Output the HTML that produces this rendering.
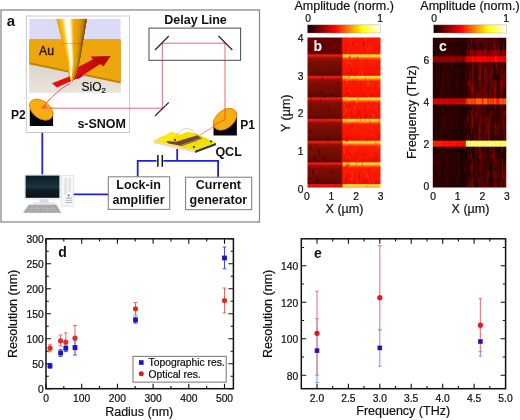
<!DOCTYPE html>
<html lang="en"><head><meta charset="utf-8"><title>Figure</title>
<style>html,body{margin:0;padding:0;background:#fff;}body{width:520px;height:420px;overflow:hidden;}svg{display:block;}text{font-family:"Liberation Sans", Arial, sans-serif;fill:#111;}.b{font-weight:bold;stroke:none !important;}.t10{font-size:10.3px;stroke:#111;stroke-width:0.22px;}.t12{font-size:12.5px;stroke:#111;stroke-width:0.2px;}.pl{font-size:14px;font-weight:bold;}</style></head><body>
<svg width="520" height="420" viewBox="0 0 520 420">
<defs>
<linearGradient id="hot" x1="0" x2="1" y1="0" y2="0"><stop offset="0" stop-color="#0c0000"/><stop offset="0.375" stop-color="#ff0000"/><stop offset="0.75" stop-color="#ffff00"/><stop offset="1" stop-color="#ffffff"/></linearGradient>
<linearGradient id="bl" x1="0" x2="0" y1="0" y2="1"><stop offset="0" stop-color="#c41408"/><stop offset="0.04" stop-color="#e41e0c"/><stop offset="0.10" stop-color="#d81a0a"/><stop offset="0.17" stop-color="#9a0e08"/><stop offset="0.32" stop-color="#800a06"/><stop offset="1" stop-color="#5c0604"/></linearGradient>
<linearGradient id="br" x1="0" x2="0" y1="0" y2="1"><stop offset="0" stop-color="#ffa820"/><stop offset="0.04" stop-color="#ffe040"/><stop offset="0.10" stop-color="#ffd42c"/><stop offset="0.16" stop-color="#ff7810"/><stop offset="0.25" stop-color="#ff2006"/><stop offset="1" stop-color="#f80e02"/></linearGradient>
<linearGradient id="tip" x1="0" x2="1" y1="0" y2="0"><stop offset="0" stop-color="#e09800"/><stop offset="0.12" stop-color="#f0b418"/><stop offset="0.22" stop-color="#fff2b8"/><stop offset="0.30" stop-color="#ffffff"/><stop offset="0.38" stop-color="#ffffff"/><stop offset="0.46" stop-color="#ffd458"/><stop offset="0.54" stop-color="#e8a208"/><stop offset="0.80" stop-color="#d89400"/><stop offset="0.93" stop-color="#b07400"/><stop offset="1" stop-color="#6a4400"/></linearGradient>
<linearGradient id="arr" gradientUnits="userSpaceOnUse" x1="52" y1="85" x2="110" y2="56"><stop offset="0" stop-color="#e81010"/><stop offset="0.45" stop-color="#dc0e0e"/><stop offset="0.75" stop-color="#c40a0a"/><stop offset="1" stop-color="#b00808"/></linearGradient>
<linearGradient id="sio" x1="0" x2="0" y1="0" y2="1"><stop offset="0" stop-color="#d8d4d0"/><stop offset="1" stop-color="#ece2d8"/></linearGradient>
<linearGradient id="scr" x1="0" x2="0" y1="0" y2="1"><stop offset="0" stop-color="#0a1a22"/><stop offset="0.55" stop-color="#1c3640"/><stop offset="0.6" stop-color="#0e2028"/><stop offset="1" stop-color="#0a1418"/></linearGradient>
<filter id="bl6" x="-5%" y="-5%" width="110%" height="110%"><feGaussianBlur stdDeviation="0.5 0.55"/></filter>
<filter id="bl4" x="-5%" y="-5%" width="110%" height="110%"><feGaussianBlur stdDeviation="0.5"/></filter>
<clipPath id="cimg"><rect x="29.4" y="18.8" width="91.2" height="73.7"/></clipPath>
<clipPath id="cb"><rect x="307.5" y="37.5" width="73" height="150"/></clipPath>
<clipPath id="cc"><rect x="432.8" y="37.7" width="73.5" height="149.8"/></clipPath>
</defs>
<rect x="0" y="0" width="520" height="420" fill="#ffffff"/>
<g id="panelA">
<rect x="1" y="10" width="258.5" height="212" fill="#ffffff" stroke="#8a8a8a" stroke-width="1.3"/>
<text class="pl" x="6.8" y="26.3" style="font-size:15px">a</text>
<rect x="26.3" y="16" width="103.1" height="116.5" fill="#ffffff" stroke="#c4c4c4" stroke-width="0.9"/>
<g clip-path="url(#cimg)">
<rect x="29" y="18" width="92" height="75" fill="#dbdbf8"/>
<rect x="29" y="60" width="92" height="33" fill="url(#sio)"/>
<polygon points="29,39.6 121,39.6 121,83.5 29,64.3" fill="#c48000"/>
<polygon points="29,39.6 121,39.6 121,81.4 29,62.2" fill="#eda60c"/>
<polygon points="52,83.3 57,87.6 76,79 82.3,75.6 100.2,64 103.6,66.3 110.6,56 91,56.5 92.7,59.4 77.1,67.5 72,72 68.1,76.9" fill="url(#arr)"/><polygon points="76.4,77.4 82.3,74.2 82.6,76.2 77.6,79" fill="#a80404"/>
<polygon points="56.20,18.00 66.90,62.50 68.80,75.00 71.00,80.20 71.70,81.60 72.30,81.60 73.00,80.20 75.20,75.00 79.40,62.50 87.00,18.00" fill="#e79f02"/>
<polygon points="57.30,18.00 67.35,62.50 69.03,75.00 71.07,80.20 71.72,81.60 72.30,81.60 73.00,80.20 75.20,75.00 79.40,62.50 87.00,18.00" fill="#f5ad07"/>
<polygon points="58.40,18.00 67.79,62.50 69.26,75.00 71.14,80.20 71.74,81.60 72.30,81.60 73.00,80.20 75.20,75.00 79.40,62.50 87.00,18.00" fill="#fab40b"/>
<polygon points="59.50,18.00 68.24,62.50 69.49,75.00 71.21,80.20 71.76,81.60 72.30,81.60 73.00,80.20 75.20,75.00 79.40,62.50 87.00,18.00" fill="#fdb90e"/>
<polygon points="60.60,18.00 68.69,62.50 69.71,75.00 71.29,80.20 71.79,81.60 72.30,81.60 73.00,80.20 75.20,75.00 79.40,62.50 87.00,18.00" fill="#ffc01b"/>
<polygon points="61.70,18.00 69.13,62.50 69.94,75.00 71.36,80.20 71.81,81.60 72.30,81.60 73.00,80.20 75.20,75.00 79.40,62.50 87.00,18.00" fill="#ffcf42"/>
<polygon points="62.80,18.00 69.58,62.50 70.17,75.00 71.43,80.20 71.83,81.60 72.30,81.60 73.00,80.20 75.20,75.00 79.40,62.50 87.00,18.00" fill="#ffe182"/>
<polygon points="63.90,18.00 70.03,62.50 70.40,75.00 71.50,80.20 71.85,81.60 72.30,81.60 73.00,80.20 75.20,75.00 79.40,62.50 87.00,18.00" fill="#fff5cc"/>
<polygon points="65.00,18.00 70.47,62.50 70.63,75.00 71.57,80.20 71.87,81.60 72.30,81.60 73.00,80.20 75.20,75.00 79.40,62.50 87.00,18.00" fill="#ffffff"/>
<polygon points="66.10,18.00 70.92,62.50 70.86,75.00 71.64,80.20 71.89,81.60 72.30,81.60 73.00,80.20 75.20,75.00 79.40,62.50 87.00,18.00" fill="#ffffff"/>
<polygon points="67.20,18.00 71.36,62.50 71.09,75.00 71.71,80.20 71.91,81.60 72.30,81.60 73.00,80.20 75.20,75.00 79.40,62.50 87.00,18.00" fill="#ffffff"/>
<polygon points="68.30,18.00 71.81,62.50 71.31,75.00 71.79,80.20 71.94,81.60 72.30,81.60 73.00,80.20 75.20,75.00 79.40,62.50 87.00,18.00" fill="#ffffff"/>
<polygon points="69.40,18.00 72.26,62.50 71.54,75.00 71.86,80.20 71.96,81.60 72.30,81.60 73.00,80.20 75.20,75.00 79.40,62.50 87.00,18.00" fill="#fff0c0"/>
<polygon points="70.50,18.00 72.70,62.50 71.77,75.00 71.93,80.20 71.98,81.60 72.30,81.60 73.00,80.20 75.20,75.00 79.40,62.50 87.00,18.00" fill="#fedb6d"/>
<polygon points="71.60,18.00 73.15,62.50 72.00,75.00 72.00,80.20 72.00,81.60 72.30,81.60 73.00,80.20 75.20,75.00 79.40,62.50 87.00,18.00" fill="#f6c23c"/>
<polygon points="72.70,18.00 73.60,62.50 72.23,75.00 72.07,80.20 72.02,81.60 72.30,81.60 73.00,80.20 75.20,75.00 79.40,62.50 87.00,18.00" fill="#eeac10"/>
<polygon points="73.80,18.00 74.04,62.50 72.46,75.00 72.14,80.20 72.04,81.60 72.30,81.60 73.00,80.20 75.20,75.00 79.40,62.50 87.00,18.00" fill="#eba90d"/>
<polygon points="74.90,18.00 74.49,62.50 72.69,75.00 72.21,80.20 72.06,81.60 72.30,81.60 73.00,80.20 75.20,75.00 79.40,62.50 87.00,18.00" fill="#e8a50b"/>
<polygon points="76.00,18.00 74.94,62.50 72.91,75.00 72.29,80.20 72.09,81.60 72.30,81.60 73.00,80.20 75.20,75.00 79.40,62.50 87.00,18.00" fill="#e5a208"/>
<polygon points="77.10,18.00 75.38,62.50 73.14,75.00 72.36,80.20 72.11,81.60 72.30,81.60 73.00,80.20 75.20,75.00 79.40,62.50 87.00,18.00" fill="#e39f06"/>
<polygon points="78.20,18.00 75.83,62.50 73.37,75.00 72.43,80.20 72.13,81.60 72.30,81.60 73.00,80.20 75.20,75.00 79.40,62.50 87.00,18.00" fill="#e09c03"/>
<polygon points="79.30,18.00 76.28,62.50 73.60,75.00 72.50,80.20 72.15,81.60 72.30,81.60 73.00,80.20 75.20,75.00 79.40,62.50 87.00,18.00" fill="#dd9901"/>
<polygon points="80.40,18.00 76.72,62.50 73.83,75.00 72.57,80.20 72.17,81.60 72.30,81.60 73.00,80.20 75.20,75.00 79.40,62.50 87.00,18.00" fill="#d69200"/>
<polygon points="81.50,18.00 77.17,62.50 74.06,75.00 72.64,80.20 72.19,81.60 72.30,81.60 73.00,80.20 75.20,75.00 79.40,62.50 87.00,18.00" fill="#cc8a00"/>
<polygon points="82.60,18.00 77.61,62.50 74.29,75.00 72.71,80.20 72.21,81.60 72.30,81.60 73.00,80.20 75.20,75.00 79.40,62.50 87.00,18.00" fill="#c38200"/>
<polygon points="83.70,18.00 78.06,62.50 74.51,75.00 72.79,80.20 72.24,81.60 72.30,81.60 73.00,80.20 75.20,75.00 79.40,62.50 87.00,18.00" fill="#b47600"/>
<polygon points="84.80,18.00 78.51,62.50 74.74,75.00 72.86,80.20 72.26,81.60 72.30,81.60 73.00,80.20 75.20,75.00 79.40,62.50 87.00,18.00" fill="#996400"/>
<polygon points="85.90,18.00 78.95,62.50 74.97,75.00 72.93,80.20 72.28,81.60 72.30,81.60 73.00,80.20 75.20,75.00 79.40,62.50 87.00,18.00" fill="#7e5100"/>
<line x1="62" y1="43.3" x2="81.4" y2="43.3" stroke="#8a5c00" stroke-width="0.5" opacity="0.8"/>
</g>
<rect x="50" y="17" width="45" height="1.8" fill="#ffffff"/>
<text class="t12" x="39" y="55.4" style="font-size:12.2px;fill:#2e1600;stroke:#2e1600;stroke-width:0.4px">Au</text>
<text class="t12" x="81.6" y="90.5" style="font-size:12px">SiO<tspan dy="2.6" style="font-size:7.8px">2</tspan></text>
<g fill="none" stroke="#ee6a72" stroke-width="1">
<path d="M41.3,108.2 H162.3 V43.2 H225 V119.5"/><path d="M225,119.5 L199.5,135.2" stroke="#f08c8c"/>
</g>
<path d="M41.3,108.2 C52,97 60,88 70.5,83.5" fill="none" stroke="#e02020" stroke-width="0.7"/>
<path d="M29.8,103 L29.8,126 L53.1,126 L53.1,112 Z" fill="#050510"/>
<ellipse cx="41.2" cy="109.6" rx="13.2" ry="8.6" transform="rotate(38 41.2 109.6)" fill="#f8ae12" stroke="#e08400" stroke-width="0.8"/>
<path d="M41.3,108.2 L46,104 L47,108.2 Z" fill="#ee7a10"/>
<path d="M41.3,108.2 H53" stroke="#ee6a72" stroke-width="1" fill="none"/>
<path d="M41.3,108.2 C45,104.3 47,102 49,100" stroke="#e04020" stroke-width="0.7" fill="none"/>
<text class="b t12" x="11" y="118.8" style="font-size:12px">P2</text>
<text class="b t12" x="77.4" y="127.6">s-SNOM</text>
<text class="b t12" x="164.3" y="24">Delay Line</text>
<rect x="149" y="28.1" width="91.6" height="32.2" fill="none" stroke="#4a4a4a" stroke-width="1"/>
<g stroke="#2a2a2a" stroke-width="1.3" stroke-linecap="butt">
<line x1="155" y1="50" x2="168.8" y2="36"/>
<line x1="218.5" y1="36" x2="232.3" y2="50"/>
<line x1="155" y1="116" x2="168.8" y2="102.4"/>
</g>
<path d="M213.5,122 L213.5,135.6 L236.9,135.6 L236.9,112.5 Z" fill="#050510"/>
<ellipse cx="225" cy="119.2" rx="13.4" ry="8.8" transform="rotate(-40 225 119.2)" fill="#f8ae12" stroke="#e08400" stroke-width="0.8"/>
<path d="M225,108.5 V119.5 L213.8,125.2" stroke="#e8601c" stroke-width="1" fill="none"/>
<text class="b t12" x="240.2" y="128.8" style="font-size:12px">P1</text>
<g id="qcl">
<polygon points="153.3,140.7 153.3,142.9 195.1,152.8 195.1,150.4" fill="#ead6cc"/>
<polygon points="195.1,150.4 195.1,152.9 215.9,145.2 215.9,142.8" fill="#34342c"/>
<polygon points="153.3,140.7 171.5,132 181,134.4 187,131.8 196.5,133.4 215.9,142.8 195.1,150.4" fill="#f4e000"/>
<polygon points="171.5,132 181,134.4 164,142 153.3,140.7" fill="#fdea1c"/>
<polygon points="166.5,141 176,141.7 197.5,135.3 201.3,137.9 179.5,145.5 168,143.2" fill="#6e4436"/>
<polygon points="179.5,145.5 201.3,137.9 202.4,138.8 181.4,146.2" fill="#8a6a50"/>
<path d="M175,139.7 C177,128 190,124.5 196.5,134.5" fill="none" stroke="#b4bc9c" stroke-width="0.6"/>
<path d="M193.8,147 C196,139 203,136.5 211,141.4" fill="none" stroke="#c8b458" stroke-width="0.5"/>
<circle cx="175" cy="139.9" r="1" fill="#222"/>
<circle cx="193.9" cy="147" r="1" fill="#222"/>
<circle cx="211" cy="141.4" r="1" fill="#222"/>
</g>
<text class="b t12" x="215.4" y="156">QCL</text>
<g fill="none" stroke="#2020dc" stroke-width="1.8">
<path d="M42.3,132.8 V175.5"/>
<path d="M72.8,194.3 H108.3"/>
<path d="M137.7,176.8 V160.9 H156.6"/>
<path d="M163.4,160.9 H218.1 V177.2"/>
<path d="M177.2,149 V160.9"/>
</g>
<g stroke="#111" stroke-width="1.5">
<line x1="157.9" y1="155" x2="157.9" y2="166.8"/>
<line x1="162.3" y1="155" x2="162.3" y2="166.8"/>
</g>
<rect x="108.3" y="176.8" width="61.4" height="32.6" fill="#fff" stroke="#7a7a7a" stroke-width="1"/>
<text class="b t12" x="138.6" y="188.6" text-anchor="middle">Lock-in</text>
<text class="b t12" x="138.6" y="203.5" text-anchor="middle">amplifier</text>
<rect x="185.6" y="177.2" width="66.1" height="32.5" fill="#fff" stroke="#7a7a7a" stroke-width="1"/>
<text class="b t12" x="218.4" y="189" text-anchor="middle">Current</text>
<text class="b t12" x="218.4" y="204" text-anchor="middle">generator</text>
<g id="pc">
<rect x="24.6" y="174.6" width="35.8" height="24.6" rx="0.8" fill="#eef0f2" stroke="#dde0e4" stroke-width="0.5"/>
<rect x="25.6" y="175.6" width="33.8" height="22.2" fill="url(#scr)"/>
<rect x="39.5" y="199.2" width="9" height="3.6" fill="#d8dadc"/>
<rect x="33" y="202.4" width="22" height="1.6" fill="#e2e4e6"/>
<polygon points="28.6,204.6 56.6,204.6 61.4,213 23,213" fill="#b4b6b8"/>
<polygon points="29.4,205.4 55.8,205.4 59.4,211.6 25,211.6" fill="#8c8e90"/>
<g stroke="#d4d6d8" stroke-width="0.5">
<line x1="31.6" y1="205.4" x2="27.9" y2="211.6"/>
<line x1="33.8" y1="205.4" x2="30.7" y2="211.6"/>
<line x1="36.0" y1="205.4" x2="33.6" y2="211.6"/>
<line x1="38.2" y1="205.4" x2="36.5" y2="211.6"/>
<line x1="40.4" y1="205.4" x2="39.3" y2="211.6"/>
<line x1="42.6" y1="205.4" x2="42.2" y2="211.6"/>
<line x1="44.8" y1="205.4" x2="45.1" y2="211.6"/>
<line x1="47.0" y1="205.4" x2="47.9" y2="211.6"/>
<line x1="49.2" y1="205.4" x2="50.8" y2="211.6"/>
<line x1="51.4" y1="205.4" x2="53.7" y2="211.6"/>
<line x1="53.6" y1="205.4" x2="56.5" y2="211.6"/>
<line x1="26" y1="207.0" x2="59" y2="207.0"/>
<line x1="26" y1="208.6" x2="59" y2="208.6"/>
<line x1="26" y1="210.2" x2="59" y2="210.2"/>
</g>
<rect x="61.6" y="175.6" width="11.8" height="30.6" fill="#f6f7f8" stroke="#d4d8dc" stroke-width="0.6"/>
<rect x="64.4" y="178" width="2.2" height="17" fill="#dcdfe2"/>
<rect x="68.2" y="178" width="2.6" height="14" fill="#e2e4e8"/>
<rect x="66" y="197.6" width="6" height="1" fill="#a8acb0"/>
<rect x="66" y="199.8" width="6" height="1" fill="#b4b8bc"/>
<rect x="66" y="202" width="6" height="1" fill="#b4b8bc"/>
<circle cx="68.6" cy="195.4" r="0.9" fill="#5a6068"/>
</g>
</g>
<g id="panelB">
<text class="t12" x="344.2" y="9.6" text-anchor="middle">Amplitude (norm.)</text>
<text class="t10" x="308.2" y="22" text-anchor="middle">0</text>
<text class="t10" x="380.2" y="22" text-anchor="middle">1</text>
<rect x="307.5" y="24.9" width="72.9" height="8.1" fill="url(#hot)" stroke="#8a8a8a" stroke-width="0.35"/>
<g clip-path="url(#cb)"><g filter="url(#bl4)">
<rect x="303.5" y="30" width="38.1" height="165" fill="#600604"/>
<rect x="341.6" y="30" width="42.9" height="165" fill="#fc1204"/>
<rect x="303.5" y="30" width="38.7" height="24.4" fill="#640604"/>
<rect x="342.2" y="30" width="42.9" height="24.4" fill="#fc1404"/>
<rect x="303.5" y="54.2" width="38.7" height="21.7" fill="url(#bl)"/>
<rect x="342.2" y="54.2" width="42.9" height="21.7" fill="url(#br)"/>
<rect x="303.5" y="75.7" width="38.7" height="21.7" fill="url(#bl)"/>
<rect x="342.2" y="75.7" width="42.9" height="21.7" fill="url(#br)"/>
<rect x="303.5" y="97.2" width="38.7" height="21.7" fill="url(#bl)"/>
<rect x="342.2" y="97.2" width="42.9" height="21.7" fill="url(#br)"/>
<rect x="303.5" y="118.7" width="38.7" height="21.7" fill="url(#bl)"/>
<rect x="342.2" y="118.7" width="42.9" height="21.7" fill="url(#br)"/>
<rect x="303.5" y="140.7" width="38.7" height="21.7" fill="url(#bl)"/>
<rect x="342.2" y="140.7" width="42.9" height="21.7" fill="url(#br)"/>
<rect x="303.5" y="162.2" width="38.7" height="21.7" fill="url(#bl)"/>
<rect x="342.2" y="162.2" width="42.9" height="21.7" fill="url(#br)"/>
<rect x="303.5" y="184.0" width="38.7" height="21.7" fill="url(#bl)"/>
<rect x="342.2" y="184.0" width="42.9" height="21.7" fill="url(#br)"/>
<rect x="341.2" y="30" width="1.6" height="165" fill="#a01810" opacity="0.5"/>
<rect x="355.2" y="60.3" width="1.3" height="4.8" fill="#a00400" opacity="0.14"/>
<rect x="362.8" y="92.1" width="1.3" height="2.7" fill="#a00400" opacity="0.23"/>
<rect x="344.9" y="102.2" width="1.3" height="2.7" fill="#a00400" opacity="0.14"/>
<rect x="358.8" y="160.4" width="1.3" height="2.9" fill="#a00400" opacity="0.17"/>
<rect x="366.1" y="178.3" width="1.3" height="4.5" fill="#a00400" opacity="0.21"/>
<rect x="378.6" y="44.9" width="1.3" height="5.5" fill="#a00400" opacity="0.18"/>
<rect x="348.8" y="55.4" width="1.3" height="3.6" fill="#a00400" opacity="0.30"/>
<rect x="350.1" y="124.1" width="1.3" height="4.7" fill="#a00400" opacity="0.20"/>
<rect x="363.3" y="47.3" width="1.3" height="2.7" fill="#a00400" opacity="0.17"/>
<rect x="368.0" y="101.3" width="1.3" height="3.6" fill="#a00400" opacity="0.25"/>
<rect x="359.9" y="82.4" width="1.3" height="5.3" fill="#a00400" opacity="0.27"/>
<rect x="352.4" y="123.0" width="1.3" height="4.3" fill="#a00400" opacity="0.31"/>
<rect x="369.8" y="80.6" width="1.3" height="5.9" fill="#a00400" opacity="0.15"/>
<rect x="358.6" y="150.1" width="1.3" height="3.0" fill="#a00400" opacity="0.23"/>
<rect x="345.0" y="136.9" width="1.3" height="5.2" fill="#a00400" opacity="0.25"/>
<rect x="375.0" y="84.4" width="1.3" height="4.9" fill="#a00400" opacity="0.25"/>
<rect x="364.4" y="105.5" width="1.3" height="5.4" fill="#a00400" opacity="0.33"/>
<rect x="360.6" y="136.3" width="1.3" height="2.7" fill="#a00400" opacity="0.27"/>
<rect x="366.8" y="185.0" width="1.3" height="5.4" fill="#a00400" opacity="0.18"/>
<rect x="357.4" y="137.0" width="1.3" height="2.6" fill="#a00400" opacity="0.22"/>
<rect x="349.6" y="55.3" width="1.3" height="2.7" fill="#a00400" opacity="0.29"/>
<rect x="348.2" y="74.6" width="1.3" height="3.9" fill="#a00400" opacity="0.31"/>
<rect x="346.5" y="104.5" width="1.3" height="4.4" fill="#a00400" opacity="0.31"/>
<rect x="373.0" y="165.9" width="1.3" height="3.5" fill="#a00400" opacity="0.21"/>
<rect x="356.5" y="168.9" width="1.3" height="5.9" fill="#a00400" opacity="0.15"/>
<rect x="349.9" y="72.3" width="1.3" height="3.3" fill="#a00400" opacity="0.23"/>
<rect x="364.7" y="76.9" width="1.3" height="2.5" fill="#a00400" opacity="0.21"/>
<rect x="356.9" y="121.8" width="1.3" height="5.8" fill="#a00400" opacity="0.27"/>
<rect x="362.1" y="129.4" width="1.3" height="4.9" fill="#a00400" opacity="0.13"/>
<rect x="375.9" y="153.4" width="1.3" height="5.6" fill="#a00400" opacity="0.30"/>
<rect x="357.7" y="97.0" width="1.3" height="2.9" fill="#a00400" opacity="0.26"/>
<rect x="345.8" y="48.0" width="1.3" height="3.2" fill="#a00400" opacity="0.16"/>
<rect x="355.8" y="45.8" width="1.3" height="2.5" fill="#a00400" opacity="0.15"/>
<rect x="347.2" y="91.8" width="1.3" height="2.6" fill="#a00400" opacity="0.31"/>
<rect x="365.6" y="60.0" width="1.3" height="3.4" fill="#a00400" opacity="0.20"/>
<rect x="356.7" y="56.2" width="1.3" height="5.5" fill="#a00400" opacity="0.34"/>
<rect x="360.3" y="109.6" width="1.3" height="2.8" fill="#a00400" opacity="0.14"/>
<rect x="355.9" y="77.2" width="1.3" height="5.4" fill="#a00400" opacity="0.16"/>
<rect x="344.4" y="178.7" width="1.3" height="4.3" fill="#a00400" opacity="0.15"/>
<rect x="363.1" y="42.0" width="1.3" height="4.3" fill="#a00400" opacity="0.34"/>
<rect x="374.6" y="141.0" width="1.3" height="3.4" fill="#a00400" opacity="0.20"/>
<rect x="349.6" y="152.2" width="1.3" height="4.4" fill="#a00400" opacity="0.29"/>
<rect x="355.4" y="71.0" width="1.3" height="5.3" fill="#a00400" opacity="0.34"/>
<rect x="374.2" y="157.3" width="1.3" height="5.4" fill="#a00400" opacity="0.28"/>
<rect x="351.7" y="114.6" width="1.3" height="3.7" fill="#a00400" opacity="0.13"/>
<rect x="344.6" y="79.4" width="1.3" height="3.4" fill="#a00400" opacity="0.27"/>
<rect x="377.9" y="104.2" width="1.3" height="5.8" fill="#a00400" opacity="0.34"/>
<rect x="377.9" y="92.0" width="1.3" height="3.3" fill="#a00400" opacity="0.17"/>
<rect x="350.7" y="68.2" width="1.3" height="4.7" fill="#a00400" opacity="0.32"/>
<rect x="373.8" y="109.0" width="1.3" height="4.8" fill="#a00400" opacity="0.30"/>
<rect x="346.6" y="135.8" width="1.3" height="5.7" fill="#a00400" opacity="0.29"/>
<rect x="370.5" y="108.7" width="1.3" height="3.1" fill="#a00400" opacity="0.29"/>
<rect x="355.5" y="156.5" width="1.3" height="5.9" fill="#a00400" opacity="0.21"/>
<rect x="358.0" y="178.1" width="1.3" height="5.0" fill="#a00400" opacity="0.16"/>
<rect x="348.2" y="60.4" width="1.3" height="5.7" fill="#a00400" opacity="0.30"/>
<rect x="348.8" y="160.3" width="1.3" height="5.9" fill="#a00400" opacity="0.26"/>
<rect x="356.2" y="119.2" width="1.3" height="3.0" fill="#a00400" opacity="0.12"/>
<rect x="378.5" y="134.2" width="1.3" height="4.3" fill="#a00400" opacity="0.33"/>
<rect x="359.2" y="167.0" width="1.3" height="5.4" fill="#a00400" opacity="0.17"/>
<rect x="352.6" y="81.4" width="1.3" height="3.3" fill="#a00400" opacity="0.25"/>
<rect x="352.9" y="100.0" width="1.3" height="3.0" fill="#a00400" opacity="0.32"/>
<rect x="356.3" y="105.8" width="1.3" height="4.5" fill="#a00400" opacity="0.32"/>
<rect x="358.7" y="173.8" width="1.3" height="4.3" fill="#a00400" opacity="0.24"/>
<rect x="362.4" y="40.8" width="1.3" height="4.0" fill="#a00400" opacity="0.16"/>
<rect x="343.7" y="156.3" width="1.3" height="3.1" fill="#a00400" opacity="0.22"/>
<rect x="369.6" y="120.4" width="1.3" height="3.6" fill="#a00400" opacity="0.23"/>
<rect x="363.5" y="154.1" width="1.3" height="2.9" fill="#a00400" opacity="0.24"/>
<rect x="352.5" y="79.0" width="1.3" height="5.2" fill="#a00400" opacity="0.23"/>
<rect x="363.8" y="150.5" width="1.3" height="5.7" fill="#a00400" opacity="0.22"/>
<rect x="365.6" y="112.8" width="1.3" height="4.3" fill="#a00400" opacity="0.27"/>
<rect x="359.8" y="116.9" width="1.3" height="4.2" fill="#a00400" opacity="0.33"/>
<rect x="368.7" y="167.7" width="1.3" height="5.8" fill="#a00400" opacity="0.18"/>
<rect x="363.7" y="177.6" width="1.3" height="5.4" fill="#a00400" opacity="0.15"/>
<rect x="348.0" y="103.4" width="1.3" height="2.8" fill="#a00400" opacity="0.17"/>
<rect x="346.2" y="137.1" width="1.3" height="5.2" fill="#a00400" opacity="0.32"/>
<rect x="349.1" y="144.0" width="1.3" height="4.8" fill="#a00400" opacity="0.15"/>
<rect x="375.3" y="181.2" width="1.3" height="3.3" fill="#a00400" opacity="0.33"/>
<rect x="357.9" y="110.1" width="1.3" height="6.0" fill="#a00400" opacity="0.30"/>
<rect x="349.4" y="101.9" width="1.3" height="4.3" fill="#a00400" opacity="0.19"/>
<rect x="350.6" y="85.1" width="1.3" height="5.0" fill="#a00400" opacity="0.12"/>
<rect x="363.5" y="103.2" width="1.3" height="2.6" fill="#a00400" opacity="0.19"/>
<rect x="366.0" y="113.8" width="1.3" height="2.7" fill="#a00400" opacity="0.34"/>
<rect x="371.9" y="181.8" width="1.3" height="2.9" fill="#a00400" opacity="0.18"/>
<rect x="345.0" y="153.3" width="1.3" height="3.4" fill="#a00400" opacity="0.15"/>
<rect x="358.8" y="172.9" width="1.3" height="5.4" fill="#a00400" opacity="0.18"/>
<rect x="349.0" y="174.0" width="1.3" height="4.5" fill="#a00400" opacity="0.27"/>
<rect x="346.8" y="46.5" width="1.3" height="4.9" fill="#a00400" opacity="0.21"/>
<rect x="346.2" y="176.9" width="1.3" height="4.7" fill="#a00400" opacity="0.30"/>
<rect x="346.6" y="164.7" width="1.3" height="2.7" fill="#a00400" opacity="0.31"/>
<rect x="359.9" y="88.2" width="1.3" height="4.4" fill="#a00400" opacity="0.32"/>
<rect x="353.2" y="57.1" width="1.3" height="4.3" fill="#a00400" opacity="0.17"/>
<rect x="347.5" y="61.9" width="1.3" height="2.7" fill="#a00400" opacity="0.16"/>
<rect x="354.8" y="83.1" width="1.3" height="5.2" fill="#a00400" opacity="0.18"/>
<rect x="361.6" y="64.3" width="1.3" height="3.7" fill="#a00400" opacity="0.12"/>
<rect x="352.6" y="40.3" width="1.3" height="5.1" fill="#a00400" opacity="0.24"/>
<rect x="350.4" y="108.3" width="1.3" height="5.8" fill="#a00400" opacity="0.14"/>
<rect x="373.0" y="102.0" width="1.3" height="4.2" fill="#a00400" opacity="0.30"/>
<rect x="357.7" y="113.0" width="1.3" height="4.9" fill="#a00400" opacity="0.34"/>
<rect x="355.9" y="161.2" width="1.3" height="5.0" fill="#a00400" opacity="0.26"/>
<rect x="358.1" y="89.4" width="1.3" height="2.7" fill="#a00400" opacity="0.15"/>
<rect x="346.1" y="147.7" width="1.3" height="3.4" fill="#a00400" opacity="0.16"/>
<rect x="346.6" y="162.5" width="1.3" height="5.5" fill="#a00400" opacity="0.27"/>
<rect x="353.7" y="73.8" width="1.3" height="3.5" fill="#a00400" opacity="0.22"/>
<rect x="349.3" y="104.0" width="1.3" height="3.4" fill="#a00400" opacity="0.33"/>
<rect x="378.5" y="119.0" width="1.3" height="3.4" fill="#a00400" opacity="0.33"/>
<rect x="354.7" y="90.8" width="1.3" height="2.5" fill="#a00400" opacity="0.20"/>
<rect x="360.6" y="112.4" width="1.3" height="3.2" fill="#a00400" opacity="0.23"/>
<rect x="343.8" y="77.1" width="1.3" height="2.8" fill="#a00400" opacity="0.21"/>
<rect x="345.1" y="41.3" width="1.3" height="3.6" fill="#a00400" opacity="0.17"/>
<rect x="364.6" y="116.3" width="1.3" height="5.1" fill="#a00400" opacity="0.26"/>
<rect x="369.3" y="168.1" width="1.3" height="3.9" fill="#a00400" opacity="0.19"/>
<rect x="379.0" y="60.1" width="1.3" height="5.0" fill="#a00400" opacity="0.26"/>
<rect x="345.2" y="161.6" width="1.3" height="5.6" fill="#a00400" opacity="0.26"/>
<rect x="369.9" y="158.2" width="1.3" height="3.0" fill="#a00400" opacity="0.24"/>
<rect x="361.7" y="161.6" width="1.3" height="5.3" fill="#a00400" opacity="0.30"/>
<rect x="364.6" y="170.1" width="1.3" height="4.9" fill="#a00400" opacity="0.27"/>
<rect x="351.9" y="42.6" width="1.3" height="3.0" fill="#a00400" opacity="0.20"/>
<rect x="347.4" y="161.7" width="1.3" height="4.5" fill="#a00400" opacity="0.26"/>
<rect x="366.1" y="138.7" width="1.3" height="4.2" fill="#a00400" opacity="0.12"/>
<rect x="372.2" y="148.7" width="1.3" height="4.3" fill="#a00400" opacity="0.24"/>
<rect x="367.3" y="47.8" width="1.3" height="3.8" fill="#ff7a30" opacity="0.21"/>
<rect x="346.3" y="77.3" width="1.3" height="3.8" fill="#ff7a30" opacity="0.20"/>
<rect x="370.2" y="182.4" width="1.3" height="3.2" fill="#ff7a30" opacity="0.25"/>
<rect x="360.8" y="139.2" width="1.3" height="3.9" fill="#ff7a30" opacity="0.30"/>
<rect x="366.7" y="49.5" width="1.3" height="2.4" fill="#ff7a30" opacity="0.21"/>
<rect x="370.3" y="83.1" width="1.3" height="3.4" fill="#ff7a30" opacity="0.15"/>
<rect x="345.8" y="77.8" width="1.3" height="3.7" fill="#ff7a30" opacity="0.32"/>
<rect x="367.9" y="81.0" width="1.3" height="3.3" fill="#ff7a30" opacity="0.27"/>
<rect x="360.3" y="55.5" width="1.3" height="4.2" fill="#ff7a30" opacity="0.20"/>
<rect x="378.7" y="176.6" width="1.3" height="2.0" fill="#ff7a30" opacity="0.26"/>
<rect x="373.0" y="181.3" width="1.3" height="3.1" fill="#ff7a30" opacity="0.22"/>
<rect x="351.1" y="177.9" width="1.3" height="2.5" fill="#ff7a30" opacity="0.30"/>
<rect x="348.7" y="115.6" width="1.3" height="4.4" fill="#ff7a30" opacity="0.18"/>
<rect x="373.0" y="113.3" width="1.3" height="4.2" fill="#ff7a30" opacity="0.33"/>
<rect x="351.9" y="170.9" width="1.3" height="3.2" fill="#ff7a30" opacity="0.16"/>
<rect x="343.7" y="110.8" width="1.3" height="3.1" fill="#ff7a30" opacity="0.23"/>
<rect x="348.7" y="88.9" width="1.3" height="2.8" fill="#ff7a30" opacity="0.36"/>
<rect x="343.7" y="149.1" width="1.3" height="4.1" fill="#ff7a30" opacity="0.18"/>
<rect x="376.9" y="143.5" width="1.3" height="4.3" fill="#ff7a30" opacity="0.22"/>
<rect x="357.0" y="96.1" width="1.3" height="4.5" fill="#ff7a30" opacity="0.30"/>
<rect x="356.5" y="101.4" width="1.3" height="2.7" fill="#ff7a30" opacity="0.16"/>
<rect x="347.3" y="161.5" width="1.3" height="2.7" fill="#ff7a30" opacity="0.38"/>
<rect x="352.6" y="77.3" width="1.3" height="3.3" fill="#ff7a30" opacity="0.20"/>
<rect x="357.0" y="179.5" width="1.3" height="4.2" fill="#ff7a30" opacity="0.35"/>
<rect x="366.2" y="173.2" width="1.3" height="4.4" fill="#ff7a30" opacity="0.29"/>
<rect x="369.4" y="45.3" width="1.3" height="3.8" fill="#ff7a30" opacity="0.26"/>
<rect x="370.6" y="133.4" width="1.3" height="2.7" fill="#ff7a30" opacity="0.16"/>
<rect x="376.9" y="56.8" width="1.3" height="3.2" fill="#ff7a30" opacity="0.24"/>
<rect x="354.3" y="147.4" width="1.3" height="4.4" fill="#ff7a30" opacity="0.22"/>
<rect x="367.2" y="82.5" width="1.3" height="3.4" fill="#ff7a30" opacity="0.25"/>
<rect x="349.6" y="61.9" width="1.3" height="2.5" fill="#ff7a30" opacity="0.38"/>
<rect x="361.4" y="70.6" width="1.3" height="4.3" fill="#ff7a30" opacity="0.40"/>
<rect x="359.8" y="58.7" width="1.3" height="2.5" fill="#ff7a30" opacity="0.17"/>
<rect x="355.9" y="51.5" width="1.3" height="2.6" fill="#ff7a30" opacity="0.21"/>
<rect x="364.0" y="169.3" width="1.3" height="3.9" fill="#ff7a30" opacity="0.25"/>
<rect x="358.5" y="115.6" width="1.3" height="2.9" fill="#ff7a30" opacity="0.23"/>
<rect x="345.8" y="79.1" width="1.3" height="4.4" fill="#ff7a30" opacity="0.18"/>
<rect x="361.7" y="131.2" width="1.3" height="4.2" fill="#ff7a30" opacity="0.20"/>
<rect x="353.3" y="74.8" width="1.3" height="3.0" fill="#ff7a30" opacity="0.26"/>
<rect x="377.8" y="163.6" width="1.3" height="4.2" fill="#ff7a30" opacity="0.16"/>
<rect x="344.8" y="143.0" width="1.3" height="4.2" fill="#ff7a30" opacity="0.27"/>
<rect x="364.7" y="38.0" width="1.3" height="3.0" fill="#ff7a30" opacity="0.38"/>
<rect x="373.2" y="164.6" width="1.3" height="4.4" fill="#ff7a30" opacity="0.21"/>
<rect x="347.5" y="60.8" width="1.3" height="3.3" fill="#ff7a30" opacity="0.32"/>
<rect x="377.4" y="144.8" width="1.3" height="3.6" fill="#ff7a30" opacity="0.34"/>
<rect x="360.0" y="119.6" width="1.3" height="2.1" fill="#ff7a30" opacity="0.35"/>
<rect x="351.9" y="174.1" width="1.3" height="3.6" fill="#ff7a30" opacity="0.23"/>
<rect x="348.2" y="75.3" width="1.3" height="3.6" fill="#ff7a30" opacity="0.32"/>
<rect x="347.6" y="48.4" width="1.3" height="3.3" fill="#ff7a30" opacity="0.30"/>
<rect x="357.5" y="71.1" width="1.3" height="3.5" fill="#ff7a30" opacity="0.15"/>
<rect x="354.4" y="106.2" width="1.3" height="4.4" fill="#ff7a30" opacity="0.31"/>
<rect x="375.3" y="108.3" width="1.3" height="2.6" fill="#ff7a30" opacity="0.21"/>
<rect x="378.1" y="142.3" width="1.3" height="2.8" fill="#ff7a30" opacity="0.16"/>
<rect x="361.5" y="137.8" width="1.3" height="3.1" fill="#ff7a30" opacity="0.21"/>
<rect x="367.6" y="174.9" width="1.3" height="2.6" fill="#ff7a30" opacity="0.16"/>
<rect x="355.7" y="100.2" width="1.3" height="3.7" fill="#ff7a30" opacity="0.20"/>
<rect x="372.2" y="147.4" width="1.3" height="3.3" fill="#ff7a30" opacity="0.20"/>
<rect x="378.4" y="84.1" width="1.3" height="4.1" fill="#ff7a30" opacity="0.21"/>
<rect x="351.5" y="150.5" width="1.3" height="2.7" fill="#ff7a30" opacity="0.39"/>
<rect x="361.4" y="65.7" width="1.3" height="2.6" fill="#ff7a30" opacity="0.25"/>
<rect x="367.5" y="178.4" width="1.3" height="2.4" fill="#ff7a30" opacity="0.25"/>
<rect x="351.2" y="182.2" width="1.3" height="2.4" fill="#ff7a30" opacity="0.16"/>
<rect x="345.8" y="96.2" width="1.3" height="4.2" fill="#ff7a30" opacity="0.37"/>
<rect x="369.9" y="185.6" width="1.3" height="4.3" fill="#ff7a30" opacity="0.23"/>
<rect x="350.3" y="176.5" width="1.3" height="3.9" fill="#ff7a30" opacity="0.16"/>
<rect x="367.5" y="94.0" width="1.3" height="2.9" fill="#ff7a30" opacity="0.23"/>
<rect x="349.7" y="38.4" width="1.3" height="2.7" fill="#ff7a30" opacity="0.24"/>
<rect x="377.9" y="56.3" width="1.3" height="4.4" fill="#ff7a30" opacity="0.20"/>
<rect x="356.4" y="159.6" width="1.3" height="4.1" fill="#ff7a30" opacity="0.26"/>
<rect x="345.4" y="108.1" width="1.3" height="2.9" fill="#ff7a30" opacity="0.38"/>
<rect x="313.7" y="91.9" width="1.3" height="4.7" fill="#8a1410" opacity="0.16"/>
<rect x="315.5" y="130.6" width="1.3" height="3.2" fill="#8a1410" opacity="0.23"/>
<rect x="309.5" y="174.2" width="1.3" height="2.8" fill="#8a1410" opacity="0.30"/>
<rect x="319.2" y="87.6" width="1.3" height="4.9" fill="#8a1410" opacity="0.16"/>
<rect x="337.2" y="82.0" width="1.3" height="4.2" fill="#2a0000" opacity="0.27"/>
<rect x="308.3" y="72.6" width="1.3" height="3.4" fill="#8a1410" opacity="0.34"/>
<rect x="332.9" y="173.2" width="1.3" height="4.4" fill="#8a1410" opacity="0.18"/>
<rect x="313.4" y="156.8" width="1.3" height="4.2" fill="#2a0000" opacity="0.31"/>
<rect x="327.0" y="86.5" width="1.3" height="3.0" fill="#2a0000" opacity="0.22"/>
<rect x="323.9" y="96.0" width="1.3" height="2.5" fill="#2a0000" opacity="0.23"/>
<rect x="323.0" y="118.6" width="1.3" height="2.5" fill="#2a0000" opacity="0.24"/>
<rect x="339.2" y="77.2" width="1.3" height="2.3" fill="#8a1410" opacity="0.17"/>
<rect x="339.2" y="181.9" width="1.3" height="2.5" fill="#8a1410" opacity="0.18"/>
<rect x="327.4" y="137.8" width="1.3" height="4.2" fill="#2a0000" opacity="0.32"/>
<rect x="332.5" y="81.5" width="1.3" height="2.8" fill="#8a1410" opacity="0.20"/>
<rect x="331.2" y="67.5" width="1.3" height="2.7" fill="#2a0000" opacity="0.20"/>
<rect x="316.5" y="172.3" width="1.3" height="2.6" fill="#8a1410" opacity="0.16"/>
<rect x="339.4" y="113.1" width="1.3" height="2.7" fill="#8a1410" opacity="0.31"/>
<rect x="339.3" y="53.1" width="1.3" height="3.4" fill="#8a1410" opacity="0.31"/>
<rect x="336.9" y="44.0" width="1.3" height="2.9" fill="#2a0000" opacity="0.17"/>
<rect x="326.8" y="160.5" width="1.3" height="2.6" fill="#2a0000" opacity="0.17"/>
<rect x="321.9" y="76.5" width="1.3" height="4.3" fill="#2a0000" opacity="0.34"/>
<rect x="328.0" y="143.0" width="1.3" height="3.0" fill="#8a1410" opacity="0.16"/>
<rect x="312.0" y="68.2" width="1.3" height="2.8" fill="#2a0000" opacity="0.27"/>
<rect x="333.7" y="159.2" width="1.3" height="3.2" fill="#8a1410" opacity="0.22"/>
<rect x="310.0" y="42.7" width="1.3" height="3.5" fill="#8a1410" opacity="0.25"/>
<rect x="310.8" y="96.5" width="1.3" height="3.7" fill="#2a0000" opacity="0.28"/>
<rect x="328.5" y="96.9" width="1.3" height="2.8" fill="#8a1410" opacity="0.35"/>
<rect x="320.9" y="45.6" width="1.3" height="4.2" fill="#8a1410" opacity="0.33"/>
<rect x="320.9" y="165.9" width="1.3" height="5.0" fill="#2a0000" opacity="0.22"/>
<rect x="320.0" y="97.9" width="1.3" height="4.8" fill="#2a0000" opacity="0.24"/>
<rect x="321.1" y="159.4" width="1.3" height="3.2" fill="#8a1410" opacity="0.33"/>
<rect x="332.3" y="57.2" width="1.3" height="2.2" fill="#8a1410" opacity="0.18"/>
<rect x="310.4" y="130.1" width="1.3" height="3.1" fill="#2a0000" opacity="0.25"/>
<rect x="318.7" y="61.9" width="1.3" height="2.5" fill="#8a1410" opacity="0.16"/>
<rect x="323.2" y="157.1" width="1.3" height="4.9" fill="#2a0000" opacity="0.19"/>
<rect x="334.4" y="44.4" width="1.3" height="4.7" fill="#8a1410" opacity="0.21"/>
<rect x="310.3" y="143.4" width="1.3" height="4.1" fill="#2a0000" opacity="0.33"/>
<rect x="327.4" y="129.0" width="1.3" height="2.6" fill="#2a0000" opacity="0.24"/>
<rect x="308.8" y="176.9" width="1.3" height="2.5" fill="#2a0000" opacity="0.22"/>
<rect x="315.4" y="145.3" width="1.3" height="4.7" fill="#2a0000" opacity="0.16"/>
<rect x="328.9" y="86.0" width="1.3" height="3.2" fill="#8a1410" opacity="0.24"/>
<rect x="328.3" y="83.6" width="1.3" height="2.7" fill="#8a1410" opacity="0.23"/>
<rect x="321.8" y="102.9" width="1.3" height="2.1" fill="#8a1410" opacity="0.27"/>
<rect x="322.4" y="104.1" width="1.3" height="3.9" fill="#2a0000" opacity="0.31"/>
<rect x="333.5" y="97.3" width="1.3" height="2.2" fill="#8a1410" opacity="0.22"/>
<rect x="310.4" y="103.4" width="1.3" height="3.5" fill="#2a0000" opacity="0.16"/>
<rect x="310.1" y="146.6" width="1.3" height="4.3" fill="#2a0000" opacity="0.25"/>
<rect x="331.6" y="170.4" width="1.3" height="4.0" fill="#2a0000" opacity="0.31"/>
<rect x="335.0" y="185.4" width="1.3" height="4.2" fill="#2a0000" opacity="0.31"/>
<rect x="311.7" y="169.1" width="1.3" height="2.9" fill="#2a0000" opacity="0.31"/>
<rect x="329.5" y="144.7" width="1.3" height="2.7" fill="#8a1410" opacity="0.32"/>
<rect x="312.6" y="170.7" width="1.3" height="2.8" fill="#2a0000" opacity="0.31"/>
<rect x="315.7" y="180.7" width="1.3" height="3.4" fill="#2a0000" opacity="0.27"/>
<rect x="317.7" y="43.5" width="1.3" height="2.5" fill="#8a1410" opacity="0.18"/>
<rect x="329.3" y="170.5" width="1.3" height="2.5" fill="#2a0000" opacity="0.31"/>
<rect x="332.2" y="45.2" width="1.3" height="4.6" fill="#8a1410" opacity="0.34"/>
<rect x="325.3" y="123.8" width="1.3" height="4.6" fill="#8a1410" opacity="0.17"/>
<rect x="331.2" y="93.0" width="1.3" height="3.1" fill="#2a0000" opacity="0.22"/>
<rect x="319.1" y="151.2" width="1.3" height="3.3" fill="#2a0000" opacity="0.19"/>
<rect x="317.0" y="114.4" width="1.3" height="2.9" fill="#8a1410" opacity="0.34"/>
<rect x="331.0" y="148.6" width="1.3" height="2.7" fill="#8a1410" opacity="0.21"/>
<rect x="320.9" y="91.9" width="1.3" height="2.1" fill="#2a0000" opacity="0.25"/>
<rect x="308.2" y="38.4" width="1.3" height="3.1" fill="#8a1410" opacity="0.17"/>
<rect x="324.6" y="99.2" width="1.3" height="2.9" fill="#8a1410" opacity="0.18"/>
<rect x="327.5" y="108.3" width="1.3" height="2.4" fill="#2a0000" opacity="0.34"/>
<rect x="330.2" y="104.7" width="1.3" height="2.2" fill="#8a1410" opacity="0.18"/>
<rect x="320.4" y="77.1" width="1.3" height="2.0" fill="#8a1410" opacity="0.28"/>
<rect x="326.6" y="123.6" width="1.3" height="3.8" fill="#8a1410" opacity="0.25"/>
<rect x="315.5" y="171.7" width="1.3" height="2.1" fill="#8a1410" opacity="0.26"/>
<rect x="313.5" y="61.6" width="1.3" height="4.7" fill="#2a0000" opacity="0.17"/>
<rect x="312.1" y="67.5" width="1.3" height="3.8" fill="#8a1410" opacity="0.25"/>
<rect x="333.6" y="63.8" width="1.3" height="2.9" fill="#2a0000" opacity="0.21"/>
<rect x="339.4" y="145.2" width="1.3" height="3.4" fill="#8a1410" opacity="0.26"/>
<rect x="334.6" y="148.3" width="1.3" height="3.4" fill="#8a1410" opacity="0.30"/>
<rect x="313.1" y="185.5" width="1.3" height="2.8" fill="#2a0000" opacity="0.28"/>
<rect x="318.3" y="148.9" width="1.3" height="4.1" fill="#2a0000" opacity="0.32"/>
<rect x="316.0" y="120.0" width="1.3" height="3.3" fill="#8a1410" opacity="0.31"/>
<rect x="317.0" y="175.4" width="1.3" height="4.7" fill="#2a0000" opacity="0.17"/>
<rect x="312.9" y="171.9" width="1.3" height="4.5" fill="#2a0000" opacity="0.19"/>
</g></g>
<text class="pl" x="313.6" y="51" style="fill:#fff">b</text>
<text class="t10" x="303.6" y="42.1" text-anchor="end">4</text>
<text class="t10" x="303.6" y="79.6" text-anchor="end">3</text>
<text class="t10" x="303.6" y="117.1" text-anchor="end">2</text>
<text class="t10" x="303.6" y="154.6" text-anchor="end">1</text>
<text class="t10" x="303.6" y="193.1" text-anchor="end">0</text>
<text class="t10" x="306.8" y="200.1" text-anchor="middle">0</text>
<text class="t10" x="331.4" y="200.1" text-anchor="middle">1</text>
<text class="t10" x="356.1" y="200.1" text-anchor="middle">2</text>
<text class="t10" x="380.7" y="200.1" text-anchor="middle">3</text>
<text class="t12" x="344.5" y="213.3" text-anchor="middle">X (µm)</text>
<text class="t12" transform="translate(290.1 113.3) rotate(-90)" text-anchor="middle">Y (µm)</text>
</g>
<g id="panelC">
<text class="t12" x="470" y="9.6" text-anchor="middle">Amplitude (norm.)</text>
<text class="t10" x="434.2" y="22" text-anchor="middle">0</text>
<text class="t10" x="506" y="22" text-anchor="middle">1</text>
<rect x="433.6" y="24.9" width="72.6" height="8.1" fill="url(#hot)" stroke="#8a8a8a" stroke-width="0.35"/>
<g clip-path="url(#cc)"><g filter="url(#bl6)">
<rect x="428.8" y="31.7" width="81.5" height="161.8" fill="#4a0808"/>
<rect x="429.80" y="32.21" width="4.92" height="6.73" fill="#200000"/>
<rect x="434.03" y="32.21" width="1.93" height="6.73" fill="#230000"/>
<rect x="435.25" y="32.21" width="1.93" height="6.73" fill="#2f0000"/>
<rect x="436.48" y="32.21" width="1.93" height="6.73" fill="#330000"/>
<rect x="437.70" y="32.21" width="1.93" height="6.73" fill="#2c0000"/>
<rect x="438.93" y="32.21" width="1.93" height="6.73" fill="#340000"/>
<rect x="440.15" y="32.21" width="1.93" height="6.73" fill="#300000"/>
<rect x="441.38" y="32.21" width="1.93" height="6.73" fill="#290000"/>
<rect x="442.60" y="32.21" width="1.93" height="6.73" fill="#290000"/>
<rect x="443.82" y="32.21" width="1.93" height="6.73" fill="#3f0000"/>
<rect x="445.05" y="32.21" width="1.93" height="6.73" fill="#280000"/>
<rect x="446.28" y="32.21" width="1.93" height="6.73" fill="#370000"/>
<rect x="447.50" y="32.21" width="1.93" height="6.73" fill="#240000"/>
<rect x="448.73" y="32.21" width="1.93" height="6.73" fill="#340000"/>
<rect x="449.95" y="32.21" width="1.93" height="6.73" fill="#300000"/>
<rect x="451.18" y="32.21" width="1.93" height="6.73" fill="#340000"/>
<rect x="452.40" y="32.21" width="1.93" height="6.73" fill="#220000"/>
<rect x="453.62" y="32.21" width="1.93" height="6.73" fill="#220000"/>
<rect x="454.85" y="32.21" width="1.93" height="6.73" fill="#370000"/>
<rect x="456.07" y="32.21" width="1.93" height="6.73" fill="#1f0000"/>
<rect x="457.30" y="32.21" width="1.93" height="6.73" fill="#1f0000"/>
<rect x="458.53" y="32.21" width="1.93" height="6.73" fill="#270000"/>
<rect x="459.75" y="32.21" width="1.93" height="6.73" fill="#230000"/>
<rect x="460.98" y="32.21" width="1.93" height="6.73" fill="#280000"/>
<rect x="462.20" y="32.21" width="1.93" height="6.73" fill="#1e0000"/>
<rect x="463.43" y="32.21" width="1.93" height="6.73" fill="#300000"/>
<rect x="464.65" y="32.21" width="1.93" height="6.73" fill="#190000"/>
<rect x="465.88" y="32.21" width="1.93" height="6.73" fill="#1e0000"/>
<rect x="467.10" y="32.21" width="1.93" height="6.73" fill="#3d0000"/>
<rect x="468.33" y="32.21" width="1.93" height="6.73" fill="#2b0000"/>
<rect x="469.55" y="32.21" width="1.93" height="6.73" fill="#310000"/>
<rect x="470.78" y="32.21" width="1.93" height="6.73" fill="#310000"/>
<rect x="472.00" y="32.21" width="1.93" height="6.73" fill="#730000"/>
<rect x="473.23" y="32.21" width="1.93" height="6.73" fill="#740000"/>
<rect x="474.45" y="32.21" width="1.93" height="6.73" fill="#0d0000"/>
<rect x="475.68" y="32.21" width="1.93" height="6.73" fill="#8a0000"/>
<rect x="476.90" y="32.21" width="1.93" height="6.73" fill="#170000"/>
<rect x="478.12" y="32.21" width="1.93" height="6.73" fill="#3b0000"/>
<rect x="479.35" y="32.21" width="1.93" height="6.73" fill="#870000"/>
<rect x="480.58" y="32.21" width="1.93" height="6.73" fill="#6f0000"/>
<rect x="481.80" y="32.21" width="1.93" height="6.73" fill="#3f0000"/>
<rect x="483.03" y="32.21" width="1.93" height="6.73" fill="#540000"/>
<rect x="484.25" y="32.21" width="1.93" height="6.73" fill="#260000"/>
<rect x="485.48" y="32.21" width="1.93" height="6.73" fill="#700000"/>
<rect x="486.70" y="32.21" width="1.93" height="6.73" fill="#230000"/>
<rect x="487.93" y="32.21" width="1.93" height="6.73" fill="#330000"/>
<rect x="489.15" y="32.21" width="1.93" height="6.73" fill="#390000"/>
<rect x="490.38" y="32.21" width="1.93" height="6.73" fill="#0b0000"/>
<rect x="491.60" y="32.21" width="1.93" height="6.73" fill="#450000"/>
<rect x="492.83" y="32.21" width="1.93" height="6.73" fill="#670000"/>
<rect x="494.05" y="32.21" width="1.93" height="6.73" fill="#700000"/>
<rect x="495.28" y="32.21" width="1.93" height="6.73" fill="#3f0000"/>
<rect x="496.50" y="32.21" width="1.93" height="6.73" fill="#6b0000"/>
<rect x="497.73" y="32.21" width="1.93" height="6.73" fill="#290000"/>
<rect x="498.95" y="32.21" width="1.93" height="6.73" fill="#0f0000"/>
<rect x="500.18" y="32.21" width="1.93" height="6.73" fill="#3c0000"/>
<rect x="501.40" y="32.21" width="1.93" height="6.73" fill="#5a0000"/>
<rect x="502.62" y="32.21" width="1.93" height="6.73" fill="#560000"/>
<rect x="503.85" y="32.21" width="1.93" height="6.73" fill="#630000"/>
<rect x="505.08" y="32.21" width="4.92" height="6.73" fill="#520000"/>
<rect x="429.80" y="38.24" width="4.92" height="6.73" fill="#2b0000"/>
<rect x="434.03" y="38.24" width="1.93" height="6.73" fill="#2d0000"/>
<rect x="435.25" y="38.24" width="1.93" height="6.73" fill="#2e0000"/>
<rect x="436.48" y="38.24" width="1.93" height="6.73" fill="#240000"/>
<rect x="437.70" y="38.24" width="1.93" height="6.73" fill="#2f0000"/>
<rect x="438.93" y="38.24" width="1.93" height="6.73" fill="#3e0000"/>
<rect x="440.15" y="38.24" width="1.93" height="6.73" fill="#360000"/>
<rect x="441.38" y="38.24" width="1.93" height="6.73" fill="#320000"/>
<rect x="442.60" y="38.24" width="1.93" height="6.73" fill="#360000"/>
<rect x="443.82" y="38.24" width="1.93" height="6.73" fill="#3d0000"/>
<rect x="445.05" y="38.24" width="1.93" height="6.73" fill="#2e0000"/>
<rect x="446.28" y="38.24" width="1.93" height="6.73" fill="#320000"/>
<rect x="447.50" y="38.24" width="1.93" height="6.73" fill="#250000"/>
<rect x="448.73" y="38.24" width="1.93" height="6.73" fill="#360000"/>
<rect x="449.95" y="38.24" width="1.93" height="6.73" fill="#200000"/>
<rect x="451.18" y="38.24" width="1.93" height="6.73" fill="#2f0000"/>
<rect x="452.40" y="38.24" width="1.93" height="6.73" fill="#300000"/>
<rect x="453.62" y="38.24" width="1.93" height="6.73" fill="#2c0000"/>
<rect x="454.85" y="38.24" width="1.93" height="6.73" fill="#310000"/>
<rect x="456.07" y="38.24" width="1.93" height="6.73" fill="#200000"/>
<rect x="457.30" y="38.24" width="1.93" height="6.73" fill="#200000"/>
<rect x="458.53" y="38.24" width="1.93" height="6.73" fill="#2c0000"/>
<rect x="459.75" y="38.24" width="1.93" height="6.73" fill="#280000"/>
<rect x="460.98" y="38.24" width="1.93" height="6.73" fill="#220000"/>
<rect x="462.20" y="38.24" width="1.93" height="6.73" fill="#270000"/>
<rect x="463.43" y="38.24" width="1.93" height="6.73" fill="#3e0000"/>
<rect x="464.65" y="38.24" width="1.93" height="6.73" fill="#190000"/>
<rect x="465.88" y="38.24" width="1.93" height="6.73" fill="#2d0000"/>
<rect x="467.10" y="38.24" width="1.93" height="6.73" fill="#550000"/>
<rect x="468.33" y="38.24" width="1.93" height="6.73" fill="#2b0000"/>
<rect x="469.55" y="38.24" width="1.93" height="6.73" fill="#420000"/>
<rect x="470.78" y="38.24" width="1.93" height="6.73" fill="#6c0000"/>
<rect x="472.00" y="38.24" width="1.93" height="6.73" fill="#330000"/>
<rect x="473.23" y="38.24" width="1.93" height="6.73" fill="#620000"/>
<rect x="474.45" y="38.24" width="1.93" height="6.73" fill="#0b0000"/>
<rect x="475.68" y="38.24" width="1.93" height="6.73" fill="#7e0000"/>
<rect x="476.90" y="38.24" width="1.93" height="6.73" fill="#5a0000"/>
<rect x="478.12" y="38.24" width="1.93" height="6.73" fill="#4b0000"/>
<rect x="479.35" y="38.24" width="1.93" height="6.73" fill="#430000"/>
<rect x="480.58" y="38.24" width="1.93" height="6.73" fill="#660000"/>
<rect x="481.80" y="38.24" width="1.93" height="6.73" fill="#410000"/>
<rect x="483.03" y="38.24" width="1.93" height="6.73" fill="#680000"/>
<rect x="484.25" y="38.24" width="1.93" height="6.73" fill="#440000"/>
<rect x="485.48" y="38.24" width="1.93" height="6.73" fill="#6d0000"/>
<rect x="486.70" y="38.24" width="1.93" height="6.73" fill="#510000"/>
<rect x="487.93" y="38.24" width="1.93" height="6.73" fill="#3d0000"/>
<rect x="489.15" y="38.24" width="1.93" height="6.73" fill="#340000"/>
<rect x="490.38" y="38.24" width="1.93" height="6.73" fill="#500000"/>
<rect x="491.60" y="38.24" width="1.93" height="6.73" fill="#340000"/>
<rect x="492.83" y="38.24" width="1.93" height="6.73" fill="#6b0000"/>
<rect x="494.05" y="38.24" width="1.93" height="6.73" fill="#510000"/>
<rect x="495.28" y="38.24" width="1.93" height="6.73" fill="#630000"/>
<rect x="496.50" y="38.24" width="1.93" height="6.73" fill="#370000"/>
<rect x="497.73" y="38.24" width="1.93" height="6.73" fill="#640000"/>
<rect x="498.95" y="38.24" width="1.93" height="6.73" fill="#1e0000"/>
<rect x="500.18" y="38.24" width="1.93" height="6.73" fill="#150000"/>
<rect x="501.40" y="38.24" width="1.93" height="6.73" fill="#400000"/>
<rect x="502.62" y="38.24" width="1.93" height="6.73" fill="#400000"/>
<rect x="503.85" y="38.24" width="1.93" height="6.73" fill="#240000"/>
<rect x="505.08" y="38.24" width="4.92" height="6.73" fill="#440000"/>
<rect x="429.80" y="44.27" width="4.92" height="6.73" fill="#2b0000"/>
<rect x="434.03" y="44.27" width="1.93" height="6.73" fill="#300000"/>
<rect x="435.25" y="44.27" width="1.93" height="6.73" fill="#2c0000"/>
<rect x="436.48" y="44.27" width="1.93" height="6.73" fill="#200000"/>
<rect x="437.70" y="44.27" width="1.93" height="6.73" fill="#220000"/>
<rect x="438.93" y="44.27" width="1.93" height="6.73" fill="#3e0000"/>
<rect x="440.15" y="44.27" width="1.93" height="6.73" fill="#3e0000"/>
<rect x="441.38" y="44.27" width="1.93" height="6.73" fill="#310000"/>
<rect x="442.60" y="44.27" width="1.93" height="6.73" fill="#290000"/>
<rect x="443.82" y="44.27" width="1.93" height="6.73" fill="#400000"/>
<rect x="445.05" y="44.27" width="1.93" height="6.73" fill="#290000"/>
<rect x="446.28" y="44.27" width="1.93" height="6.73" fill="#290000"/>
<rect x="447.50" y="44.27" width="1.93" height="6.73" fill="#200000"/>
<rect x="448.73" y="44.27" width="1.93" height="6.73" fill="#3b0000"/>
<rect x="449.95" y="44.27" width="1.93" height="6.73" fill="#2f0000"/>
<rect x="451.18" y="44.27" width="1.93" height="6.73" fill="#330000"/>
<rect x="452.40" y="44.27" width="1.93" height="6.73" fill="#2d0000"/>
<rect x="453.62" y="44.27" width="1.93" height="6.73" fill="#2b0000"/>
<rect x="454.85" y="44.27" width="1.93" height="6.73" fill="#220000"/>
<rect x="456.07" y="44.27" width="1.93" height="6.73" fill="#360000"/>
<rect x="457.30" y="44.27" width="1.93" height="6.73" fill="#1e0000"/>
<rect x="458.53" y="44.27" width="1.93" height="6.73" fill="#340000"/>
<rect x="459.75" y="44.27" width="1.93" height="6.73" fill="#2f0000"/>
<rect x="460.98" y="44.27" width="1.93" height="6.73" fill="#2c0000"/>
<rect x="462.20" y="44.27" width="1.93" height="6.73" fill="#240000"/>
<rect x="463.43" y="44.27" width="1.93" height="6.73" fill="#310000"/>
<rect x="464.65" y="44.27" width="1.93" height="6.73" fill="#240000"/>
<rect x="465.88" y="44.27" width="1.93" height="6.73" fill="#140000"/>
<rect x="467.10" y="44.27" width="1.93" height="6.73" fill="#630000"/>
<rect x="468.33" y="44.27" width="1.93" height="6.73" fill="#280000"/>
<rect x="469.55" y="44.27" width="1.93" height="6.73" fill="#690000"/>
<rect x="470.78" y="44.27" width="1.93" height="6.73" fill="#440000"/>
<rect x="472.00" y="44.27" width="1.93" height="6.73" fill="#390000"/>
<rect x="473.23" y="44.27" width="1.93" height="6.73" fill="#410000"/>
<rect x="474.45" y="44.27" width="1.93" height="6.73" fill="#220000"/>
<rect x="475.68" y="44.27" width="1.93" height="6.73" fill="#430000"/>
<rect x="476.90" y="44.27" width="1.93" height="6.73" fill="#210000"/>
<rect x="478.12" y="44.27" width="1.93" height="6.73" fill="#630000"/>
<rect x="479.35" y="44.27" width="1.93" height="6.73" fill="#390000"/>
<rect x="480.58" y="44.27" width="1.93" height="6.73" fill="#440000"/>
<rect x="481.80" y="44.27" width="1.93" height="6.73" fill="#2c0000"/>
<rect x="483.03" y="44.27" width="1.93" height="6.73" fill="#5a0000"/>
<rect x="484.25" y="44.27" width="1.93" height="6.73" fill="#480000"/>
<rect x="485.48" y="44.27" width="1.93" height="6.73" fill="#6c0000"/>
<rect x="486.70" y="44.27" width="1.93" height="6.73" fill="#530000"/>
<rect x="487.93" y="44.27" width="1.93" height="6.73" fill="#330000"/>
<rect x="489.15" y="44.27" width="1.93" height="6.73" fill="#600000"/>
<rect x="490.38" y="44.27" width="1.93" height="6.73" fill="#640000"/>
<rect x="491.60" y="44.27" width="1.93" height="6.73" fill="#1f0000"/>
<rect x="492.83" y="44.27" width="1.93" height="6.73" fill="#7a0000"/>
<rect x="494.05" y="44.27" width="1.93" height="6.73" fill="#730000"/>
<rect x="495.28" y="44.27" width="1.93" height="6.73" fill="#730000"/>
<rect x="496.50" y="44.27" width="1.93" height="6.73" fill="#240000"/>
<rect x="497.73" y="44.27" width="1.93" height="6.73" fill="#6e0000"/>
<rect x="498.95" y="44.27" width="1.93" height="6.73" fill="#3d0000"/>
<rect x="500.18" y="44.27" width="1.93" height="6.73" fill="#010000"/>
<rect x="501.40" y="44.27" width="1.93" height="6.73" fill="#1e0000"/>
<rect x="502.62" y="44.27" width="1.93" height="6.73" fill="#690000"/>
<rect x="503.85" y="44.27" width="1.93" height="6.73" fill="#450000"/>
<rect x="505.08" y="44.27" width="4.92" height="6.73" fill="#2f0000"/>
<rect x="429.80" y="50.30" width="4.92" height="6.73" fill="#220000"/>
<rect x="434.03" y="50.30" width="1.93" height="6.73" fill="#210000"/>
<rect x="435.25" y="50.30" width="1.93" height="6.73" fill="#270000"/>
<rect x="436.48" y="50.30" width="1.93" height="6.73" fill="#2d0000"/>
<rect x="437.70" y="50.30" width="1.93" height="6.73" fill="#200000"/>
<rect x="438.93" y="50.30" width="1.93" height="6.73" fill="#2d0000"/>
<rect x="440.15" y="50.30" width="1.93" height="6.73" fill="#400000"/>
<rect x="441.38" y="50.30" width="1.93" height="6.73" fill="#380000"/>
<rect x="442.60" y="50.30" width="1.93" height="6.73" fill="#220000"/>
<rect x="443.82" y="50.30" width="1.93" height="6.73" fill="#440000"/>
<rect x="445.05" y="50.30" width="1.93" height="6.73" fill="#2d0000"/>
<rect x="446.28" y="50.30" width="1.93" height="6.73" fill="#360000"/>
<rect x="447.50" y="50.30" width="1.93" height="6.73" fill="#2d0000"/>
<rect x="448.73" y="50.30" width="1.93" height="6.73" fill="#410000"/>
<rect x="449.95" y="50.30" width="1.93" height="6.73" fill="#350000"/>
<rect x="451.18" y="50.30" width="1.93" height="6.73" fill="#3b0000"/>
<rect x="452.40" y="50.30" width="1.93" height="6.73" fill="#240000"/>
<rect x="453.62" y="50.30" width="1.93" height="6.73" fill="#2f0000"/>
<rect x="454.85" y="50.30" width="1.93" height="6.73" fill="#250000"/>
<rect x="456.07" y="50.30" width="1.93" height="6.73" fill="#380000"/>
<rect x="457.30" y="50.30" width="1.93" height="6.73" fill="#1f0000"/>
<rect x="458.53" y="50.30" width="1.93" height="6.73" fill="#3e0000"/>
<rect x="459.75" y="50.30" width="1.93" height="6.73" fill="#2b0000"/>
<rect x="460.98" y="50.30" width="1.93" height="6.73" fill="#1f0000"/>
<rect x="462.20" y="50.30" width="1.93" height="6.73" fill="#1c0000"/>
<rect x="463.43" y="50.30" width="1.93" height="6.73" fill="#270000"/>
<rect x="464.65" y="50.30" width="1.93" height="6.73" fill="#260000"/>
<rect x="465.88" y="50.30" width="1.93" height="6.73" fill="#500000"/>
<rect x="467.10" y="50.30" width="1.93" height="6.73" fill="#700000"/>
<rect x="468.33" y="50.30" width="1.93" height="6.73" fill="#510000"/>
<rect x="469.55" y="50.30" width="1.93" height="6.73" fill="#900000"/>
<rect x="470.78" y="50.30" width="1.93" height="6.73" fill="#860000"/>
<rect x="472.00" y="50.30" width="1.93" height="6.73" fill="#880000"/>
<rect x="473.23" y="50.30" width="1.93" height="6.73" fill="#9d0000"/>
<rect x="474.45" y="50.30" width="1.93" height="6.73" fill="#4a0000"/>
<rect x="475.68" y="50.30" width="1.93" height="6.73" fill="#960000"/>
<rect x="476.90" y="50.30" width="1.93" height="6.73" fill="#6f0000"/>
<rect x="478.12" y="50.30" width="1.93" height="6.73" fill="#980000"/>
<rect x="479.35" y="50.30" width="1.93" height="6.73" fill="#940000"/>
<rect x="480.58" y="50.30" width="1.93" height="6.73" fill="#a30000"/>
<rect x="481.80" y="50.30" width="1.93" height="6.73" fill="#600000"/>
<rect x="483.03" y="50.30" width="1.93" height="6.73" fill="#910000"/>
<rect x="484.25" y="50.30" width="1.93" height="6.73" fill="#ab0000"/>
<rect x="485.48" y="50.30" width="1.93" height="6.73" fill="#860000"/>
<rect x="486.70" y="50.30" width="1.93" height="6.73" fill="#790000"/>
<rect x="487.93" y="50.30" width="1.93" height="6.73" fill="#750000"/>
<rect x="489.15" y="50.30" width="1.93" height="6.73" fill="#5c0000"/>
<rect x="490.38" y="50.30" width="1.93" height="6.73" fill="#780000"/>
<rect x="491.60" y="50.30" width="1.93" height="6.73" fill="#900000"/>
<rect x="492.83" y="50.30" width="1.93" height="6.73" fill="#b10000"/>
<rect x="494.05" y="50.30" width="1.93" height="6.73" fill="#880000"/>
<rect x="495.28" y="50.30" width="1.93" height="6.73" fill="#b30000"/>
<rect x="496.50" y="50.30" width="1.93" height="6.73" fill="#7e0000"/>
<rect x="497.73" y="50.30" width="1.93" height="6.73" fill="#7f0000"/>
<rect x="498.95" y="50.30" width="1.93" height="6.73" fill="#810000"/>
<rect x="500.18" y="50.30" width="1.93" height="6.73" fill="#450000"/>
<rect x="501.40" y="50.30" width="1.93" height="6.73" fill="#8e0000"/>
<rect x="502.62" y="50.30" width="1.93" height="6.73" fill="#820000"/>
<rect x="503.85" y="50.30" width="1.93" height="6.73" fill="#6f0000"/>
<rect x="505.08" y="50.30" width="4.92" height="6.73" fill="#8a0000"/>
<rect x="429.80" y="56.33" width="4.92" height="6.73" fill="#890000"/>
<rect x="434.03" y="56.33" width="1.93" height="6.73" fill="#890000"/>
<rect x="435.25" y="56.33" width="1.93" height="6.73" fill="#910000"/>
<rect x="436.48" y="56.33" width="1.93" height="6.73" fill="#950000"/>
<rect x="437.70" y="56.33" width="1.93" height="6.73" fill="#810000"/>
<rect x="438.93" y="56.33" width="1.93" height="6.73" fill="#900000"/>
<rect x="440.15" y="56.33" width="1.93" height="6.73" fill="#950000"/>
<rect x="441.38" y="56.33" width="1.93" height="6.73" fill="#960000"/>
<rect x="442.60" y="56.33" width="1.93" height="6.73" fill="#950000"/>
<rect x="443.82" y="56.33" width="1.93" height="6.73" fill="#960000"/>
<rect x="445.05" y="56.33" width="1.93" height="6.73" fill="#970000"/>
<rect x="446.28" y="56.33" width="1.93" height="6.73" fill="#920000"/>
<rect x="447.50" y="56.33" width="1.93" height="6.73" fill="#910000"/>
<rect x="448.73" y="56.33" width="1.93" height="6.73" fill="#930000"/>
<rect x="449.95" y="56.33" width="1.93" height="6.73" fill="#910000"/>
<rect x="451.18" y="56.33" width="1.93" height="6.73" fill="#a30000"/>
<rect x="452.40" y="56.33" width="1.93" height="6.73" fill="#900000"/>
<rect x="453.62" y="56.33" width="1.93" height="6.73" fill="#960000"/>
<rect x="454.85" y="56.33" width="1.93" height="6.73" fill="#860000"/>
<rect x="456.07" y="56.33" width="1.93" height="6.73" fill="#8f0000"/>
<rect x="457.30" y="56.33" width="1.93" height="6.73" fill="#820000"/>
<rect x="458.53" y="56.33" width="1.93" height="6.73" fill="#9b0000"/>
<rect x="459.75" y="56.33" width="1.93" height="6.73" fill="#8f0000"/>
<rect x="460.98" y="56.33" width="1.93" height="6.73" fill="#8e0000"/>
<rect x="462.20" y="56.33" width="1.93" height="6.73" fill="#7a0000"/>
<rect x="463.43" y="56.33" width="1.93" height="6.73" fill="#960000"/>
<rect x="464.65" y="56.33" width="1.93" height="6.73" fill="#950000"/>
<rect x="465.88" y="56.33" width="1.93" height="6.73" fill="#e00000"/>
<rect x="467.10" y="56.33" width="1.93" height="6.73" fill="#d50000"/>
<rect x="468.33" y="56.33" width="1.93" height="6.73" fill="#d60000"/>
<rect x="469.55" y="56.33" width="1.93" height="6.73" fill="#e10000"/>
<rect x="470.78" y="56.33" width="1.93" height="6.73" fill="#e50000"/>
<rect x="472.00" y="56.33" width="1.93" height="6.73" fill="#ff0900"/>
<rect x="473.23" y="56.33" width="1.93" height="6.73" fill="#ff0200"/>
<rect x="474.45" y="56.33" width="1.93" height="6.73" fill="#e30000"/>
<rect x="475.68" y="56.33" width="1.93" height="6.73" fill="#ff0700"/>
<rect x="476.90" y="56.33" width="1.93" height="6.73" fill="#fc0000"/>
<rect x="478.12" y="56.33" width="1.93" height="6.73" fill="#ff0100"/>
<rect x="479.35" y="56.33" width="1.93" height="6.73" fill="#ff0000"/>
<rect x="480.58" y="56.33" width="1.93" height="6.73" fill="#ff0600"/>
<rect x="481.80" y="56.33" width="1.93" height="6.73" fill="#ec0000"/>
<rect x="483.03" y="56.33" width="1.93" height="6.73" fill="#fd0000"/>
<rect x="484.25" y="56.33" width="1.93" height="6.73" fill="#ff0c00"/>
<rect x="485.48" y="56.33" width="1.93" height="6.73" fill="#e80000"/>
<rect x="486.70" y="56.33" width="1.93" height="6.73" fill="#f30000"/>
<rect x="487.93" y="56.33" width="1.93" height="6.73" fill="#e90000"/>
<rect x="489.15" y="56.33" width="1.93" height="6.73" fill="#ed0000"/>
<rect x="490.38" y="56.33" width="1.93" height="6.73" fill="#d90000"/>
<rect x="491.60" y="56.33" width="1.93" height="6.73" fill="#e90000"/>
<rect x="492.83" y="56.33" width="1.93" height="6.73" fill="#ee0000"/>
<rect x="494.05" y="56.33" width="1.93" height="6.73" fill="#ff0200"/>
<rect x="495.28" y="56.33" width="1.93" height="6.73" fill="#ff1900"/>
<rect x="496.50" y="56.33" width="1.93" height="6.73" fill="#f80000"/>
<rect x="497.73" y="56.33" width="1.93" height="6.73" fill="#e90000"/>
<rect x="498.95" y="56.33" width="1.93" height="6.73" fill="#fc0000"/>
<rect x="500.18" y="56.33" width="1.93" height="6.73" fill="#e70000"/>
<rect x="501.40" y="56.33" width="1.93" height="6.73" fill="#fa0000"/>
<rect x="502.62" y="56.33" width="1.93" height="6.73" fill="#e50000"/>
<rect x="503.85" y="56.33" width="1.93" height="6.73" fill="#e10000"/>
<rect x="505.08" y="56.33" width="4.92" height="6.73" fill="#f00000"/>
<rect x="429.80" y="62.36" width="4.92" height="6.73" fill="#260000"/>
<rect x="434.03" y="62.36" width="1.93" height="6.73" fill="#240000"/>
<rect x="435.25" y="62.36" width="1.93" height="6.73" fill="#350000"/>
<rect x="436.48" y="62.36" width="1.93" height="6.73" fill="#390000"/>
<rect x="437.70" y="62.36" width="1.93" height="6.73" fill="#150000"/>
<rect x="438.93" y="62.36" width="1.93" height="6.73" fill="#320000"/>
<rect x="440.15" y="62.36" width="1.93" height="6.73" fill="#220000"/>
<rect x="441.38" y="62.36" width="1.93" height="6.73" fill="#250000"/>
<rect x="442.60" y="62.36" width="1.93" height="6.73" fill="#390000"/>
<rect x="443.82" y="62.36" width="1.93" height="6.73" fill="#360000"/>
<rect x="445.05" y="62.36" width="1.93" height="6.73" fill="#3b0000"/>
<rect x="446.28" y="62.36" width="1.93" height="6.73" fill="#2f0000"/>
<rect x="447.50" y="62.36" width="1.93" height="6.73" fill="#200000"/>
<rect x="448.73" y="62.36" width="1.93" height="6.73" fill="#2e0000"/>
<rect x="449.95" y="62.36" width="1.93" height="6.73" fill="#2e0000"/>
<rect x="451.18" y="62.36" width="1.93" height="6.73" fill="#430000"/>
<rect x="452.40" y="62.36" width="1.93" height="6.73" fill="#3b0000"/>
<rect x="453.62" y="62.36" width="1.93" height="6.73" fill="#2c0000"/>
<rect x="454.85" y="62.36" width="1.93" height="6.73" fill="#210000"/>
<rect x="456.07" y="62.36" width="1.93" height="6.73" fill="#210000"/>
<rect x="457.30" y="62.36" width="1.93" height="6.73" fill="#250000"/>
<rect x="458.53" y="62.36" width="1.93" height="6.73" fill="#2d0000"/>
<rect x="459.75" y="62.36" width="1.93" height="6.73" fill="#1d0000"/>
<rect x="460.98" y="62.36" width="1.93" height="6.73" fill="#170000"/>
<rect x="462.20" y="62.36" width="1.93" height="6.73" fill="#0f0000"/>
<rect x="463.43" y="62.36" width="1.93" height="6.73" fill="#390000"/>
<rect x="464.65" y="62.36" width="1.93" height="6.73" fill="#210000"/>
<rect x="465.88" y="62.36" width="1.93" height="6.73" fill="#3f0000"/>
<rect x="467.10" y="62.36" width="1.93" height="6.73" fill="#080000"/>
<rect x="468.33" y="62.36" width="1.93" height="6.73" fill="#4f0000"/>
<rect x="469.55" y="62.36" width="1.93" height="6.73" fill="#1d0000"/>
<rect x="470.78" y="62.36" width="1.93" height="6.73" fill="#160000"/>
<rect x="472.00" y="62.36" width="1.93" height="6.73" fill="#710000"/>
<rect x="473.23" y="62.36" width="1.93" height="6.73" fill="#410000"/>
<rect x="474.45" y="62.36" width="1.93" height="6.73" fill="#4e0000"/>
<rect x="475.68" y="62.36" width="1.93" height="6.73" fill="#3e0000"/>
<rect x="476.90" y="62.36" width="1.93" height="6.73" fill="#280000"/>
<rect x="478.12" y="62.36" width="1.93" height="6.73" fill="#710000"/>
<rect x="479.35" y="62.36" width="1.93" height="6.73" fill="#6b0000"/>
<rect x="480.58" y="62.36" width="1.93" height="6.73" fill="#7d0000"/>
<rect x="481.80" y="62.36" width="1.93" height="6.73" fill="#550000"/>
<rect x="483.03" y="62.36" width="1.93" height="6.73" fill="#310000"/>
<rect x="484.25" y="62.36" width="1.93" height="6.73" fill="#6d0000"/>
<rect x="485.48" y="62.36" width="1.93" height="6.73" fill="#5a0000"/>
<rect x="486.70" y="62.36" width="1.93" height="6.73" fill="#430000"/>
<rect x="487.93" y="62.36" width="1.93" height="6.73" fill="#670000"/>
<rect x="489.15" y="62.36" width="1.93" height="6.73" fill="#2c0000"/>
<rect x="490.38" y="62.36" width="1.93" height="6.73" fill="#5b0000"/>
<rect x="491.60" y="62.36" width="1.93" height="6.73" fill="#5b0000"/>
<rect x="492.83" y="62.36" width="1.93" height="6.73" fill="#1e0000"/>
<rect x="494.05" y="62.36" width="1.93" height="6.73" fill="#2b0000"/>
<rect x="495.28" y="62.36" width="1.93" height="6.73" fill="#780000"/>
<rect x="496.50" y="62.36" width="1.93" height="6.73" fill="#6d0000"/>
<rect x="497.73" y="62.36" width="1.93" height="6.73" fill="#1b0000"/>
<rect x="498.95" y="62.36" width="1.93" height="6.73" fill="#3d0000"/>
<rect x="500.18" y="62.36" width="1.93" height="6.73" fill="#520000"/>
<rect x="501.40" y="62.36" width="1.93" height="6.73" fill="#350000"/>
<rect x="502.62" y="62.36" width="1.93" height="6.73" fill="#5c0000"/>
<rect x="503.85" y="62.36" width="1.93" height="6.73" fill="#390000"/>
<rect x="505.08" y="62.36" width="4.92" height="6.73" fill="#200000"/>
<rect x="429.80" y="68.39" width="4.92" height="6.73" fill="#280000"/>
<rect x="434.03" y="68.39" width="1.93" height="6.73" fill="#290000"/>
<rect x="435.25" y="68.39" width="1.93" height="6.73" fill="#310000"/>
<rect x="436.48" y="68.39" width="1.93" height="6.73" fill="#340000"/>
<rect x="437.70" y="68.39" width="1.93" height="6.73" fill="#150000"/>
<rect x="438.93" y="68.39" width="1.93" height="6.73" fill="#3b0000"/>
<rect x="440.15" y="68.39" width="1.93" height="6.73" fill="#250000"/>
<rect x="441.38" y="68.39" width="1.93" height="6.73" fill="#2f0000"/>
<rect x="442.60" y="68.39" width="1.93" height="6.73" fill="#360000"/>
<rect x="443.82" y="68.39" width="1.93" height="6.73" fill="#320000"/>
<rect x="445.05" y="68.39" width="1.93" height="6.73" fill="#2e0000"/>
<rect x="446.28" y="68.39" width="1.93" height="6.73" fill="#390000"/>
<rect x="447.50" y="68.39" width="1.93" height="6.73" fill="#360000"/>
<rect x="448.73" y="68.39" width="1.93" height="6.73" fill="#380000"/>
<rect x="449.95" y="68.39" width="1.93" height="6.73" fill="#2e0000"/>
<rect x="451.18" y="68.39" width="1.93" height="6.73" fill="#310000"/>
<rect x="452.40" y="68.39" width="1.93" height="6.73" fill="#250000"/>
<rect x="453.62" y="68.39" width="1.93" height="6.73" fill="#370000"/>
<rect x="454.85" y="68.39" width="1.93" height="6.73" fill="#2a0000"/>
<rect x="456.07" y="68.39" width="1.93" height="6.73" fill="#320000"/>
<rect x="457.30" y="68.39" width="1.93" height="6.73" fill="#1f0000"/>
<rect x="458.53" y="68.39" width="1.93" height="6.73" fill="#330000"/>
<rect x="459.75" y="68.39" width="1.93" height="6.73" fill="#300000"/>
<rect x="460.98" y="68.39" width="1.93" height="6.73" fill="#280000"/>
<rect x="462.20" y="68.39" width="1.93" height="6.73" fill="#1f0000"/>
<rect x="463.43" y="68.39" width="1.93" height="6.73" fill="#2f0000"/>
<rect x="464.65" y="68.39" width="1.93" height="6.73" fill="#230000"/>
<rect x="465.88" y="68.39" width="1.93" height="6.73" fill="#480000"/>
<rect x="467.10" y="68.39" width="1.93" height="6.73" fill="#1b0000"/>
<rect x="468.33" y="68.39" width="1.93" height="6.73" fill="#540000"/>
<rect x="469.55" y="68.39" width="1.93" height="6.73" fill="#440000"/>
<rect x="470.78" y="68.39" width="1.93" height="6.73" fill="#5a0000"/>
<rect x="472.00" y="68.39" width="1.93" height="6.73" fill="#780000"/>
<rect x="473.23" y="68.39" width="1.93" height="6.73" fill="#360000"/>
<rect x="474.45" y="68.39" width="1.93" height="6.73" fill="#160000"/>
<rect x="475.68" y="68.39" width="1.93" height="6.73" fill="#310000"/>
<rect x="476.90" y="68.39" width="1.93" height="6.73" fill="#330000"/>
<rect x="478.12" y="68.39" width="1.93" height="6.73" fill="#660000"/>
<rect x="479.35" y="68.39" width="1.93" height="6.73" fill="#790000"/>
<rect x="480.58" y="68.39" width="1.93" height="6.73" fill="#880000"/>
<rect x="481.80" y="68.39" width="1.93" height="6.73" fill="#1d0000"/>
<rect x="483.03" y="68.39" width="1.93" height="6.73" fill="#640000"/>
<rect x="484.25" y="68.39" width="1.93" height="6.73" fill="#7b0000"/>
<rect x="485.48" y="68.39" width="1.93" height="6.73" fill="#790000"/>
<rect x="486.70" y="68.39" width="1.93" height="6.73" fill="#460000"/>
<rect x="487.93" y="68.39" width="1.93" height="6.73" fill="#3b0000"/>
<rect x="489.15" y="68.39" width="1.93" height="6.73" fill="#560000"/>
<rect x="490.38" y="68.39" width="1.93" height="6.73" fill="#640000"/>
<rect x="491.60" y="68.39" width="1.93" height="6.73" fill="#670000"/>
<rect x="492.83" y="68.39" width="1.93" height="6.73" fill="#630000"/>
<rect x="494.05" y="68.39" width="1.93" height="6.73" fill="#320000"/>
<rect x="495.28" y="68.39" width="1.93" height="6.73" fill="#3c0000"/>
<rect x="496.50" y="68.39" width="1.93" height="6.73" fill="#5e0000"/>
<rect x="497.73" y="68.39" width="1.93" height="6.73" fill="#4d0000"/>
<rect x="498.95" y="68.39" width="1.93" height="6.73" fill="#220000"/>
<rect x="500.18" y="68.39" width="1.93" height="6.73" fill="#5c0000"/>
<rect x="501.40" y="68.39" width="1.93" height="6.73" fill="#6c0000"/>
<rect x="502.62" y="68.39" width="1.93" height="6.73" fill="#340000"/>
<rect x="503.85" y="68.39" width="1.93" height="6.73" fill="#490000"/>
<rect x="505.08" y="68.39" width="4.92" height="6.73" fill="#470000"/>
<rect x="429.80" y="74.42" width="4.92" height="6.73" fill="#2b0000"/>
<rect x="434.03" y="74.42" width="1.93" height="6.73" fill="#200000"/>
<rect x="435.25" y="74.42" width="1.93" height="6.73" fill="#2a0000"/>
<rect x="436.48" y="74.42" width="1.93" height="6.73" fill="#340000"/>
<rect x="437.70" y="74.42" width="1.93" height="6.73" fill="#280000"/>
<rect x="438.93" y="74.42" width="1.93" height="6.73" fill="#350000"/>
<rect x="440.15" y="74.42" width="1.93" height="6.73" fill="#1e0000"/>
<rect x="441.38" y="74.42" width="1.93" height="6.73" fill="#380000"/>
<rect x="442.60" y="74.42" width="1.93" height="6.73" fill="#390000"/>
<rect x="443.82" y="74.42" width="1.93" height="6.73" fill="#2b0000"/>
<rect x="445.05" y="74.42" width="1.93" height="6.73" fill="#2e0000"/>
<rect x="446.28" y="74.42" width="1.93" height="6.73" fill="#400000"/>
<rect x="447.50" y="74.42" width="1.93" height="6.73" fill="#3d0000"/>
<rect x="448.73" y="74.42" width="1.93" height="6.73" fill="#350000"/>
<rect x="449.95" y="74.42" width="1.93" height="6.73" fill="#2b0000"/>
<rect x="451.18" y="74.42" width="1.93" height="6.73" fill="#320000"/>
<rect x="452.40" y="74.42" width="1.93" height="6.73" fill="#200000"/>
<rect x="453.62" y="74.42" width="1.93" height="6.73" fill="#250000"/>
<rect x="454.85" y="74.42" width="1.93" height="6.73" fill="#1e0000"/>
<rect x="456.07" y="74.42" width="1.93" height="6.73" fill="#350000"/>
<rect x="457.30" y="74.42" width="1.93" height="6.73" fill="#1e0000"/>
<rect x="458.53" y="74.42" width="1.93" height="6.73" fill="#340000"/>
<rect x="459.75" y="74.42" width="1.93" height="6.73" fill="#260000"/>
<rect x="460.98" y="74.42" width="1.93" height="6.73" fill="#250000"/>
<rect x="462.20" y="74.42" width="1.93" height="6.73" fill="#180000"/>
<rect x="463.43" y="74.42" width="1.93" height="6.73" fill="#240000"/>
<rect x="464.65" y="74.42" width="1.93" height="6.73" fill="#350000"/>
<rect x="465.88" y="74.42" width="1.93" height="6.73" fill="#2e0000"/>
<rect x="467.10" y="74.42" width="1.93" height="6.73" fill="#0b0000"/>
<rect x="468.33" y="74.42" width="1.93" height="6.73" fill="#510000"/>
<rect x="469.55" y="74.42" width="1.93" height="6.73" fill="#640000"/>
<rect x="470.78" y="74.42" width="1.93" height="6.73" fill="#330000"/>
<rect x="472.00" y="74.42" width="1.93" height="6.73" fill="#680000"/>
<rect x="473.23" y="74.42" width="1.93" height="6.73" fill="#380000"/>
<rect x="474.45" y="74.42" width="1.93" height="6.73" fill="#2f0000"/>
<rect x="475.68" y="74.42" width="1.93" height="6.73" fill="#160000"/>
<rect x="476.90" y="74.42" width="1.93" height="6.73" fill="#140000"/>
<rect x="478.12" y="74.42" width="1.93" height="6.73" fill="#870000"/>
<rect x="479.35" y="74.42" width="1.93" height="6.73" fill="#830000"/>
<rect x="480.58" y="74.42" width="1.93" height="6.73" fill="#680000"/>
<rect x="481.80" y="74.42" width="1.93" height="6.73" fill="#360000"/>
<rect x="483.03" y="74.42" width="1.93" height="6.73" fill="#450000"/>
<rect x="484.25" y="74.42" width="1.93" height="6.73" fill="#7d0000"/>
<rect x="485.48" y="74.42" width="1.93" height="6.73" fill="#5d0000"/>
<rect x="486.70" y="74.42" width="1.93" height="6.73" fill="#690000"/>
<rect x="487.93" y="74.42" width="1.93" height="6.73" fill="#560000"/>
<rect x="489.15" y="74.42" width="1.93" height="6.73" fill="#640000"/>
<rect x="490.38" y="74.42" width="1.93" height="6.73" fill="#750000"/>
<rect x="491.60" y="74.42" width="1.93" height="6.73" fill="#450000"/>
<rect x="492.83" y="74.42" width="1.93" height="6.73" fill="#2f0000"/>
<rect x="494.05" y="74.42" width="1.93" height="6.73" fill="#270000"/>
<rect x="495.28" y="74.42" width="1.93" height="6.73" fill="#2d0000"/>
<rect x="496.50" y="74.42" width="1.93" height="6.73" fill="#2e0000"/>
<rect x="497.73" y="74.42" width="1.93" height="6.73" fill="#1f0000"/>
<rect x="498.95" y="74.42" width="1.93" height="6.73" fill="#380000"/>
<rect x="500.18" y="74.42" width="1.93" height="6.73" fill="#6b0000"/>
<rect x="501.40" y="74.42" width="1.93" height="6.73" fill="#580000"/>
<rect x="502.62" y="74.42" width="1.93" height="6.73" fill="#640000"/>
<rect x="503.85" y="74.42" width="1.93" height="6.73" fill="#6b0000"/>
<rect x="505.08" y="74.42" width="4.92" height="6.73" fill="#200000"/>
<rect x="429.80" y="80.45" width="4.92" height="6.73" fill="#310000"/>
<rect x="434.03" y="80.45" width="1.93" height="6.73" fill="#220000"/>
<rect x="435.25" y="80.45" width="1.93" height="6.73" fill="#230000"/>
<rect x="436.48" y="80.45" width="1.93" height="6.73" fill="#3b0000"/>
<rect x="437.70" y="80.45" width="1.93" height="6.73" fill="#200000"/>
<rect x="438.93" y="80.45" width="1.93" height="6.73" fill="#350000"/>
<rect x="440.15" y="80.45" width="1.93" height="6.73" fill="#2b0000"/>
<rect x="441.38" y="80.45" width="1.93" height="6.73" fill="#400000"/>
<rect x="442.60" y="80.45" width="1.93" height="6.73" fill="#380000"/>
<rect x="443.82" y="80.45" width="1.93" height="6.73" fill="#2d0000"/>
<rect x="445.05" y="80.45" width="1.93" height="6.73" fill="#2a0000"/>
<rect x="446.28" y="80.45" width="1.93" height="6.73" fill="#2d0000"/>
<rect x="447.50" y="80.45" width="1.93" height="6.73" fill="#420000"/>
<rect x="448.73" y="80.45" width="1.93" height="6.73" fill="#410000"/>
<rect x="449.95" y="80.45" width="1.93" height="6.73" fill="#220000"/>
<rect x="451.18" y="80.45" width="1.93" height="6.73" fill="#230000"/>
<rect x="452.40" y="80.45" width="1.93" height="6.73" fill="#200000"/>
<rect x="453.62" y="80.45" width="1.93" height="6.73" fill="#220000"/>
<rect x="454.85" y="80.45" width="1.93" height="6.73" fill="#2f0000"/>
<rect x="456.07" y="80.45" width="1.93" height="6.73" fill="#3c0000"/>
<rect x="457.30" y="80.45" width="1.93" height="6.73" fill="#2b0000"/>
<rect x="458.53" y="80.45" width="1.93" height="6.73" fill="#260000"/>
<rect x="459.75" y="80.45" width="1.93" height="6.73" fill="#2e0000"/>
<rect x="460.98" y="80.45" width="1.93" height="6.73" fill="#2a0000"/>
<rect x="462.20" y="80.45" width="1.93" height="6.73" fill="#230000"/>
<rect x="463.43" y="80.45" width="1.93" height="6.73" fill="#3b0000"/>
<rect x="464.65" y="80.45" width="1.93" height="6.73" fill="#200000"/>
<rect x="465.88" y="80.45" width="1.93" height="6.73" fill="#2a0000"/>
<rect x="467.10" y="80.45" width="1.93" height="6.73" fill="#530000"/>
<rect x="468.33" y="80.45" width="1.93" height="6.73" fill="#800000"/>
<rect x="469.55" y="80.45" width="1.93" height="6.73" fill="#7c0000"/>
<rect x="470.78" y="80.45" width="1.93" height="6.73" fill="#450000"/>
<rect x="472.00" y="80.45" width="1.93" height="6.73" fill="#760000"/>
<rect x="473.23" y="80.45" width="1.93" height="6.73" fill="#720000"/>
<rect x="474.45" y="80.45" width="1.93" height="6.73" fill="#280000"/>
<rect x="475.68" y="80.45" width="1.93" height="6.73" fill="#3b0000"/>
<rect x="476.90" y="80.45" width="1.93" height="6.73" fill="#300000"/>
<rect x="478.12" y="80.45" width="1.93" height="6.73" fill="#5a0000"/>
<rect x="479.35" y="80.45" width="1.93" height="6.73" fill="#780000"/>
<rect x="480.58" y="80.45" width="1.93" height="6.73" fill="#530000"/>
<rect x="481.80" y="80.45" width="1.93" height="6.73" fill="#360000"/>
<rect x="483.03" y="80.45" width="1.93" height="6.73" fill="#420000"/>
<rect x="484.25" y="80.45" width="1.93" height="6.73" fill="#8a0000"/>
<rect x="485.48" y="80.45" width="1.93" height="6.73" fill="#410000"/>
<rect x="486.70" y="80.45" width="1.93" height="6.73" fill="#770000"/>
<rect x="487.93" y="80.45" width="1.93" height="6.73" fill="#420000"/>
<rect x="489.15" y="80.45" width="1.93" height="6.73" fill="#380000"/>
<rect x="490.38" y="80.45" width="1.93" height="6.73" fill="#8d0000"/>
<rect x="491.60" y="80.45" width="1.93" height="6.73" fill="#490000"/>
<rect x="492.83" y="80.45" width="1.93" height="6.73" fill="#800000"/>
<rect x="494.05" y="80.45" width="1.93" height="6.73" fill="#730000"/>
<rect x="495.28" y="80.45" width="1.93" height="6.73" fill="#7b0000"/>
<rect x="496.50" y="80.45" width="1.93" height="6.73" fill="#350000"/>
<rect x="497.73" y="80.45" width="1.93" height="6.73" fill="#440000"/>
<rect x="498.95" y="80.45" width="1.93" height="6.73" fill="#2b0000"/>
<rect x="500.18" y="80.45" width="1.93" height="6.73" fill="#8a0000"/>
<rect x="501.40" y="80.45" width="1.93" height="6.73" fill="#870000"/>
<rect x="502.62" y="80.45" width="1.93" height="6.73" fill="#6e0000"/>
<rect x="503.85" y="80.45" width="1.93" height="6.73" fill="#630000"/>
<rect x="505.08" y="80.45" width="4.92" height="6.73" fill="#3d0000"/>
<rect x="429.80" y="86.48" width="4.92" height="6.73" fill="#390000"/>
<rect x="434.03" y="86.48" width="1.93" height="6.73" fill="#250000"/>
<rect x="435.25" y="86.48" width="1.93" height="6.73" fill="#300000"/>
<rect x="436.48" y="86.48" width="1.93" height="6.73" fill="#250000"/>
<rect x="437.70" y="86.48" width="1.93" height="6.73" fill="#1c0000"/>
<rect x="438.93" y="86.48" width="1.93" height="6.73" fill="#260000"/>
<rect x="440.15" y="86.48" width="1.93" height="6.73" fill="#330000"/>
<rect x="441.38" y="86.48" width="1.93" height="6.73" fill="#370000"/>
<rect x="442.60" y="86.48" width="1.93" height="6.73" fill="#270000"/>
<rect x="443.82" y="86.48" width="1.93" height="6.73" fill="#3c0000"/>
<rect x="445.05" y="86.48" width="1.93" height="6.73" fill="#240000"/>
<rect x="446.28" y="86.48" width="1.93" height="6.73" fill="#2d0000"/>
<rect x="447.50" y="86.48" width="1.93" height="6.73" fill="#2c0000"/>
<rect x="448.73" y="86.48" width="1.93" height="6.73" fill="#310000"/>
<rect x="449.95" y="86.48" width="1.93" height="6.73" fill="#310000"/>
<rect x="451.18" y="86.48" width="1.93" height="6.73" fill="#250000"/>
<rect x="452.40" y="86.48" width="1.93" height="6.73" fill="#1e0000"/>
<rect x="453.62" y="86.48" width="1.93" height="6.73" fill="#250000"/>
<rect x="454.85" y="86.48" width="1.93" height="6.73" fill="#240000"/>
<rect x="456.07" y="86.48" width="1.93" height="6.73" fill="#3f0000"/>
<rect x="457.30" y="86.48" width="1.93" height="6.73" fill="#1b0000"/>
<rect x="458.53" y="86.48" width="1.93" height="6.73" fill="#3b0000"/>
<rect x="459.75" y="86.48" width="1.93" height="6.73" fill="#1b0000"/>
<rect x="460.98" y="86.48" width="1.93" height="6.73" fill="#310000"/>
<rect x="462.20" y="86.48" width="1.93" height="6.73" fill="#290000"/>
<rect x="463.43" y="86.48" width="1.93" height="6.73" fill="#2d0000"/>
<rect x="464.65" y="86.48" width="1.93" height="6.73" fill="#240000"/>
<rect x="465.88" y="86.48" width="1.93" height="6.73" fill="#290000"/>
<rect x="467.10" y="86.48" width="1.93" height="6.73" fill="#3b0000"/>
<rect x="468.33" y="86.48" width="1.93" height="6.73" fill="#480000"/>
<rect x="469.55" y="86.48" width="1.93" height="6.73" fill="#610000"/>
<rect x="470.78" y="86.48" width="1.93" height="6.73" fill="#820000"/>
<rect x="472.00" y="86.48" width="1.93" height="6.73" fill="#970000"/>
<rect x="473.23" y="86.48" width="1.93" height="6.73" fill="#900000"/>
<rect x="474.45" y="86.48" width="1.93" height="6.73" fill="#1c0000"/>
<rect x="475.68" y="86.48" width="1.93" height="6.73" fill="#3e0000"/>
<rect x="476.90" y="86.48" width="1.93" height="6.73" fill="#6c0000"/>
<rect x="478.12" y="86.48" width="1.93" height="6.73" fill="#3a0000"/>
<rect x="479.35" y="86.48" width="1.93" height="6.73" fill="#820000"/>
<rect x="480.58" y="86.48" width="1.93" height="6.73" fill="#4d0000"/>
<rect x="481.80" y="86.48" width="1.93" height="6.73" fill="#710000"/>
<rect x="483.03" y="86.48" width="1.93" height="6.73" fill="#2d0000"/>
<rect x="484.25" y="86.48" width="1.93" height="6.73" fill="#920000"/>
<rect x="485.48" y="86.48" width="1.93" height="6.73" fill="#4c0000"/>
<rect x="486.70" y="86.48" width="1.93" height="6.73" fill="#400000"/>
<rect x="487.93" y="86.48" width="1.93" height="6.73" fill="#200000"/>
<rect x="489.15" y="86.48" width="1.93" height="6.73" fill="#650000"/>
<rect x="490.38" y="86.48" width="1.93" height="6.73" fill="#6b0000"/>
<rect x="491.60" y="86.48" width="1.93" height="6.73" fill="#3f0000"/>
<rect x="492.83" y="86.48" width="1.93" height="6.73" fill="#6b0000"/>
<rect x="494.05" y="86.48" width="1.93" height="6.73" fill="#8e0000"/>
<rect x="495.28" y="86.48" width="1.93" height="6.73" fill="#550000"/>
<rect x="496.50" y="86.48" width="1.93" height="6.73" fill="#560000"/>
<rect x="497.73" y="86.48" width="1.93" height="6.73" fill="#2f0000"/>
<rect x="498.95" y="86.48" width="1.93" height="6.73" fill="#250000"/>
<rect x="500.18" y="86.48" width="1.93" height="6.73" fill="#810000"/>
<rect x="501.40" y="86.48" width="1.93" height="6.73" fill="#850000"/>
<rect x="502.62" y="86.48" width="1.93" height="6.73" fill="#440000"/>
<rect x="503.85" y="86.48" width="1.93" height="6.73" fill="#370000"/>
<rect x="505.08" y="86.48" width="4.92" height="6.73" fill="#2a0000"/>
<rect x="429.80" y="92.51" width="4.92" height="6.73" fill="#370000"/>
<rect x="434.03" y="92.51" width="1.93" height="6.73" fill="#270000"/>
<rect x="435.25" y="92.51" width="1.93" height="6.73" fill="#2a0000"/>
<rect x="436.48" y="92.51" width="1.93" height="6.73" fill="#1e0000"/>
<rect x="437.70" y="92.51" width="1.93" height="6.73" fill="#250000"/>
<rect x="438.93" y="92.51" width="1.93" height="6.73" fill="#330000"/>
<rect x="440.15" y="92.51" width="1.93" height="6.73" fill="#390000"/>
<rect x="441.38" y="92.51" width="1.93" height="6.73" fill="#340000"/>
<rect x="442.60" y="92.51" width="1.93" height="6.73" fill="#220000"/>
<rect x="443.82" y="92.51" width="1.93" height="6.73" fill="#2a0000"/>
<rect x="445.05" y="92.51" width="1.93" height="6.73" fill="#2f0000"/>
<rect x="446.28" y="92.51" width="1.93" height="6.73" fill="#2c0000"/>
<rect x="447.50" y="92.51" width="1.93" height="6.73" fill="#340000"/>
<rect x="448.73" y="92.51" width="1.93" height="6.73" fill="#240000"/>
<rect x="449.95" y="92.51" width="1.93" height="6.73" fill="#360000"/>
<rect x="451.18" y="92.51" width="1.93" height="6.73" fill="#260000"/>
<rect x="452.40" y="92.51" width="1.93" height="6.73" fill="#310000"/>
<rect x="453.62" y="92.51" width="1.93" height="6.73" fill="#320000"/>
<rect x="454.85" y="92.51" width="1.93" height="6.73" fill="#250000"/>
<rect x="456.07" y="92.51" width="1.93" height="6.73" fill="#260000"/>
<rect x="457.30" y="92.51" width="1.93" height="6.73" fill="#2c0000"/>
<rect x="458.53" y="92.51" width="1.93" height="6.73" fill="#350000"/>
<rect x="459.75" y="92.51" width="1.93" height="6.73" fill="#2c0000"/>
<rect x="460.98" y="92.51" width="1.93" height="6.73" fill="#220000"/>
<rect x="462.20" y="92.51" width="1.93" height="6.73" fill="#1d0000"/>
<rect x="463.43" y="92.51" width="1.93" height="6.73" fill="#3a0000"/>
<rect x="464.65" y="92.51" width="1.93" height="6.73" fill="#230000"/>
<rect x="465.88" y="92.51" width="1.93" height="6.73" fill="#210000"/>
<rect x="467.10" y="92.51" width="1.93" height="6.73" fill="#3c0000"/>
<rect x="468.33" y="92.51" width="1.93" height="6.73" fill="#550000"/>
<rect x="469.55" y="92.51" width="1.93" height="6.73" fill="#350000"/>
<rect x="470.78" y="92.51" width="1.93" height="6.73" fill="#700000"/>
<rect x="472.00" y="92.51" width="1.93" height="6.73" fill="#730000"/>
<rect x="473.23" y="92.51" width="1.93" height="6.73" fill="#770000"/>
<rect x="474.45" y="92.51" width="1.93" height="6.73" fill="#190000"/>
<rect x="475.68" y="92.51" width="1.93" height="6.73" fill="#660000"/>
<rect x="476.90" y="92.51" width="1.93" height="6.73" fill="#7d0000"/>
<rect x="478.12" y="92.51" width="1.93" height="6.73" fill="#760000"/>
<rect x="479.35" y="92.51" width="1.93" height="6.73" fill="#620000"/>
<rect x="480.58" y="92.51" width="1.93" height="6.73" fill="#710000"/>
<rect x="481.80" y="92.51" width="1.93" height="6.73" fill="#530000"/>
<rect x="483.03" y="92.51" width="1.93" height="6.73" fill="#670000"/>
<rect x="484.25" y="92.51" width="1.93" height="6.73" fill="#520000"/>
<rect x="485.48" y="92.51" width="1.93" height="6.73" fill="#800000"/>
<rect x="486.70" y="92.51" width="1.93" height="6.73" fill="#740000"/>
<rect x="487.93" y="92.51" width="1.93" height="6.73" fill="#3f0000"/>
<rect x="489.15" y="92.51" width="1.93" height="6.73" fill="#5b0000"/>
<rect x="490.38" y="92.51" width="1.93" height="6.73" fill="#5d0000"/>
<rect x="491.60" y="92.51" width="1.93" height="6.73" fill="#5b0000"/>
<rect x="492.83" y="92.51" width="1.93" height="6.73" fill="#3d0000"/>
<rect x="494.05" y="92.51" width="1.93" height="6.73" fill="#9d0000"/>
<rect x="495.28" y="92.51" width="1.93" height="6.73" fill="#470000"/>
<rect x="496.50" y="92.51" width="1.93" height="6.73" fill="#400000"/>
<rect x="497.73" y="92.51" width="1.93" height="6.73" fill="#230000"/>
<rect x="498.95" y="92.51" width="1.93" height="6.73" fill="#290000"/>
<rect x="500.18" y="92.51" width="1.93" height="6.73" fill="#810000"/>
<rect x="501.40" y="92.51" width="1.93" height="6.73" fill="#480000"/>
<rect x="502.62" y="92.51" width="1.93" height="6.73" fill="#290000"/>
<rect x="503.85" y="92.51" width="1.93" height="6.73" fill="#5d0000"/>
<rect x="505.08" y="92.51" width="4.92" height="6.73" fill="#2c0000"/>
<rect x="429.80" y="98.54" width="4.92" height="6.73" fill="#d00000"/>
<rect x="434.03" y="98.54" width="1.93" height="6.73" fill="#d00000"/>
<rect x="435.25" y="98.54" width="1.93" height="6.73" fill="#da0000"/>
<rect x="436.48" y="98.54" width="1.93" height="6.73" fill="#cd0000"/>
<rect x="437.70" y="98.54" width="1.93" height="6.73" fill="#d00000"/>
<rect x="438.93" y="98.54" width="1.93" height="6.73" fill="#d30000"/>
<rect x="440.15" y="98.54" width="1.93" height="6.73" fill="#e00000"/>
<rect x="441.38" y="98.54" width="1.93" height="6.73" fill="#dc0000"/>
<rect x="442.60" y="98.54" width="1.93" height="6.73" fill="#ca0000"/>
<rect x="443.82" y="98.54" width="1.93" height="6.73" fill="#d20000"/>
<rect x="445.05" y="98.54" width="1.93" height="6.73" fill="#d30000"/>
<rect x="446.28" y="98.54" width="1.93" height="6.73" fill="#d80000"/>
<rect x="447.50" y="98.54" width="1.93" height="6.73" fill="#d40000"/>
<rect x="448.73" y="98.54" width="1.93" height="6.73" fill="#ce0000"/>
<rect x="449.95" y="98.54" width="1.93" height="6.73" fill="#d20000"/>
<rect x="451.18" y="98.54" width="1.93" height="6.73" fill="#cd0000"/>
<rect x="452.40" y="98.54" width="1.93" height="6.73" fill="#d70000"/>
<rect x="453.62" y="98.54" width="1.93" height="6.73" fill="#d80000"/>
<rect x="454.85" y="98.54" width="1.93" height="6.73" fill="#c50000"/>
<rect x="456.07" y="98.54" width="1.93" height="6.73" fill="#d40000"/>
<rect x="457.30" y="98.54" width="1.93" height="6.73" fill="#d00000"/>
<rect x="458.53" y="98.54" width="1.93" height="6.73" fill="#d50000"/>
<rect x="459.75" y="98.54" width="1.93" height="6.73" fill="#d30000"/>
<rect x="460.98" y="98.54" width="1.93" height="6.73" fill="#d00000"/>
<rect x="462.20" y="98.54" width="1.93" height="6.73" fill="#c60000"/>
<rect x="463.43" y="98.54" width="1.93" height="6.73" fill="#dc0000"/>
<rect x="464.65" y="98.54" width="1.93" height="6.73" fill="#d40000"/>
<rect x="465.88" y="98.54" width="1.93" height="6.73" fill="#ff2d00"/>
<rect x="467.10" y="98.54" width="1.93" height="6.73" fill="#ff2700"/>
<rect x="468.33" y="98.54" width="1.93" height="6.73" fill="#ff5400"/>
<rect x="469.55" y="98.54" width="1.93" height="6.73" fill="#ff4f00"/>
<rect x="470.78" y="98.54" width="1.93" height="6.73" fill="#ff4100"/>
<rect x="472.00" y="98.54" width="1.93" height="6.73" fill="#ff3c00"/>
<rect x="473.23" y="98.54" width="1.93" height="6.73" fill="#ff4500"/>
<rect x="474.45" y="98.54" width="1.93" height="6.73" fill="#ff2100"/>
<rect x="475.68" y="98.54" width="1.93" height="6.73" fill="#ff6a00"/>
<rect x="476.90" y="98.54" width="1.93" height="6.73" fill="#ff5f00"/>
<rect x="478.12" y="98.54" width="1.93" height="6.73" fill="#ff7100"/>
<rect x="479.35" y="98.54" width="1.93" height="6.73" fill="#ff6300"/>
<rect x="480.58" y="98.54" width="1.93" height="6.73" fill="#ff6c00"/>
<rect x="481.80" y="98.54" width="1.93" height="6.73" fill="#ff1800"/>
<rect x="483.03" y="98.54" width="1.93" height="6.73" fill="#ff5000"/>
<rect x="484.25" y="98.54" width="1.93" height="6.73" fill="#ff6b00"/>
<rect x="485.48" y="98.54" width="1.93" height="6.73" fill="#ff7900"/>
<rect x="486.70" y="98.54" width="1.93" height="6.73" fill="#ff3000"/>
<rect x="487.93" y="98.54" width="1.93" height="6.73" fill="#ff2e00"/>
<rect x="489.15" y="98.54" width="1.93" height="6.73" fill="#ff4300"/>
<rect x="490.38" y="98.54" width="1.93" height="6.73" fill="#ff2f00"/>
<rect x="491.60" y="98.54" width="1.93" height="6.73" fill="#ff4d00"/>
<rect x="492.83" y="98.54" width="1.93" height="6.73" fill="#ff2100"/>
<rect x="494.05" y="98.54" width="1.93" height="6.73" fill="#ff5600"/>
<rect x="495.28" y="98.54" width="1.93" height="6.73" fill="#ff4400"/>
<rect x="496.50" y="98.54" width="1.93" height="6.73" fill="#ff1b00"/>
<rect x="497.73" y="98.54" width="1.93" height="6.73" fill="#ff1400"/>
<rect x="498.95" y="98.54" width="1.93" height="6.73" fill="#ff4a00"/>
<rect x="500.18" y="98.54" width="1.93" height="6.73" fill="#ff5700"/>
<rect x="501.40" y="98.54" width="1.93" height="6.73" fill="#ff6200"/>
<rect x="502.62" y="98.54" width="1.93" height="6.73" fill="#ff3600"/>
<rect x="503.85" y="98.54" width="1.93" height="6.73" fill="#ff5400"/>
<rect x="505.08" y="98.54" width="4.92" height="6.73" fill="#ff4d00"/>
<rect x="429.80" y="104.57" width="4.92" height="6.73" fill="#2e0000"/>
<rect x="434.03" y="104.57" width="1.93" height="6.73" fill="#170000"/>
<rect x="435.25" y="104.57" width="1.93" height="6.73" fill="#2d0000"/>
<rect x="436.48" y="104.57" width="1.93" height="6.73" fill="#1b0000"/>
<rect x="437.70" y="104.57" width="1.93" height="6.73" fill="#270000"/>
<rect x="438.93" y="104.57" width="1.93" height="6.73" fill="#210000"/>
<rect x="440.15" y="104.57" width="1.93" height="6.73" fill="#2d0000"/>
<rect x="441.38" y="104.57" width="1.93" height="6.73" fill="#350000"/>
<rect x="442.60" y="104.57" width="1.93" height="6.73" fill="#240000"/>
<rect x="443.82" y="104.57" width="1.93" height="6.73" fill="#200000"/>
<rect x="445.05" y="104.57" width="1.93" height="6.73" fill="#250000"/>
<rect x="446.28" y="104.57" width="1.93" height="6.73" fill="#270000"/>
<rect x="447.50" y="104.57" width="1.93" height="6.73" fill="#310000"/>
<rect x="448.73" y="104.57" width="1.93" height="6.73" fill="#1f0000"/>
<rect x="449.95" y="104.57" width="1.93" height="6.73" fill="#1f0000"/>
<rect x="451.18" y="104.57" width="1.93" height="6.73" fill="#270000"/>
<rect x="452.40" y="104.57" width="1.93" height="6.73" fill="#1d0000"/>
<rect x="453.62" y="104.57" width="1.93" height="6.73" fill="#290000"/>
<rect x="454.85" y="104.57" width="1.93" height="6.73" fill="#280000"/>
<rect x="456.07" y="104.57" width="1.93" height="6.73" fill="#260000"/>
<rect x="457.30" y="104.57" width="1.93" height="6.73" fill="#1c0000"/>
<rect x="458.53" y="104.57" width="1.93" height="6.73" fill="#270000"/>
<rect x="459.75" y="104.57" width="1.93" height="6.73" fill="#240000"/>
<rect x="460.98" y="104.57" width="1.93" height="6.73" fill="#190000"/>
<rect x="462.20" y="104.57" width="1.93" height="6.73" fill="#130000"/>
<rect x="463.43" y="104.57" width="1.93" height="6.73" fill="#220000"/>
<rect x="464.65" y="104.57" width="1.93" height="6.73" fill="#200000"/>
<rect x="465.88" y="104.57" width="1.93" height="6.73" fill="#1a0000"/>
<rect x="467.10" y="104.57" width="1.93" height="6.73" fill="#1c0000"/>
<rect x="468.33" y="104.57" width="1.93" height="6.73" fill="#2d0000"/>
<rect x="469.55" y="104.57" width="1.93" height="6.73" fill="#250000"/>
<rect x="470.78" y="104.57" width="1.93" height="6.73" fill="#420000"/>
<rect x="472.00" y="104.57" width="1.93" height="6.73" fill="#570000"/>
<rect x="473.23" y="104.57" width="1.93" height="6.73" fill="#4a0000"/>
<rect x="474.45" y="104.57" width="1.93" height="6.73" fill="#2f0000"/>
<rect x="475.68" y="104.57" width="1.93" height="6.73" fill="#5b0000"/>
<rect x="476.90" y="104.57" width="1.93" height="6.73" fill="#320000"/>
<rect x="478.12" y="104.57" width="1.93" height="6.73" fill="#650000"/>
<rect x="479.35" y="104.57" width="1.93" height="6.73" fill="#4c0000"/>
<rect x="480.58" y="104.57" width="1.93" height="6.73" fill="#570000"/>
<rect x="481.80" y="104.57" width="1.93" height="6.73" fill="#2e0000"/>
<rect x="483.03" y="104.57" width="1.93" height="6.73" fill="#450000"/>
<rect x="484.25" y="104.57" width="1.93" height="6.73" fill="#450000"/>
<rect x="485.48" y="104.57" width="1.93" height="6.73" fill="#450000"/>
<rect x="486.70" y="104.57" width="1.93" height="6.73" fill="#1c0000"/>
<rect x="487.93" y="104.57" width="1.93" height="6.73" fill="#320000"/>
<rect x="489.15" y="104.57" width="1.93" height="6.73" fill="#310000"/>
<rect x="490.38" y="104.57" width="1.93" height="6.73" fill="#370000"/>
<rect x="491.60" y="104.57" width="1.93" height="6.73" fill="#200000"/>
<rect x="492.83" y="104.57" width="1.93" height="6.73" fill="#280000"/>
<rect x="494.05" y="104.57" width="1.93" height="6.73" fill="#630000"/>
<rect x="495.28" y="104.57" width="1.93" height="6.73" fill="#2e0000"/>
<rect x="496.50" y="104.57" width="1.93" height="6.73" fill="#320000"/>
<rect x="497.73" y="104.57" width="1.93" height="6.73" fill="#260000"/>
<rect x="498.95" y="104.57" width="1.93" height="6.73" fill="#2c0000"/>
<rect x="500.18" y="104.57" width="1.93" height="6.73" fill="#680000"/>
<rect x="501.40" y="104.57" width="1.93" height="6.73" fill="#3e0000"/>
<rect x="502.62" y="104.57" width="1.93" height="6.73" fill="#4a0000"/>
<rect x="503.85" y="104.57" width="1.93" height="6.73" fill="#290000"/>
<rect x="505.08" y="104.57" width="4.92" height="6.73" fill="#200000"/>
<rect x="429.80" y="110.60" width="4.92" height="6.73" fill="#3d0000"/>
<rect x="434.03" y="110.60" width="1.93" height="6.73" fill="#210000"/>
<rect x="435.25" y="110.60" width="1.93" height="6.73" fill="#260000"/>
<rect x="436.48" y="110.60" width="1.93" height="6.73" fill="#210000"/>
<rect x="437.70" y="110.60" width="1.93" height="6.73" fill="#280000"/>
<rect x="438.93" y="110.60" width="1.93" height="6.73" fill="#350000"/>
<rect x="440.15" y="110.60" width="1.93" height="6.73" fill="#250000"/>
<rect x="441.38" y="110.60" width="1.93" height="6.73" fill="#2d0000"/>
<rect x="442.60" y="110.60" width="1.93" height="6.73" fill="#3a0000"/>
<rect x="443.82" y="110.60" width="1.93" height="6.73" fill="#350000"/>
<rect x="445.05" y="110.60" width="1.93" height="6.73" fill="#210000"/>
<rect x="446.28" y="110.60" width="1.93" height="6.73" fill="#2b0000"/>
<rect x="447.50" y="110.60" width="1.93" height="6.73" fill="#2f0000"/>
<rect x="448.73" y="110.60" width="1.93" height="6.73" fill="#310000"/>
<rect x="449.95" y="110.60" width="1.93" height="6.73" fill="#2b0000"/>
<rect x="451.18" y="110.60" width="1.93" height="6.73" fill="#390000"/>
<rect x="452.40" y="110.60" width="1.93" height="6.73" fill="#320000"/>
<rect x="453.62" y="110.60" width="1.93" height="6.73" fill="#2c0000"/>
<rect x="454.85" y="110.60" width="1.93" height="6.73" fill="#310000"/>
<rect x="456.07" y="110.60" width="1.93" height="6.73" fill="#340000"/>
<rect x="457.30" y="110.60" width="1.93" height="6.73" fill="#2a0000"/>
<rect x="458.53" y="110.60" width="1.93" height="6.73" fill="#300000"/>
<rect x="459.75" y="110.60" width="1.93" height="6.73" fill="#300000"/>
<rect x="460.98" y="110.60" width="1.93" height="6.73" fill="#270000"/>
<rect x="462.20" y="110.60" width="1.93" height="6.73" fill="#2b0000"/>
<rect x="463.43" y="110.60" width="1.93" height="6.73" fill="#230000"/>
<rect x="464.65" y="110.60" width="1.93" height="6.73" fill="#320000"/>
<rect x="465.88" y="110.60" width="1.93" height="6.73" fill="#080000"/>
<rect x="467.10" y="110.60" width="1.93" height="6.73" fill="#490000"/>
<rect x="468.33" y="110.60" width="1.93" height="6.73" fill="#410000"/>
<rect x="469.55" y="110.60" width="1.93" height="6.73" fill="#410000"/>
<rect x="470.78" y="110.60" width="1.93" height="6.73" fill="#770000"/>
<rect x="472.00" y="110.60" width="1.93" height="6.73" fill="#5f0000"/>
<rect x="473.23" y="110.60" width="1.93" height="6.73" fill="#4b0000"/>
<rect x="474.45" y="110.60" width="1.93" height="6.73" fill="#540000"/>
<rect x="475.68" y="110.60" width="1.93" height="6.73" fill="#7a0000"/>
<rect x="476.90" y="110.60" width="1.93" height="6.73" fill="#4b0000"/>
<rect x="478.12" y="110.60" width="1.93" height="6.73" fill="#560000"/>
<rect x="479.35" y="110.60" width="1.93" height="6.73" fill="#510000"/>
<rect x="480.58" y="110.60" width="1.93" height="6.73" fill="#580000"/>
<rect x="481.80" y="110.60" width="1.93" height="6.73" fill="#4e0000"/>
<rect x="483.03" y="110.60" width="1.93" height="6.73" fill="#400000"/>
<rect x="484.25" y="110.60" width="1.93" height="6.73" fill="#4a0000"/>
<rect x="485.48" y="110.60" width="1.93" height="6.73" fill="#590000"/>
<rect x="486.70" y="110.60" width="1.93" height="6.73" fill="#270000"/>
<rect x="487.93" y="110.60" width="1.93" height="6.73" fill="#2e0000"/>
<rect x="489.15" y="110.60" width="1.93" height="6.73" fill="#560000"/>
<rect x="490.38" y="110.60" width="1.93" height="6.73" fill="#5d0000"/>
<rect x="491.60" y="110.60" width="1.93" height="6.73" fill="#410000"/>
<rect x="492.83" y="110.60" width="1.93" height="6.73" fill="#3f0000"/>
<rect x="494.05" y="110.60" width="1.93" height="6.73" fill="#400000"/>
<rect x="495.28" y="110.60" width="1.93" height="6.73" fill="#350000"/>
<rect x="496.50" y="110.60" width="1.93" height="6.73" fill="#260000"/>
<rect x="497.73" y="110.60" width="1.93" height="6.73" fill="#410000"/>
<rect x="498.95" y="110.60" width="1.93" height="6.73" fill="#410000"/>
<rect x="500.18" y="110.60" width="1.93" height="6.73" fill="#310000"/>
<rect x="501.40" y="110.60" width="1.93" height="6.73" fill="#730000"/>
<rect x="502.62" y="110.60" width="1.93" height="6.73" fill="#390000"/>
<rect x="503.85" y="110.60" width="1.93" height="6.73" fill="#5b0000"/>
<rect x="505.08" y="110.60" width="4.92" height="6.73" fill="#580000"/>
<rect x="429.80" y="116.63" width="4.92" height="6.73" fill="#420000"/>
<rect x="434.03" y="116.63" width="1.93" height="6.73" fill="#1c0000"/>
<rect x="435.25" y="116.63" width="1.93" height="6.73" fill="#2b0000"/>
<rect x="436.48" y="116.63" width="1.93" height="6.73" fill="#320000"/>
<rect x="437.70" y="116.63" width="1.93" height="6.73" fill="#180000"/>
<rect x="438.93" y="116.63" width="1.93" height="6.73" fill="#260000"/>
<rect x="440.15" y="116.63" width="1.93" height="6.73" fill="#2c0000"/>
<rect x="441.38" y="116.63" width="1.93" height="6.73" fill="#2e0000"/>
<rect x="442.60" y="116.63" width="1.93" height="6.73" fill="#3f0000"/>
<rect x="443.82" y="116.63" width="1.93" height="6.73" fill="#3c0000"/>
<rect x="445.05" y="116.63" width="1.93" height="6.73" fill="#280000"/>
<rect x="446.28" y="116.63" width="1.93" height="6.73" fill="#3d0000"/>
<rect x="447.50" y="116.63" width="1.93" height="6.73" fill="#2f0000"/>
<rect x="448.73" y="116.63" width="1.93" height="6.73" fill="#320000"/>
<rect x="449.95" y="116.63" width="1.93" height="6.73" fill="#300000"/>
<rect x="451.18" y="116.63" width="1.93" height="6.73" fill="#300000"/>
<rect x="452.40" y="116.63" width="1.93" height="6.73" fill="#2a0000"/>
<rect x="453.62" y="116.63" width="1.93" height="6.73" fill="#2c0000"/>
<rect x="454.85" y="116.63" width="1.93" height="6.73" fill="#260000"/>
<rect x="456.07" y="116.63" width="1.93" height="6.73" fill="#3d0000"/>
<rect x="457.30" y="116.63" width="1.93" height="6.73" fill="#2c0000"/>
<rect x="458.53" y="116.63" width="1.93" height="6.73" fill="#320000"/>
<rect x="459.75" y="116.63" width="1.93" height="6.73" fill="#1d0000"/>
<rect x="460.98" y="116.63" width="1.93" height="6.73" fill="#210000"/>
<rect x="462.20" y="116.63" width="1.93" height="6.73" fill="#240000"/>
<rect x="463.43" y="116.63" width="1.93" height="6.73" fill="#2e0000"/>
<rect x="464.65" y="116.63" width="1.93" height="6.73" fill="#2e0000"/>
<rect x="465.88" y="116.63" width="1.93" height="6.73" fill="#320000"/>
<rect x="467.10" y="116.63" width="1.93" height="6.73" fill="#6a0000"/>
<rect x="468.33" y="116.63" width="1.93" height="6.73" fill="#3c0000"/>
<rect x="469.55" y="116.63" width="1.93" height="6.73" fill="#440000"/>
<rect x="470.78" y="116.63" width="1.93" height="6.73" fill="#690000"/>
<rect x="472.00" y="116.63" width="1.93" height="6.73" fill="#820000"/>
<rect x="473.23" y="116.63" width="1.93" height="6.73" fill="#400000"/>
<rect x="474.45" y="116.63" width="1.93" height="6.73" fill="#480000"/>
<rect x="475.68" y="116.63" width="1.93" height="6.73" fill="#7b0000"/>
<rect x="476.90" y="116.63" width="1.93" height="6.73" fill="#290000"/>
<rect x="478.12" y="116.63" width="1.93" height="6.73" fill="#430000"/>
<rect x="479.35" y="116.63" width="1.93" height="6.73" fill="#7d0000"/>
<rect x="480.58" y="116.63" width="1.93" height="6.73" fill="#730000"/>
<rect x="481.80" y="116.63" width="1.93" height="6.73" fill="#440000"/>
<rect x="483.03" y="116.63" width="1.93" height="6.73" fill="#290000"/>
<rect x="484.25" y="116.63" width="1.93" height="6.73" fill="#740000"/>
<rect x="485.48" y="116.63" width="1.93" height="6.73" fill="#680000"/>
<rect x="486.70" y="116.63" width="1.93" height="6.73" fill="#520000"/>
<rect x="487.93" y="116.63" width="1.93" height="6.73" fill="#650000"/>
<rect x="489.15" y="116.63" width="1.93" height="6.73" fill="#6a0000"/>
<rect x="490.38" y="116.63" width="1.93" height="6.73" fill="#420000"/>
<rect x="491.60" y="116.63" width="1.93" height="6.73" fill="#2d0000"/>
<rect x="492.83" y="116.63" width="1.93" height="6.73" fill="#370000"/>
<rect x="494.05" y="116.63" width="1.93" height="6.73" fill="#490000"/>
<rect x="495.28" y="116.63" width="1.93" height="6.73" fill="#470000"/>
<rect x="496.50" y="116.63" width="1.93" height="6.73" fill="#210000"/>
<rect x="497.73" y="116.63" width="1.93" height="6.73" fill="#250000"/>
<rect x="498.95" y="116.63" width="1.93" height="6.73" fill="#4a0000"/>
<rect x="500.18" y="116.63" width="1.93" height="6.73" fill="#410000"/>
<rect x="501.40" y="116.63" width="1.93" height="6.73" fill="#510000"/>
<rect x="502.62" y="116.63" width="1.93" height="6.73" fill="#6a0000"/>
<rect x="503.85" y="116.63" width="1.93" height="6.73" fill="#590000"/>
<rect x="505.08" y="116.63" width="4.92" height="6.73" fill="#240000"/>
<rect x="429.80" y="122.66" width="4.92" height="6.73" fill="#340000"/>
<rect x="434.03" y="122.66" width="1.93" height="6.73" fill="#2c0000"/>
<rect x="435.25" y="122.66" width="1.93" height="6.73" fill="#290000"/>
<rect x="436.48" y="122.66" width="1.93" height="6.73" fill="#320000"/>
<rect x="437.70" y="122.66" width="1.93" height="6.73" fill="#120000"/>
<rect x="438.93" y="122.66" width="1.93" height="6.73" fill="#270000"/>
<rect x="440.15" y="122.66" width="1.93" height="6.73" fill="#370000"/>
<rect x="441.38" y="122.66" width="1.93" height="6.73" fill="#310000"/>
<rect x="442.60" y="122.66" width="1.93" height="6.73" fill="#3a0000"/>
<rect x="443.82" y="122.66" width="1.93" height="6.73" fill="#2e0000"/>
<rect x="445.05" y="122.66" width="1.93" height="6.73" fill="#290000"/>
<rect x="446.28" y="122.66" width="1.93" height="6.73" fill="#370000"/>
<rect x="447.50" y="122.66" width="1.93" height="6.73" fill="#280000"/>
<rect x="448.73" y="122.66" width="1.93" height="6.73" fill="#360000"/>
<rect x="449.95" y="122.66" width="1.93" height="6.73" fill="#2d0000"/>
<rect x="451.18" y="122.66" width="1.93" height="6.73" fill="#3e0000"/>
<rect x="452.40" y="122.66" width="1.93" height="6.73" fill="#2e0000"/>
<rect x="453.62" y="122.66" width="1.93" height="6.73" fill="#270000"/>
<rect x="454.85" y="122.66" width="1.93" height="6.73" fill="#1b0000"/>
<rect x="456.07" y="122.66" width="1.93" height="6.73" fill="#290000"/>
<rect x="457.30" y="122.66" width="1.93" height="6.73" fill="#2f0000"/>
<rect x="458.53" y="122.66" width="1.93" height="6.73" fill="#260000"/>
<rect x="459.75" y="122.66" width="1.93" height="6.73" fill="#160000"/>
<rect x="460.98" y="122.66" width="1.93" height="6.73" fill="#180000"/>
<rect x="462.20" y="122.66" width="1.93" height="6.73" fill="#250000"/>
<rect x="463.43" y="122.66" width="1.93" height="6.73" fill="#3a0000"/>
<rect x="464.65" y="122.66" width="1.93" height="6.73" fill="#2e0000"/>
<rect x="465.88" y="122.66" width="1.93" height="6.73" fill="#3e0000"/>
<rect x="467.10" y="122.66" width="1.93" height="6.73" fill="#270000"/>
<rect x="468.33" y="122.66" width="1.93" height="6.73" fill="#100000"/>
<rect x="469.55" y="122.66" width="1.93" height="6.73" fill="#630000"/>
<rect x="470.78" y="122.66" width="1.93" height="6.73" fill="#480000"/>
<rect x="472.00" y="122.66" width="1.93" height="6.73" fill="#770000"/>
<rect x="473.23" y="122.66" width="1.93" height="6.73" fill="#3c0000"/>
<rect x="474.45" y="122.66" width="1.93" height="6.73" fill="#230000"/>
<rect x="475.68" y="122.66" width="1.93" height="6.73" fill="#490000"/>
<rect x="476.90" y="122.66" width="1.93" height="6.73" fill="#160000"/>
<rect x="478.12" y="122.66" width="1.93" height="6.73" fill="#710000"/>
<rect x="479.35" y="122.66" width="1.93" height="6.73" fill="#6b0000"/>
<rect x="480.58" y="122.66" width="1.93" height="6.73" fill="#530000"/>
<rect x="481.80" y="122.66" width="1.93" height="6.73" fill="#3b0000"/>
<rect x="483.03" y="122.66" width="1.93" height="6.73" fill="#380000"/>
<rect x="484.25" y="122.66" width="1.93" height="6.73" fill="#390000"/>
<rect x="485.48" y="122.66" width="1.93" height="6.73" fill="#810000"/>
<rect x="486.70" y="122.66" width="1.93" height="6.73" fill="#4d0000"/>
<rect x="487.93" y="122.66" width="1.93" height="6.73" fill="#790000"/>
<rect x="489.15" y="122.66" width="1.93" height="6.73" fill="#4a0000"/>
<rect x="490.38" y="122.66" width="1.93" height="6.73" fill="#490000"/>
<rect x="491.60" y="122.66" width="1.93" height="6.73" fill="#2d0000"/>
<rect x="492.83" y="122.66" width="1.93" height="6.73" fill="#1e0000"/>
<rect x="494.05" y="122.66" width="1.93" height="6.73" fill="#720000"/>
<rect x="495.28" y="122.66" width="1.93" height="6.73" fill="#6e0000"/>
<rect x="496.50" y="122.66" width="1.93" height="6.73" fill="#2b0000"/>
<rect x="497.73" y="122.66" width="1.93" height="6.73" fill="#5b0000"/>
<rect x="498.95" y="122.66" width="1.93" height="6.73" fill="#5f0000"/>
<rect x="500.18" y="122.66" width="1.93" height="6.73" fill="#2d0000"/>
<rect x="501.40" y="122.66" width="1.93" height="6.73" fill="#5a0000"/>
<rect x="502.62" y="122.66" width="1.93" height="6.73" fill="#7a0000"/>
<rect x="503.85" y="122.66" width="1.93" height="6.73" fill="#4c0000"/>
<rect x="505.08" y="122.66" width="4.92" height="6.73" fill="#620000"/>
<rect x="429.80" y="128.69" width="4.92" height="6.73" fill="#2a0000"/>
<rect x="434.03" y="128.69" width="1.93" height="6.73" fill="#260000"/>
<rect x="435.25" y="128.69" width="1.93" height="6.73" fill="#350000"/>
<rect x="436.48" y="128.69" width="1.93" height="6.73" fill="#240000"/>
<rect x="437.70" y="128.69" width="1.93" height="6.73" fill="#190000"/>
<rect x="438.93" y="128.69" width="1.93" height="6.73" fill="#390000"/>
<rect x="440.15" y="128.69" width="1.93" height="6.73" fill="#310000"/>
<rect x="441.38" y="128.69" width="1.93" height="6.73" fill="#380000"/>
<rect x="442.60" y="128.69" width="1.93" height="6.73" fill="#2b0000"/>
<rect x="443.82" y="128.69" width="1.93" height="6.73" fill="#270000"/>
<rect x="445.05" y="128.69" width="1.93" height="6.73" fill="#260000"/>
<rect x="446.28" y="128.69" width="1.93" height="6.73" fill="#2a0000"/>
<rect x="447.50" y="128.69" width="1.93" height="6.73" fill="#3a0000"/>
<rect x="448.73" y="128.69" width="1.93" height="6.73" fill="#2d0000"/>
<rect x="449.95" y="128.69" width="1.93" height="6.73" fill="#2d0000"/>
<rect x="451.18" y="128.69" width="1.93" height="6.73" fill="#2a0000"/>
<rect x="452.40" y="128.69" width="1.93" height="6.73" fill="#2e0000"/>
<rect x="453.62" y="128.69" width="1.93" height="6.73" fill="#240000"/>
<rect x="454.85" y="128.69" width="1.93" height="6.73" fill="#1f0000"/>
<rect x="456.07" y="128.69" width="1.93" height="6.73" fill="#1f0000"/>
<rect x="457.30" y="128.69" width="1.93" height="6.73" fill="#1d0000"/>
<rect x="458.53" y="128.69" width="1.93" height="6.73" fill="#370000"/>
<rect x="459.75" y="128.69" width="1.93" height="6.73" fill="#1a0000"/>
<rect x="460.98" y="128.69" width="1.93" height="6.73" fill="#170000"/>
<rect x="462.20" y="128.69" width="1.93" height="6.73" fill="#1b0000"/>
<rect x="463.43" y="128.69" width="1.93" height="6.73" fill="#2f0000"/>
<rect x="464.65" y="128.69" width="1.93" height="6.73" fill="#230000"/>
<rect x="465.88" y="128.69" width="1.93" height="6.73" fill="#160000"/>
<rect x="467.10" y="128.69" width="1.93" height="6.73" fill="#420000"/>
<rect x="468.33" y="128.69" width="1.93" height="6.73" fill="#1c0000"/>
<rect x="469.55" y="128.69" width="1.93" height="6.73" fill="#380000"/>
<rect x="470.78" y="128.69" width="1.93" height="6.73" fill="#5e0000"/>
<rect x="472.00" y="128.69" width="1.93" height="6.73" fill="#3a0000"/>
<rect x="473.23" y="128.69" width="1.93" height="6.73" fill="#330000"/>
<rect x="474.45" y="128.69" width="1.93" height="6.73" fill="#500000"/>
<rect x="475.68" y="128.69" width="1.93" height="6.73" fill="#290000"/>
<rect x="476.90" y="128.69" width="1.93" height="6.73" fill="#2d0000"/>
<rect x="478.12" y="128.69" width="1.93" height="6.73" fill="#7d0000"/>
<rect x="479.35" y="128.69" width="1.93" height="6.73" fill="#780000"/>
<rect x="480.58" y="128.69" width="1.93" height="6.73" fill="#350000"/>
<rect x="481.80" y="128.69" width="1.93" height="6.73" fill="#2e0000"/>
<rect x="483.03" y="128.69" width="1.93" height="6.73" fill="#5d0000"/>
<rect x="484.25" y="128.69" width="1.93" height="6.73" fill="#3f0000"/>
<rect x="485.48" y="128.69" width="1.93" height="6.73" fill="#900000"/>
<rect x="486.70" y="128.69" width="1.93" height="6.73" fill="#290000"/>
<rect x="487.93" y="128.69" width="1.93" height="6.73" fill="#7f0000"/>
<rect x="489.15" y="128.69" width="1.93" height="6.73" fill="#430000"/>
<rect x="490.38" y="128.69" width="1.93" height="6.73" fill="#280000"/>
<rect x="491.60" y="128.69" width="1.93" height="6.73" fill="#400000"/>
<rect x="492.83" y="128.69" width="1.93" height="6.73" fill="#1c0000"/>
<rect x="494.05" y="128.69" width="1.93" height="6.73" fill="#6e0000"/>
<rect x="495.28" y="128.69" width="1.93" height="6.73" fill="#480000"/>
<rect x="496.50" y="128.69" width="1.93" height="6.73" fill="#630000"/>
<rect x="497.73" y="128.69" width="1.93" height="6.73" fill="#540000"/>
<rect x="498.95" y="128.69" width="1.93" height="6.73" fill="#3f0000"/>
<rect x="500.18" y="128.69" width="1.93" height="6.73" fill="#200000"/>
<rect x="501.40" y="128.69" width="1.93" height="6.73" fill="#5e0000"/>
<rect x="502.62" y="128.69" width="1.93" height="6.73" fill="#3e0000"/>
<rect x="503.85" y="128.69" width="1.93" height="6.73" fill="#690000"/>
<rect x="505.08" y="128.69" width="4.92" height="6.73" fill="#2f0000"/>
<rect x="429.80" y="134.72" width="4.92" height="6.73" fill="#2d0000"/>
<rect x="434.03" y="134.72" width="1.93" height="6.73" fill="#290000"/>
<rect x="435.25" y="134.72" width="1.93" height="6.73" fill="#2c0000"/>
<rect x="436.48" y="134.72" width="1.93" height="6.73" fill="#2e0000"/>
<rect x="437.70" y="134.72" width="1.93" height="6.73" fill="#1e0000"/>
<rect x="438.93" y="134.72" width="1.93" height="6.73" fill="#3a0000"/>
<rect x="440.15" y="134.72" width="1.93" height="6.73" fill="#310000"/>
<rect x="441.38" y="134.72" width="1.93" height="6.73" fill="#2d0000"/>
<rect x="442.60" y="134.72" width="1.93" height="6.73" fill="#290000"/>
<rect x="443.82" y="134.72" width="1.93" height="6.73" fill="#220000"/>
<rect x="445.05" y="134.72" width="1.93" height="6.73" fill="#1f0000"/>
<rect x="446.28" y="134.72" width="1.93" height="6.73" fill="#390000"/>
<rect x="447.50" y="134.72" width="1.93" height="6.73" fill="#2e0000"/>
<rect x="448.73" y="134.72" width="1.93" height="6.73" fill="#340000"/>
<rect x="449.95" y="134.72" width="1.93" height="6.73" fill="#200000"/>
<rect x="451.18" y="134.72" width="1.93" height="6.73" fill="#2f0000"/>
<rect x="452.40" y="134.72" width="1.93" height="6.73" fill="#290000"/>
<rect x="453.62" y="134.72" width="1.93" height="6.73" fill="#260000"/>
<rect x="454.85" y="134.72" width="1.93" height="6.73" fill="#1d0000"/>
<rect x="456.07" y="134.72" width="1.93" height="6.73" fill="#1b0000"/>
<rect x="457.30" y="134.72" width="1.93" height="6.73" fill="#1b0000"/>
<rect x="458.53" y="134.72" width="1.93" height="6.73" fill="#2c0000"/>
<rect x="459.75" y="134.72" width="1.93" height="6.73" fill="#160000"/>
<rect x="460.98" y="134.72" width="1.93" height="6.73" fill="#240000"/>
<rect x="462.20" y="134.72" width="1.93" height="6.73" fill="#1a0000"/>
<rect x="463.43" y="134.72" width="1.93" height="6.73" fill="#2e0000"/>
<rect x="464.65" y="134.72" width="1.93" height="6.73" fill="#320000"/>
<rect x="465.88" y="134.72" width="1.93" height="6.73" fill="#310000"/>
<rect x="467.10" y="134.72" width="1.93" height="6.73" fill="#600000"/>
<rect x="468.33" y="134.72" width="1.93" height="6.73" fill="#4f0000"/>
<rect x="469.55" y="134.72" width="1.93" height="6.73" fill="#240000"/>
<rect x="470.78" y="134.72" width="1.93" height="6.73" fill="#3f0000"/>
<rect x="472.00" y="134.72" width="1.93" height="6.73" fill="#1c0000"/>
<rect x="473.23" y="134.72" width="1.93" height="6.73" fill="#550000"/>
<rect x="474.45" y="134.72" width="1.93" height="6.73" fill="#530000"/>
<rect x="475.68" y="134.72" width="1.93" height="6.73" fill="#300000"/>
<rect x="476.90" y="134.72" width="1.93" height="6.73" fill="#330000"/>
<rect x="478.12" y="134.72" width="1.93" height="6.73" fill="#720000"/>
<rect x="479.35" y="134.72" width="1.93" height="6.73" fill="#730000"/>
<rect x="480.58" y="134.72" width="1.93" height="6.73" fill="#310000"/>
<rect x="481.80" y="134.72" width="1.93" height="6.73" fill="#560000"/>
<rect x="483.03" y="134.72" width="1.93" height="6.73" fill="#4a0000"/>
<rect x="484.25" y="134.72" width="1.93" height="6.73" fill="#580000"/>
<rect x="485.48" y="134.72" width="1.93" height="6.73" fill="#510000"/>
<rect x="486.70" y="134.72" width="1.93" height="6.73" fill="#130000"/>
<rect x="487.93" y="134.72" width="1.93" height="6.73" fill="#7f0000"/>
<rect x="489.15" y="134.72" width="1.93" height="6.73" fill="#550000"/>
<rect x="490.38" y="134.72" width="1.93" height="6.73" fill="#470000"/>
<rect x="491.60" y="134.72" width="1.93" height="6.73" fill="#220000"/>
<rect x="492.83" y="134.72" width="1.93" height="6.73" fill="#130000"/>
<rect x="494.05" y="134.72" width="1.93" height="6.73" fill="#3c0000"/>
<rect x="495.28" y="134.72" width="1.93" height="6.73" fill="#330000"/>
<rect x="496.50" y="134.72" width="1.93" height="6.73" fill="#440000"/>
<rect x="497.73" y="134.72" width="1.93" height="6.73" fill="#3f0000"/>
<rect x="498.95" y="134.72" width="1.93" height="6.73" fill="#140000"/>
<rect x="500.18" y="134.72" width="1.93" height="6.73" fill="#200000"/>
<rect x="501.40" y="134.72" width="1.93" height="6.73" fill="#620000"/>
<rect x="502.62" y="134.72" width="1.93" height="6.73" fill="#220000"/>
<rect x="503.85" y="134.72" width="1.93" height="6.73" fill="#710000"/>
<rect x="505.08" y="134.72" width="4.92" height="6.73" fill="#440000"/>
<rect x="429.80" y="140.75" width="4.92" height="6.73" fill="#ff2200"/>
<rect x="434.03" y="140.75" width="1.93" height="6.73" fill="#ff1900"/>
<rect x="435.25" y="140.75" width="1.93" height="6.73" fill="#ff1a00"/>
<rect x="436.48" y="140.75" width="1.93" height="6.73" fill="#ff2000"/>
<rect x="437.70" y="140.75" width="1.93" height="6.73" fill="#ff1500"/>
<rect x="438.93" y="140.75" width="1.93" height="6.73" fill="#ff1200"/>
<rect x="440.15" y="140.75" width="1.93" height="6.73" fill="#ff1f00"/>
<rect x="441.38" y="140.75" width="1.93" height="6.73" fill="#ff1b00"/>
<rect x="442.60" y="140.75" width="1.93" height="6.73" fill="#ff1100"/>
<rect x="443.82" y="140.75" width="1.93" height="6.73" fill="#ff0900"/>
<rect x="445.05" y="140.75" width="1.93" height="6.73" fill="#ff1700"/>
<rect x="446.28" y="140.75" width="1.93" height="6.73" fill="#ff1700"/>
<rect x="447.50" y="140.75" width="1.93" height="6.73" fill="#ff0a00"/>
<rect x="448.73" y="140.75" width="1.93" height="6.73" fill="#ff0d00"/>
<rect x="449.95" y="140.75" width="1.93" height="6.73" fill="#ff0700"/>
<rect x="451.18" y="140.75" width="1.93" height="6.73" fill="#ff1400"/>
<rect x="452.40" y="140.75" width="1.93" height="6.73" fill="#ff0800"/>
<rect x="453.62" y="140.75" width="1.93" height="6.73" fill="#ff1400"/>
<rect x="454.85" y="140.75" width="1.93" height="6.73" fill="#ff0e00"/>
<rect x="456.07" y="140.75" width="1.93" height="6.73" fill="#ff0000"/>
<rect x="457.30" y="140.75" width="1.93" height="6.73" fill="#ff0b00"/>
<rect x="458.53" y="140.75" width="1.93" height="6.73" fill="#ff0600"/>
<rect x="459.75" y="140.75" width="1.93" height="6.73" fill="#ff0900"/>
<rect x="460.98" y="140.75" width="1.93" height="6.73" fill="#ff0d00"/>
<rect x="462.20" y="140.75" width="1.93" height="6.73" fill="#ff0000"/>
<rect x="463.43" y="140.75" width="1.93" height="6.73" fill="#fc0000"/>
<rect x="464.65" y="140.75" width="1.93" height="6.73" fill="#ff0d00"/>
<rect x="465.88" y="140.75" width="1.93" height="6.73" fill="#ffff5a"/>
<rect x="467.10" y="140.75" width="1.93" height="6.73" fill="#ffff7b"/>
<rect x="468.33" y="140.75" width="1.93" height="6.73" fill="#ffff6a"/>
<rect x="469.55" y="140.75" width="1.93" height="6.73" fill="#ffff5e"/>
<rect x="470.78" y="140.75" width="1.93" height="6.73" fill="#ffff6a"/>
<rect x="472.00" y="140.75" width="1.93" height="6.73" fill="#ffff56"/>
<rect x="473.23" y="140.75" width="1.93" height="6.73" fill="#ffff5a"/>
<rect x="474.45" y="140.75" width="1.93" height="6.73" fill="#ffff49"/>
<rect x="475.68" y="140.75" width="1.93" height="6.73" fill="#ffff5f"/>
<rect x="476.90" y="140.75" width="1.93" height="6.73" fill="#ffff53"/>
<rect x="478.12" y="140.75" width="1.93" height="6.73" fill="#ffff63"/>
<rect x="479.35" y="140.75" width="1.93" height="6.73" fill="#ffff7a"/>
<rect x="480.58" y="140.75" width="1.93" height="6.73" fill="#ffff3f"/>
<rect x="481.80" y="140.75" width="1.93" height="6.73" fill="#ffff6f"/>
<rect x="483.03" y="140.75" width="1.93" height="6.73" fill="#ffff41"/>
<rect x="484.25" y="140.75" width="1.93" height="6.73" fill="#ffff67"/>
<rect x="485.48" y="140.75" width="1.93" height="6.73" fill="#ffff6a"/>
<rect x="486.70" y="140.75" width="1.93" height="6.73" fill="#ffff44"/>
<rect x="487.93" y="140.75" width="1.93" height="6.73" fill="#ffff6d"/>
<rect x="489.15" y="140.75" width="1.93" height="6.73" fill="#ffff7a"/>
<rect x="490.38" y="140.75" width="1.93" height="6.73" fill="#ffff65"/>
<rect x="491.60" y="140.75" width="1.93" height="6.73" fill="#ffff52"/>
<rect x="492.83" y="140.75" width="1.93" height="6.73" fill="#ffff3f"/>
<rect x="494.05" y="140.75" width="1.93" height="6.73" fill="#ffff40"/>
<rect x="495.28" y="140.75" width="1.93" height="6.73" fill="#ffff4c"/>
<rect x="496.50" y="140.75" width="1.93" height="6.73" fill="#ffff54"/>
<rect x="497.73" y="140.75" width="1.93" height="6.73" fill="#ffff4a"/>
<rect x="498.95" y="140.75" width="1.93" height="6.73" fill="#ffff47"/>
<rect x="500.18" y="140.75" width="1.93" height="6.73" fill="#ffff41"/>
<rect x="501.40" y="140.75" width="1.93" height="6.73" fill="#ffff6b"/>
<rect x="502.62" y="140.75" width="1.93" height="6.73" fill="#ffff5d"/>
<rect x="503.85" y="140.75" width="1.93" height="6.73" fill="#ffff58"/>
<rect x="505.08" y="140.75" width="4.92" height="6.73" fill="#ffff4d"/>
<rect x="429.80" y="146.78" width="4.92" height="6.73" fill="#2a0000"/>
<rect x="434.03" y="146.78" width="1.93" height="6.73" fill="#1e0000"/>
<rect x="435.25" y="146.78" width="1.93" height="6.73" fill="#340000"/>
<rect x="436.48" y="146.78" width="1.93" height="6.73" fill="#210000"/>
<rect x="437.70" y="146.78" width="1.93" height="6.73" fill="#190000"/>
<rect x="438.93" y="146.78" width="1.93" height="6.73" fill="#300000"/>
<rect x="440.15" y="146.78" width="1.93" height="6.73" fill="#210000"/>
<rect x="441.38" y="146.78" width="1.93" height="6.73" fill="#2b0000"/>
<rect x="442.60" y="146.78" width="1.93" height="6.73" fill="#200000"/>
<rect x="443.82" y="146.78" width="1.93" height="6.73" fill="#2d0000"/>
<rect x="445.05" y="146.78" width="1.93" height="6.73" fill="#270000"/>
<rect x="446.28" y="146.78" width="1.93" height="6.73" fill="#320000"/>
<rect x="447.50" y="146.78" width="1.93" height="6.73" fill="#1a0000"/>
<rect x="448.73" y="146.78" width="1.93" height="6.73" fill="#2c0000"/>
<rect x="449.95" y="146.78" width="1.93" height="6.73" fill="#210000"/>
<rect x="451.18" y="146.78" width="1.93" height="6.73" fill="#2a0000"/>
<rect x="452.40" y="146.78" width="1.93" height="6.73" fill="#290000"/>
<rect x="453.62" y="146.78" width="1.93" height="6.73" fill="#2e0000"/>
<rect x="454.85" y="146.78" width="1.93" height="6.73" fill="#180000"/>
<rect x="456.07" y="146.78" width="1.93" height="6.73" fill="#1a0000"/>
<rect x="457.30" y="146.78" width="1.93" height="6.73" fill="#1c0000"/>
<rect x="458.53" y="146.78" width="1.93" height="6.73" fill="#210000"/>
<rect x="459.75" y="146.78" width="1.93" height="6.73" fill="#150000"/>
<rect x="460.98" y="146.78" width="1.93" height="6.73" fill="#1c0000"/>
<rect x="462.20" y="146.78" width="1.93" height="6.73" fill="#130000"/>
<rect x="463.43" y="146.78" width="1.93" height="6.73" fill="#2b0000"/>
<rect x="464.65" y="146.78" width="1.93" height="6.73" fill="#270000"/>
<rect x="465.88" y="146.78" width="1.93" height="6.73" fill="#0f0000"/>
<rect x="467.10" y="146.78" width="1.93" height="6.73" fill="#370000"/>
<rect x="468.33" y="146.78" width="1.93" height="6.73" fill="#390000"/>
<rect x="469.55" y="146.78" width="1.93" height="6.73" fill="#3a0000"/>
<rect x="470.78" y="146.78" width="1.93" height="6.73" fill="#300000"/>
<rect x="472.00" y="146.78" width="1.93" height="6.73" fill="#1f0000"/>
<rect x="473.23" y="146.78" width="1.93" height="6.73" fill="#1e0000"/>
<rect x="474.45" y="146.78" width="1.93" height="6.73" fill="#4e0000"/>
<rect x="475.68" y="146.78" width="1.93" height="6.73" fill="#560000"/>
<rect x="476.90" y="146.78" width="1.93" height="6.73" fill="#160000"/>
<rect x="478.12" y="146.78" width="1.93" height="6.73" fill="#5b0000"/>
<rect x="479.35" y="146.78" width="1.93" height="6.73" fill="#7c0000"/>
<rect x="480.58" y="146.78" width="1.93" height="6.73" fill="#3c0000"/>
<rect x="481.80" y="146.78" width="1.93" height="6.73" fill="#210000"/>
<rect x="483.03" y="146.78" width="1.93" height="6.73" fill="#370000"/>
<rect x="484.25" y="146.78" width="1.93" height="6.73" fill="#4a0000"/>
<rect x="485.48" y="146.78" width="1.93" height="6.73" fill="#3a0000"/>
<rect x="486.70" y="146.78" width="1.93" height="6.73" fill="#2a0000"/>
<rect x="487.93" y="146.78" width="1.93" height="6.73" fill="#1b0000"/>
<rect x="489.15" y="146.78" width="1.93" height="6.73" fill="#660000"/>
<rect x="490.38" y="146.78" width="1.93" height="6.73" fill="#430000"/>
<rect x="491.60" y="146.78" width="1.93" height="6.73" fill="#4b0000"/>
<rect x="492.83" y="146.78" width="1.93" height="6.73" fill="#570000"/>
<rect x="494.05" y="146.78" width="1.93" height="6.73" fill="#3d0000"/>
<rect x="495.28" y="146.78" width="1.93" height="6.73" fill="#2a0000"/>
<rect x="496.50" y="146.78" width="1.93" height="6.73" fill="#2a0000"/>
<rect x="497.73" y="146.78" width="1.93" height="6.73" fill="#130000"/>
<rect x="498.95" y="146.78" width="1.93" height="6.73" fill="#040000"/>
<rect x="500.18" y="146.78" width="1.93" height="6.73" fill="#3a0000"/>
<rect x="501.40" y="146.78" width="1.93" height="6.73" fill="#670000"/>
<rect x="502.62" y="146.78" width="1.93" height="6.73" fill="#280000"/>
<rect x="503.85" y="146.78" width="1.93" height="6.73" fill="#1f0000"/>
<rect x="505.08" y="146.78" width="4.92" height="6.73" fill="#3e0000"/>
<rect x="429.80" y="152.81" width="4.92" height="6.73" fill="#3b0000"/>
<rect x="434.03" y="152.81" width="1.93" height="6.73" fill="#330000"/>
<rect x="435.25" y="152.81" width="1.93" height="6.73" fill="#2c0000"/>
<rect x="436.48" y="152.81" width="1.93" height="6.73" fill="#300000"/>
<rect x="437.70" y="152.81" width="1.93" height="6.73" fill="#2d0000"/>
<rect x="438.93" y="152.81" width="1.93" height="6.73" fill="#3c0000"/>
<rect x="440.15" y="152.81" width="1.93" height="6.73" fill="#260000"/>
<rect x="441.38" y="152.81" width="1.93" height="6.73" fill="#270000"/>
<rect x="442.60" y="152.81" width="1.93" height="6.73" fill="#340000"/>
<rect x="443.82" y="152.81" width="1.93" height="6.73" fill="#2f0000"/>
<rect x="445.05" y="152.81" width="1.93" height="6.73" fill="#280000"/>
<rect x="446.28" y="152.81" width="1.93" height="6.73" fill="#370000"/>
<rect x="447.50" y="152.81" width="1.93" height="6.73" fill="#240000"/>
<rect x="448.73" y="152.81" width="1.93" height="6.73" fill="#3c0000"/>
<rect x="449.95" y="152.81" width="1.93" height="6.73" fill="#210000"/>
<rect x="451.18" y="152.81" width="1.93" height="6.73" fill="#220000"/>
<rect x="452.40" y="152.81" width="1.93" height="6.73" fill="#300000"/>
<rect x="453.62" y="152.81" width="1.93" height="6.73" fill="#310000"/>
<rect x="454.85" y="152.81" width="1.93" height="6.73" fill="#2c0000"/>
<rect x="456.07" y="152.81" width="1.93" height="6.73" fill="#2e0000"/>
<rect x="457.30" y="152.81" width="1.93" height="6.73" fill="#2e0000"/>
<rect x="458.53" y="152.81" width="1.93" height="6.73" fill="#3b0000"/>
<rect x="459.75" y="152.81" width="1.93" height="6.73" fill="#200000"/>
<rect x="460.98" y="152.81" width="1.93" height="6.73" fill="#220000"/>
<rect x="462.20" y="152.81" width="1.93" height="6.73" fill="#150000"/>
<rect x="463.43" y="152.81" width="1.93" height="6.73" fill="#2d0000"/>
<rect x="464.65" y="152.81" width="1.93" height="6.73" fill="#2d0000"/>
<rect x="465.88" y="152.81" width="1.93" height="6.73" fill="#070000"/>
<rect x="467.10" y="152.81" width="1.93" height="6.73" fill="#4e0000"/>
<rect x="468.33" y="152.81" width="1.93" height="6.73" fill="#200000"/>
<rect x="469.55" y="152.81" width="1.93" height="6.73" fill="#450000"/>
<rect x="470.78" y="152.81" width="1.93" height="6.73" fill="#6f0000"/>
<rect x="472.00" y="152.81" width="1.93" height="6.73" fill="#190000"/>
<rect x="473.23" y="152.81" width="1.93" height="6.73" fill="#140000"/>
<rect x="474.45" y="152.81" width="1.93" height="6.73" fill="#440000"/>
<rect x="475.68" y="152.81" width="1.93" height="6.73" fill="#3a0000"/>
<rect x="476.90" y="152.81" width="1.93" height="6.73" fill="#480000"/>
<rect x="478.12" y="152.81" width="1.93" height="6.73" fill="#2f0000"/>
<rect x="479.35" y="152.81" width="1.93" height="6.73" fill="#8b0000"/>
<rect x="480.58" y="152.81" width="1.93" height="6.73" fill="#6f0000"/>
<rect x="481.80" y="152.81" width="1.93" height="6.73" fill="#4d0000"/>
<rect x="483.03" y="152.81" width="1.93" height="6.73" fill="#450000"/>
<rect x="484.25" y="152.81" width="1.93" height="6.73" fill="#420000"/>
<rect x="485.48" y="152.81" width="1.93" height="6.73" fill="#5d0000"/>
<rect x="486.70" y="152.81" width="1.93" height="6.73" fill="#3a0000"/>
<rect x="487.93" y="152.81" width="1.93" height="6.73" fill="#2c0000"/>
<rect x="489.15" y="152.81" width="1.93" height="6.73" fill="#460000"/>
<rect x="490.38" y="152.81" width="1.93" height="6.73" fill="#3e0000"/>
<rect x="491.60" y="152.81" width="1.93" height="6.73" fill="#640000"/>
<rect x="492.83" y="152.81" width="1.93" height="6.73" fill="#780000"/>
<rect x="494.05" y="152.81" width="1.93" height="6.73" fill="#6f0000"/>
<rect x="495.28" y="152.81" width="1.93" height="6.73" fill="#270000"/>
<rect x="496.50" y="152.81" width="1.93" height="6.73" fill="#2f0000"/>
<rect x="497.73" y="152.81" width="1.93" height="6.73" fill="#2c0000"/>
<rect x="498.95" y="152.81" width="1.93" height="6.73" fill="#2d0000"/>
<rect x="500.18" y="152.81" width="1.93" height="6.73" fill="#320000"/>
<rect x="501.40" y="152.81" width="1.93" height="6.73" fill="#450000"/>
<rect x="502.62" y="152.81" width="1.93" height="6.73" fill="#140000"/>
<rect x="503.85" y="152.81" width="1.93" height="6.73" fill="#280000"/>
<rect x="505.08" y="152.81" width="4.92" height="6.73" fill="#440000"/>
<rect x="429.80" y="158.84" width="4.92" height="6.73" fill="#420000"/>
<rect x="434.03" y="158.84" width="1.93" height="6.73" fill="#390000"/>
<rect x="435.25" y="158.84" width="1.93" height="6.73" fill="#3a0000"/>
<rect x="436.48" y="158.84" width="1.93" height="6.73" fill="#390000"/>
<rect x="437.70" y="158.84" width="1.93" height="6.73" fill="#370000"/>
<rect x="438.93" y="158.84" width="1.93" height="6.73" fill="#3a0000"/>
<rect x="440.15" y="158.84" width="1.93" height="6.73" fill="#330000"/>
<rect x="441.38" y="158.84" width="1.93" height="6.73" fill="#1e0000"/>
<rect x="442.60" y="158.84" width="1.93" height="6.73" fill="#360000"/>
<rect x="443.82" y="158.84" width="1.93" height="6.73" fill="#350000"/>
<rect x="445.05" y="158.84" width="1.93" height="6.73" fill="#240000"/>
<rect x="446.28" y="158.84" width="1.93" height="6.73" fill="#350000"/>
<rect x="447.50" y="158.84" width="1.93" height="6.73" fill="#380000"/>
<rect x="448.73" y="158.84" width="1.93" height="6.73" fill="#350000"/>
<rect x="449.95" y="158.84" width="1.93" height="6.73" fill="#2b0000"/>
<rect x="451.18" y="158.84" width="1.93" height="6.73" fill="#240000"/>
<rect x="452.40" y="158.84" width="1.93" height="6.73" fill="#290000"/>
<rect x="453.62" y="158.84" width="1.93" height="6.73" fill="#370000"/>
<rect x="454.85" y="158.84" width="1.93" height="6.73" fill="#1a0000"/>
<rect x="456.07" y="158.84" width="1.93" height="6.73" fill="#240000"/>
<rect x="457.30" y="158.84" width="1.93" height="6.73" fill="#2d0000"/>
<rect x="458.53" y="158.84" width="1.93" height="6.73" fill="#340000"/>
<rect x="459.75" y="158.84" width="1.93" height="6.73" fill="#160000"/>
<rect x="460.98" y="158.84" width="1.93" height="6.73" fill="#270000"/>
<rect x="462.20" y="158.84" width="1.93" height="6.73" fill="#1a0000"/>
<rect x="463.43" y="158.84" width="1.93" height="6.73" fill="#330000"/>
<rect x="464.65" y="158.84" width="1.93" height="6.73" fill="#280000"/>
<rect x="465.88" y="158.84" width="1.93" height="6.73" fill="#1d0000"/>
<rect x="467.10" y="158.84" width="1.93" height="6.73" fill="#490000"/>
<rect x="468.33" y="158.84" width="1.93" height="6.73" fill="#270000"/>
<rect x="469.55" y="158.84" width="1.93" height="6.73" fill="#280000"/>
<rect x="470.78" y="158.84" width="1.93" height="6.73" fill="#3e0000"/>
<rect x="472.00" y="158.84" width="1.93" height="6.73" fill="#5c0000"/>
<rect x="473.23" y="158.84" width="1.93" height="6.73" fill="#3c0000"/>
<rect x="474.45" y="158.84" width="1.93" height="6.73" fill="#1c0000"/>
<rect x="475.68" y="158.84" width="1.93" height="6.73" fill="#650000"/>
<rect x="476.90" y="158.84" width="1.93" height="6.73" fill="#300000"/>
<rect x="478.12" y="158.84" width="1.93" height="6.73" fill="#200000"/>
<rect x="479.35" y="158.84" width="1.93" height="6.73" fill="#6c0000"/>
<rect x="480.58" y="158.84" width="1.93" height="6.73" fill="#490000"/>
<rect x="481.80" y="158.84" width="1.93" height="6.73" fill="#420000"/>
<rect x="483.03" y="158.84" width="1.93" height="6.73" fill="#530000"/>
<rect x="484.25" y="158.84" width="1.93" height="6.73" fill="#350000"/>
<rect x="485.48" y="158.84" width="1.93" height="6.73" fill="#600000"/>
<rect x="486.70" y="158.84" width="1.93" height="6.73" fill="#190000"/>
<rect x="487.93" y="158.84" width="1.93" height="6.73" fill="#390000"/>
<rect x="489.15" y="158.84" width="1.93" height="6.73" fill="#490000"/>
<rect x="490.38" y="158.84" width="1.93" height="6.73" fill="#160000"/>
<rect x="491.60" y="158.84" width="1.93" height="6.73" fill="#520000"/>
<rect x="492.83" y="158.84" width="1.93" height="6.73" fill="#3b0000"/>
<rect x="494.05" y="158.84" width="1.93" height="6.73" fill="#550000"/>
<rect x="495.28" y="158.84" width="1.93" height="6.73" fill="#620000"/>
<rect x="496.50" y="158.84" width="1.93" height="6.73" fill="#460000"/>
<rect x="497.73" y="158.84" width="1.93" height="6.73" fill="#4d0000"/>
<rect x="498.95" y="158.84" width="1.93" height="6.73" fill="#4e0000"/>
<rect x="500.18" y="158.84" width="1.93" height="6.73" fill="#160000"/>
<rect x="501.40" y="158.84" width="1.93" height="6.73" fill="#780000"/>
<rect x="502.62" y="158.84" width="1.93" height="6.73" fill="#430000"/>
<rect x="503.85" y="158.84" width="1.93" height="6.73" fill="#150000"/>
<rect x="505.08" y="158.84" width="4.92" height="6.73" fill="#630000"/>
<rect x="429.80" y="164.87" width="4.92" height="6.73" fill="#340000"/>
<rect x="434.03" y="164.87" width="1.93" height="6.73" fill="#250000"/>
<rect x="435.25" y="164.87" width="1.93" height="6.73" fill="#430000"/>
<rect x="436.48" y="164.87" width="1.93" height="6.73" fill="#310000"/>
<rect x="437.70" y="164.87" width="1.93" height="6.73" fill="#350000"/>
<rect x="438.93" y="164.87" width="1.93" height="6.73" fill="#2a0000"/>
<rect x="440.15" y="164.87" width="1.93" height="6.73" fill="#380000"/>
<rect x="441.38" y="164.87" width="1.93" height="6.73" fill="#1b0000"/>
<rect x="442.60" y="164.87" width="1.93" height="6.73" fill="#290000"/>
<rect x="443.82" y="164.87" width="1.93" height="6.73" fill="#300000"/>
<rect x="445.05" y="164.87" width="1.93" height="6.73" fill="#190000"/>
<rect x="446.28" y="164.87" width="1.93" height="6.73" fill="#350000"/>
<rect x="447.50" y="164.87" width="1.93" height="6.73" fill="#2a0000"/>
<rect x="448.73" y="164.87" width="1.93" height="6.73" fill="#2d0000"/>
<rect x="449.95" y="164.87" width="1.93" height="6.73" fill="#300000"/>
<rect x="451.18" y="164.87" width="1.93" height="6.73" fill="#280000"/>
<rect x="452.40" y="164.87" width="1.93" height="6.73" fill="#360000"/>
<rect x="453.62" y="164.87" width="1.93" height="6.73" fill="#310000"/>
<rect x="454.85" y="164.87" width="1.93" height="6.73" fill="#2c0000"/>
<rect x="456.07" y="164.87" width="1.93" height="6.73" fill="#2b0000"/>
<rect x="457.30" y="164.87" width="1.93" height="6.73" fill="#340000"/>
<rect x="458.53" y="164.87" width="1.93" height="6.73" fill="#3e0000"/>
<rect x="459.75" y="164.87" width="1.93" height="6.73" fill="#150000"/>
<rect x="460.98" y="164.87" width="1.93" height="6.73" fill="#2c0000"/>
<rect x="462.20" y="164.87" width="1.93" height="6.73" fill="#1b0000"/>
<rect x="463.43" y="164.87" width="1.93" height="6.73" fill="#3a0000"/>
<rect x="464.65" y="164.87" width="1.93" height="6.73" fill="#2d0000"/>
<rect x="465.88" y="164.87" width="1.93" height="6.73" fill="#370000"/>
<rect x="467.10" y="164.87" width="1.93" height="6.73" fill="#1e0000"/>
<rect x="468.33" y="164.87" width="1.93" height="6.73" fill="#280000"/>
<rect x="469.55" y="164.87" width="1.93" height="6.73" fill="#550000"/>
<rect x="470.78" y="164.87" width="1.93" height="6.73" fill="#6f0000"/>
<rect x="472.00" y="164.87" width="1.93" height="6.73" fill="#680000"/>
<rect x="473.23" y="164.87" width="1.93" height="6.73" fill="#1f0000"/>
<rect x="474.45" y="164.87" width="1.93" height="6.73" fill="#390000"/>
<rect x="475.68" y="164.87" width="1.93" height="6.73" fill="#320000"/>
<rect x="476.90" y="164.87" width="1.93" height="6.73" fill="#410000"/>
<rect x="478.12" y="164.87" width="1.93" height="6.73" fill="#590000"/>
<rect x="479.35" y="164.87" width="1.93" height="6.73" fill="#3a0000"/>
<rect x="480.58" y="164.87" width="1.93" height="6.73" fill="#760000"/>
<rect x="481.80" y="164.87" width="1.93" height="6.73" fill="#4e0000"/>
<rect x="483.03" y="164.87" width="1.93" height="6.73" fill="#3d0000"/>
<rect x="484.25" y="164.87" width="1.93" height="6.73" fill="#2d0000"/>
<rect x="485.48" y="164.87" width="1.93" height="6.73" fill="#550000"/>
<rect x="486.70" y="164.87" width="1.93" height="6.73" fill="#4d0000"/>
<rect x="487.93" y="164.87" width="1.93" height="6.73" fill="#450000"/>
<rect x="489.15" y="164.87" width="1.93" height="6.73" fill="#1f0000"/>
<rect x="490.38" y="164.87" width="1.93" height="6.73" fill="#010000"/>
<rect x="491.60" y="164.87" width="1.93" height="6.73" fill="#2f0000"/>
<rect x="492.83" y="164.87" width="1.93" height="6.73" fill="#640000"/>
<rect x="494.05" y="164.87" width="1.93" height="6.73" fill="#340000"/>
<rect x="495.28" y="164.87" width="1.93" height="6.73" fill="#5e0000"/>
<rect x="496.50" y="164.87" width="1.93" height="6.73" fill="#370000"/>
<rect x="497.73" y="164.87" width="1.93" height="6.73" fill="#580000"/>
<rect x="498.95" y="164.87" width="1.93" height="6.73" fill="#390000"/>
<rect x="500.18" y="164.87" width="1.93" height="6.73" fill="#0d0000"/>
<rect x="501.40" y="164.87" width="1.93" height="6.73" fill="#820000"/>
<rect x="502.62" y="164.87" width="1.93" height="6.73" fill="#450000"/>
<rect x="503.85" y="164.87" width="1.93" height="6.73" fill="#420000"/>
<rect x="505.08" y="164.87" width="4.92" height="6.73" fill="#6e0000"/>
<rect x="429.80" y="170.90" width="4.92" height="6.73" fill="#3e0000"/>
<rect x="434.03" y="170.90" width="1.93" height="6.73" fill="#180000"/>
<rect x="435.25" y="170.90" width="1.93" height="6.73" fill="#340000"/>
<rect x="436.48" y="170.90" width="1.93" height="6.73" fill="#210000"/>
<rect x="437.70" y="170.90" width="1.93" height="6.73" fill="#2c0000"/>
<rect x="438.93" y="170.90" width="1.93" height="6.73" fill="#3a0000"/>
<rect x="440.15" y="170.90" width="1.93" height="6.73" fill="#3a0000"/>
<rect x="441.38" y="170.90" width="1.93" height="6.73" fill="#190000"/>
<rect x="442.60" y="170.90" width="1.93" height="6.73" fill="#230000"/>
<rect x="443.82" y="170.90" width="1.93" height="6.73" fill="#3c0000"/>
<rect x="445.05" y="170.90" width="1.93" height="6.73" fill="#290000"/>
<rect x="446.28" y="170.90" width="1.93" height="6.73" fill="#300000"/>
<rect x="447.50" y="170.90" width="1.93" height="6.73" fill="#2c0000"/>
<rect x="448.73" y="170.90" width="1.93" height="6.73" fill="#250000"/>
<rect x="449.95" y="170.90" width="1.93" height="6.73" fill="#370000"/>
<rect x="451.18" y="170.90" width="1.93" height="6.73" fill="#290000"/>
<rect x="452.40" y="170.90" width="1.93" height="6.73" fill="#3b0000"/>
<rect x="453.62" y="170.90" width="1.93" height="6.73" fill="#2f0000"/>
<rect x="454.85" y="170.90" width="1.93" height="6.73" fill="#1c0000"/>
<rect x="456.07" y="170.90" width="1.93" height="6.73" fill="#270000"/>
<rect x="457.30" y="170.90" width="1.93" height="6.73" fill="#220000"/>
<rect x="458.53" y="170.90" width="1.93" height="6.73" fill="#430000"/>
<rect x="459.75" y="170.90" width="1.93" height="6.73" fill="#210000"/>
<rect x="460.98" y="170.90" width="1.93" height="6.73" fill="#190000"/>
<rect x="462.20" y="170.90" width="1.93" height="6.73" fill="#170000"/>
<rect x="463.43" y="170.90" width="1.93" height="6.73" fill="#320000"/>
<rect x="464.65" y="170.90" width="1.93" height="6.73" fill="#290000"/>
<rect x="465.88" y="170.90" width="1.93" height="6.73" fill="#330000"/>
<rect x="467.10" y="170.90" width="1.93" height="6.73" fill="#260000"/>
<rect x="468.33" y="170.90" width="1.93" height="6.73" fill="#260000"/>
<rect x="469.55" y="170.90" width="1.93" height="6.73" fill="#240000"/>
<rect x="470.78" y="170.90" width="1.93" height="6.73" fill="#620000"/>
<rect x="472.00" y="170.90" width="1.93" height="6.73" fill="#4a0000"/>
<rect x="473.23" y="170.90" width="1.93" height="6.73" fill="#110000"/>
<rect x="474.45" y="170.90" width="1.93" height="6.73" fill="#370000"/>
<rect x="475.68" y="170.90" width="1.93" height="6.73" fill="#6d0000"/>
<rect x="476.90" y="170.90" width="1.93" height="6.73" fill="#1a0000"/>
<rect x="478.12" y="170.90" width="1.93" height="6.73" fill="#350000"/>
<rect x="479.35" y="170.90" width="1.93" height="6.73" fill="#580000"/>
<rect x="480.58" y="170.90" width="1.93" height="6.73" fill="#4d0000"/>
<rect x="481.80" y="170.90" width="1.93" height="6.73" fill="#2f0000"/>
<rect x="483.03" y="170.90" width="1.93" height="6.73" fill="#4b0000"/>
<rect x="484.25" y="170.90" width="1.93" height="6.73" fill="#2f0000"/>
<rect x="485.48" y="170.90" width="1.93" height="6.73" fill="#5c0000"/>
<rect x="486.70" y="170.90" width="1.93" height="6.73" fill="#460000"/>
<rect x="487.93" y="170.90" width="1.93" height="6.73" fill="#6b0000"/>
<rect x="489.15" y="170.90" width="1.93" height="6.73" fill="#5e0000"/>
<rect x="490.38" y="170.90" width="1.93" height="6.73" fill="#000000"/>
<rect x="491.60" y="170.90" width="1.93" height="6.73" fill="#4a0000"/>
<rect x="492.83" y="170.90" width="1.93" height="6.73" fill="#720000"/>
<rect x="494.05" y="170.90" width="1.93" height="6.73" fill="#640000"/>
<rect x="495.28" y="170.90" width="1.93" height="6.73" fill="#700000"/>
<rect x="496.50" y="170.90" width="1.93" height="6.73" fill="#500000"/>
<rect x="497.73" y="170.90" width="1.93" height="6.73" fill="#570000"/>
<rect x="498.95" y="170.90" width="1.93" height="6.73" fill="#2f0000"/>
<rect x="500.18" y="170.90" width="1.93" height="6.73" fill="#160000"/>
<rect x="501.40" y="170.90" width="1.93" height="6.73" fill="#7f0000"/>
<rect x="502.62" y="170.90" width="1.93" height="6.73" fill="#640000"/>
<rect x="503.85" y="170.90" width="1.93" height="6.73" fill="#6a0000"/>
<rect x="505.08" y="170.90" width="4.92" height="6.73" fill="#670000"/>
<rect x="429.80" y="176.93" width="4.92" height="6.73" fill="#2f0000"/>
<rect x="434.03" y="176.93" width="1.93" height="6.73" fill="#2a0000"/>
<rect x="435.25" y="176.93" width="1.93" height="6.73" fill="#3a0000"/>
<rect x="436.48" y="176.93" width="1.93" height="6.73" fill="#260000"/>
<rect x="437.70" y="176.93" width="1.93" height="6.73" fill="#2d0000"/>
<rect x="438.93" y="176.93" width="1.93" height="6.73" fill="#310000"/>
<rect x="440.15" y="176.93" width="1.93" height="6.73" fill="#340000"/>
<rect x="441.38" y="176.93" width="1.93" height="6.73" fill="#230000"/>
<rect x="442.60" y="176.93" width="1.93" height="6.73" fill="#1c0000"/>
<rect x="443.82" y="176.93" width="1.93" height="6.73" fill="#320000"/>
<rect x="445.05" y="176.93" width="1.93" height="6.73" fill="#250000"/>
<rect x="446.28" y="176.93" width="1.93" height="6.73" fill="#3f0000"/>
<rect x="447.50" y="176.93" width="1.93" height="6.73" fill="#2d0000"/>
<rect x="448.73" y="176.93" width="1.93" height="6.73" fill="#290000"/>
<rect x="449.95" y="176.93" width="1.93" height="6.73" fill="#270000"/>
<rect x="451.18" y="176.93" width="1.93" height="6.73" fill="#250000"/>
<rect x="452.40" y="176.93" width="1.93" height="6.73" fill="#2e0000"/>
<rect x="453.62" y="176.93" width="1.93" height="6.73" fill="#200000"/>
<rect x="454.85" y="176.93" width="1.93" height="6.73" fill="#130000"/>
<rect x="456.07" y="176.93" width="1.93" height="6.73" fill="#360000"/>
<rect x="457.30" y="176.93" width="1.93" height="6.73" fill="#220000"/>
<rect x="458.53" y="176.93" width="1.93" height="6.73" fill="#370000"/>
<rect x="459.75" y="176.93" width="1.93" height="6.73" fill="#250000"/>
<rect x="460.98" y="176.93" width="1.93" height="6.73" fill="#190000"/>
<rect x="462.20" y="176.93" width="1.93" height="6.73" fill="#150000"/>
<rect x="463.43" y="176.93" width="1.93" height="6.73" fill="#250000"/>
<rect x="464.65" y="176.93" width="1.93" height="6.73" fill="#230000"/>
<rect x="465.88" y="176.93" width="1.93" height="6.73" fill="#210000"/>
<rect x="467.10" y="176.93" width="1.93" height="6.73" fill="#470000"/>
<rect x="468.33" y="176.93" width="1.93" height="6.73" fill="#380000"/>
<rect x="469.55" y="176.93" width="1.93" height="6.73" fill="#650000"/>
<rect x="470.78" y="176.93" width="1.93" height="6.73" fill="#470000"/>
<rect x="472.00" y="176.93" width="1.93" height="6.73" fill="#730000"/>
<rect x="473.23" y="176.93" width="1.93" height="6.73" fill="#3e0000"/>
<rect x="474.45" y="176.93" width="1.93" height="6.73" fill="#140000"/>
<rect x="475.68" y="176.93" width="1.93" height="6.73" fill="#3c0000"/>
<rect x="476.90" y="176.93" width="1.93" height="6.73" fill="#3b0000"/>
<rect x="478.12" y="176.93" width="1.93" height="6.73" fill="#730000"/>
<rect x="479.35" y="176.93" width="1.93" height="6.73" fill="#480000"/>
<rect x="480.58" y="176.93" width="1.93" height="6.73" fill="#6a0000"/>
<rect x="481.80" y="176.93" width="1.93" height="6.73" fill="#300000"/>
<rect x="483.03" y="176.93" width="1.93" height="6.73" fill="#710000"/>
<rect x="484.25" y="176.93" width="1.93" height="6.73" fill="#1f0000"/>
<rect x="485.48" y="176.93" width="1.93" height="6.73" fill="#570000"/>
<rect x="486.70" y="176.93" width="1.93" height="6.73" fill="#650000"/>
<rect x="487.93" y="176.93" width="1.93" height="6.73" fill="#3d0000"/>
<rect x="489.15" y="176.93" width="1.93" height="6.73" fill="#350000"/>
<rect x="490.38" y="176.93" width="1.93" height="6.73" fill="#000000"/>
<rect x="491.60" y="176.93" width="1.93" height="6.73" fill="#310000"/>
<rect x="492.83" y="176.93" width="1.93" height="6.73" fill="#4a0000"/>
<rect x="494.05" y="176.93" width="1.93" height="6.73" fill="#690000"/>
<rect x="495.28" y="176.93" width="1.93" height="6.73" fill="#450000"/>
<rect x="496.50" y="176.93" width="1.93" height="6.73" fill="#450000"/>
<rect x="497.73" y="176.93" width="1.93" height="6.73" fill="#300000"/>
<rect x="498.95" y="176.93" width="1.93" height="6.73" fill="#410000"/>
<rect x="500.18" y="176.93" width="1.93" height="6.73" fill="#4e0000"/>
<rect x="501.40" y="176.93" width="1.93" height="6.73" fill="#700000"/>
<rect x="502.62" y="176.93" width="1.93" height="6.73" fill="#330000"/>
<rect x="503.85" y="176.93" width="1.93" height="6.73" fill="#680000"/>
<rect x="505.08" y="176.93" width="4.92" height="6.73" fill="#7d0000"/>
<rect x="429.80" y="182.96" width="4.92" height="6.73" fill="#320000"/>
<rect x="434.03" y="182.96" width="1.93" height="6.73" fill="#1c0000"/>
<rect x="435.25" y="182.96" width="1.93" height="6.73" fill="#3e0000"/>
<rect x="436.48" y="182.96" width="1.93" height="6.73" fill="#320000"/>
<rect x="437.70" y="182.96" width="1.93" height="6.73" fill="#240000"/>
<rect x="438.93" y="182.96" width="1.93" height="6.73" fill="#270000"/>
<rect x="440.15" y="182.96" width="1.93" height="6.73" fill="#270000"/>
<rect x="441.38" y="182.96" width="1.93" height="6.73" fill="#2b0000"/>
<rect x="442.60" y="182.96" width="1.93" height="6.73" fill="#320000"/>
<rect x="443.82" y="182.96" width="1.93" height="6.73" fill="#370000"/>
<rect x="445.05" y="182.96" width="1.93" height="6.73" fill="#350000"/>
<rect x="446.28" y="182.96" width="1.93" height="6.73" fill="#2e0000"/>
<rect x="447.50" y="182.96" width="1.93" height="6.73" fill="#290000"/>
<rect x="448.73" y="182.96" width="1.93" height="6.73" fill="#350000"/>
<rect x="449.95" y="182.96" width="1.93" height="6.73" fill="#2d0000"/>
<rect x="451.18" y="182.96" width="1.93" height="6.73" fill="#280000"/>
<rect x="452.40" y="182.96" width="1.93" height="6.73" fill="#320000"/>
<rect x="453.62" y="182.96" width="1.93" height="6.73" fill="#200000"/>
<rect x="454.85" y="182.96" width="1.93" height="6.73" fill="#110000"/>
<rect x="456.07" y="182.96" width="1.93" height="6.73" fill="#2e0000"/>
<rect x="457.30" y="182.96" width="1.93" height="6.73" fill="#150000"/>
<rect x="458.53" y="182.96" width="1.93" height="6.73" fill="#380000"/>
<rect x="459.75" y="182.96" width="1.93" height="6.73" fill="#200000"/>
<rect x="460.98" y="182.96" width="1.93" height="6.73" fill="#1f0000"/>
<rect x="462.20" y="182.96" width="1.93" height="6.73" fill="#210000"/>
<rect x="463.43" y="182.96" width="1.93" height="6.73" fill="#260000"/>
<rect x="464.65" y="182.96" width="1.93" height="6.73" fill="#250000"/>
<rect x="465.88" y="182.96" width="1.93" height="6.73" fill="#090000"/>
<rect x="467.10" y="182.96" width="1.93" height="6.73" fill="#660000"/>
<rect x="468.33" y="182.96" width="1.93" height="6.73" fill="#400000"/>
<rect x="469.55" y="182.96" width="1.93" height="6.73" fill="#840000"/>
<rect x="470.78" y="182.96" width="1.93" height="6.73" fill="#220000"/>
<rect x="472.00" y="182.96" width="1.93" height="6.73" fill="#670000"/>
<rect x="473.23" y="182.96" width="1.93" height="6.73" fill="#5d0000"/>
<rect x="474.45" y="182.96" width="1.93" height="6.73" fill="#1d0000"/>
<rect x="475.68" y="182.96" width="1.93" height="6.73" fill="#210000"/>
<rect x="476.90" y="182.96" width="1.93" height="6.73" fill="#220000"/>
<rect x="478.12" y="182.96" width="1.93" height="6.73" fill="#3f0000"/>
<rect x="479.35" y="182.96" width="1.93" height="6.73" fill="#660000"/>
<rect x="480.58" y="182.96" width="1.93" height="6.73" fill="#380000"/>
<rect x="481.80" y="182.96" width="1.93" height="6.73" fill="#540000"/>
<rect x="483.03" y="182.96" width="1.93" height="6.73" fill="#590000"/>
<rect x="484.25" y="182.96" width="1.93" height="6.73" fill="#430000"/>
<rect x="485.48" y="182.96" width="1.93" height="6.73" fill="#5e0000"/>
<rect x="486.70" y="182.96" width="1.93" height="6.73" fill="#520000"/>
<rect x="487.93" y="182.96" width="1.93" height="6.73" fill="#4d0000"/>
<rect x="489.15" y="182.96" width="1.93" height="6.73" fill="#430000"/>
<rect x="490.38" y="182.96" width="1.93" height="6.73" fill="#100000"/>
<rect x="491.60" y="182.96" width="1.93" height="6.73" fill="#5b0000"/>
<rect x="492.83" y="182.96" width="1.93" height="6.73" fill="#390000"/>
<rect x="494.05" y="182.96" width="1.93" height="6.73" fill="#6b0000"/>
<rect x="495.28" y="182.96" width="1.93" height="6.73" fill="#650000"/>
<rect x="496.50" y="182.96" width="1.93" height="6.73" fill="#630000"/>
<rect x="497.73" y="182.96" width="1.93" height="6.73" fill="#2a0000"/>
<rect x="498.95" y="182.96" width="1.93" height="6.73" fill="#570000"/>
<rect x="500.18" y="182.96" width="1.93" height="6.73" fill="#6f0000"/>
<rect x="501.40" y="182.96" width="1.93" height="6.73" fill="#590000"/>
<rect x="502.62" y="182.96" width="1.93" height="6.73" fill="#270000"/>
<rect x="503.85" y="182.96" width="1.93" height="6.73" fill="#540000"/>
<rect x="505.08" y="182.96" width="4.92" height="6.73" fill="#840000"/>
<rect x="429.80" y="188.99" width="4.92" height="6.73" fill="#260000"/>
<rect x="434.03" y="188.99" width="1.93" height="6.73" fill="#150000"/>
<rect x="435.25" y="188.99" width="1.93" height="6.73" fill="#360000"/>
<rect x="436.48" y="188.99" width="1.93" height="6.73" fill="#310000"/>
<rect x="437.70" y="188.99" width="1.93" height="6.73" fill="#2e0000"/>
<rect x="438.93" y="188.99" width="1.93" height="6.73" fill="#2a0000"/>
<rect x="440.15" y="188.99" width="1.93" height="6.73" fill="#390000"/>
<rect x="441.38" y="188.99" width="1.93" height="6.73" fill="#250000"/>
<rect x="442.60" y="188.99" width="1.93" height="6.73" fill="#370000"/>
<rect x="443.82" y="188.99" width="1.93" height="6.73" fill="#290000"/>
<rect x="445.05" y="188.99" width="1.93" height="6.73" fill="#210000"/>
<rect x="446.28" y="188.99" width="1.93" height="6.73" fill="#250000"/>
<rect x="447.50" y="188.99" width="1.93" height="6.73" fill="#1f0000"/>
<rect x="448.73" y="188.99" width="1.93" height="6.73" fill="#330000"/>
<rect x="449.95" y="188.99" width="1.93" height="6.73" fill="#2d0000"/>
<rect x="451.18" y="188.99" width="1.93" height="6.73" fill="#230000"/>
<rect x="452.40" y="188.99" width="1.93" height="6.73" fill="#3c0000"/>
<rect x="453.62" y="188.99" width="1.93" height="6.73" fill="#200000"/>
<rect x="454.85" y="188.99" width="1.93" height="6.73" fill="#130000"/>
<rect x="456.07" y="188.99" width="1.93" height="6.73" fill="#240000"/>
<rect x="457.30" y="188.99" width="1.93" height="6.73" fill="#250000"/>
<rect x="458.53" y="188.99" width="1.93" height="6.73" fill="#410000"/>
<rect x="459.75" y="188.99" width="1.93" height="6.73" fill="#190000"/>
<rect x="460.98" y="188.99" width="1.93" height="6.73" fill="#130000"/>
<rect x="462.20" y="188.99" width="1.93" height="6.73" fill="#2b0000"/>
<rect x="463.43" y="188.99" width="1.93" height="6.73" fill="#260000"/>
<rect x="464.65" y="188.99" width="1.93" height="6.73" fill="#350000"/>
<rect x="465.88" y="188.99" width="1.93" height="6.73" fill="#1c0000"/>
<rect x="467.10" y="188.99" width="1.93" height="6.73" fill="#590000"/>
<rect x="468.33" y="188.99" width="1.93" height="6.73" fill="#2f0000"/>
<rect x="469.55" y="188.99" width="1.93" height="6.73" fill="#7f0000"/>
<rect x="470.78" y="188.99" width="1.93" height="6.73" fill="#380000"/>
<rect x="472.00" y="188.99" width="1.93" height="6.73" fill="#490000"/>
<rect x="473.23" y="188.99" width="1.93" height="6.73" fill="#7a0000"/>
<rect x="474.45" y="188.99" width="1.93" height="6.73" fill="#0c0000"/>
<rect x="475.68" y="188.99" width="1.93" height="6.73" fill="#4f0000"/>
<rect x="476.90" y="188.99" width="1.93" height="6.73" fill="#100000"/>
<rect x="478.12" y="188.99" width="1.93" height="6.73" fill="#580000"/>
<rect x="479.35" y="188.99" width="1.93" height="6.73" fill="#510000"/>
<rect x="480.58" y="188.99" width="1.93" height="6.73" fill="#6a0000"/>
<rect x="481.80" y="188.99" width="1.93" height="6.73" fill="#1e0000"/>
<rect x="483.03" y="188.99" width="1.93" height="6.73" fill="#5c0000"/>
<rect x="484.25" y="188.99" width="1.93" height="6.73" fill="#460000"/>
<rect x="485.48" y="188.99" width="1.93" height="6.73" fill="#7f0000"/>
<rect x="486.70" y="188.99" width="1.93" height="6.73" fill="#6e0000"/>
<rect x="487.93" y="188.99" width="1.93" height="6.73" fill="#510000"/>
<rect x="489.15" y="188.99" width="1.93" height="6.73" fill="#270000"/>
<rect x="490.38" y="188.99" width="1.93" height="6.73" fill="#140000"/>
<rect x="491.60" y="188.99" width="1.93" height="6.73" fill="#410000"/>
<rect x="492.83" y="188.99" width="1.93" height="6.73" fill="#420000"/>
<rect x="494.05" y="188.99" width="1.93" height="6.73" fill="#410000"/>
<rect x="495.28" y="188.99" width="1.93" height="6.73" fill="#3f0000"/>
<rect x="496.50" y="188.99" width="1.93" height="6.73" fill="#6d0000"/>
<rect x="497.73" y="188.99" width="1.93" height="6.73" fill="#460000"/>
<rect x="498.95" y="188.99" width="1.93" height="6.73" fill="#350000"/>
<rect x="500.18" y="188.99" width="1.93" height="6.73" fill="#7e0000"/>
<rect x="501.40" y="188.99" width="1.93" height="6.73" fill="#3a0000"/>
<rect x="502.62" y="188.99" width="1.93" height="6.73" fill="#3c0000"/>
<rect x="503.85" y="188.99" width="1.93" height="6.73" fill="#2b0000"/>
<rect x="505.08" y="188.99" width="4.92" height="6.73" fill="#800000"/>
</g></g>
<text class="pl" x="439" y="50.7" style="fill:#fff">c</text>
<text class="t10" x="429.3" y="190.0" text-anchor="end">0</text>
<text class="t10" x="429.3" y="147.9" text-anchor="end">2</text>
<text class="t10" x="429.3" y="105.8" text-anchor="end">4</text>
<text class="t10" x="429.3" y="63.7" text-anchor="end">6</text>
<text class="t10" x="433.1" y="200.1" text-anchor="middle">0</text>
<text class="t10" x="457.7" y="200.1" text-anchor="middle">1</text>
<text class="t10" x="482.3" y="200.1" text-anchor="middle">2</text>
<text class="t10" x="506.9" y="200.1" text-anchor="middle">3</text>
<text class="t12" x="470.5" y="213.3" text-anchor="middle">X (µm)</text>
<text class="t12" transform="translate(415.6 112.2) rotate(-90)" text-anchor="middle">Frequency (THz)</text>
</g>
<g id="panelD">
<path d="M46.0,388.7 v-5.0 M46.0,238.8 v5.0 M63.8,388.7 v-2.6 M63.8,238.8 v2.6 M81.7,388.7 v-5.0 M81.7,238.8 v5.0 M99.5,388.7 v-2.6 M99.5,238.8 v2.6 M117.4,388.7 v-5.0 M117.4,238.8 v5.0 M135.2,388.7 v-2.6 M135.2,238.8 v2.6 M153.1,388.7 v-5.0 M153.1,238.8 v5.0 M170.9,388.7 v-2.6 M170.9,238.8 v2.6 M188.8,388.7 v-5.0 M188.8,238.8 v5.0 M206.7,388.7 v-2.6 M206.7,238.8 v2.6 M224.5,388.7 v-5.0 M224.5,238.8 v5.0 M46.0,388.7 h5.0 M233.4,388.7 h-5.0 M46.0,376.2 h2.8 M233.4,376.2 h-2.8 M46.0,363.7 h5.0 M233.4,363.7 h-5.0 M46.0,351.2 h2.8 M233.4,351.2 h-2.8 M46.0,338.7 h5.0 M233.4,338.7 h-5.0 M46.0,326.2 h2.8 M233.4,326.2 h-2.8 M46.0,313.8 h5.0 M233.4,313.8 h-5.0 M46.0,301.3 h2.8 M233.4,301.3 h-2.8 M46.0,288.8 h5.0 M233.4,288.8 h-5.0 M46.0,276.3 h2.8 M233.4,276.3 h-2.8 M46.0,263.8 h5.0 M233.4,263.8 h-5.0 M46.0,251.3 h2.8 M233.4,251.3 h-2.8 M46.0,238.8 h5.0 M233.4,238.8 h-5.0" stroke="#111" stroke-width="1.1" fill="none"/>
<rect x="46.0" y="238.8" width="187.4" height="149.9" fill="none" stroke="#111" stroke-width="1.5"/>
<text class="t10" x="43.7" y="393.1" text-anchor="end">0</text>
<text class="t10" x="43.7" y="368.1" text-anchor="end">50</text>
<text class="t10" x="43.7" y="343.1" text-anchor="end">100</text>
<text class="t10" x="43.7" y="318.1" text-anchor="end">150</text>
<text class="t10" x="43.7" y="293.2" text-anchor="end">200</text>
<text class="t10" x="43.7" y="268.2" text-anchor="end">250</text>
<text class="t10" x="43.7" y="243.2" text-anchor="end">300</text>
<text class="t10" x="46.0" y="402.2" text-anchor="middle">0</text>
<text class="t10" x="81.7" y="402.2" text-anchor="middle">100</text>
<text class="t10" x="117.4" y="402.2" text-anchor="middle">200</text>
<text class="t10" x="153.1" y="402.2" text-anchor="middle">300</text>
<text class="t10" x="188.8" y="402.2" text-anchor="middle">400</text>
<text class="t10" x="224.5" y="402.2" text-anchor="middle">500</text>
<text class="t12" x="139.2" y="415.8" text-anchor="middle">Radius (nm)</text>
<text class="t12" transform="translate(16.8 313.9) rotate(-90)" text-anchor="middle">Resolution (nm)</text>
<text class="pl" x="58.2" y="257.4">d</text>
<path d="M50.0,363.4 V368.2 M48.1,363.4 H51.9 M48.1,368.2 H51.9" stroke="#4a4ae0" stroke-width="1.0" fill="none" opacity="1.00"/>
<path d="M60.6,349.6 V356.4 M58.7,349.6 H62.5 M58.7,356.4 H62.5" stroke="#4a4ae0" stroke-width="1.0" fill="none" opacity="1.00"/>
<path d="M65.8,345.0 V351.6 M63.9,345.0 H67.7 M63.9,351.6 H67.7" stroke="#4a4ae0" stroke-width="1.0" fill="none" opacity="1.00"/>
<path d="M75.0,340.0 V355.0 M73.1,340.0 H76.9 M73.1,355.0 H76.9" stroke="#4a4ae0" stroke-width="1.0" fill="none" opacity="1.00"/>
<path d="M135.5,317.0 V323.2 M133.6,317.0 H137.4 M133.6,323.2 H137.4" stroke="#4a4ae0" stroke-width="1.0" fill="none" opacity="1.00"/>
<path d="M224.5,247.0 V268.8 M222.6,247.0 H226.4 M222.6,268.8 H226.4" stroke="#4a4ae0" stroke-width="1.0" fill="none" opacity="1.00"/>
<path d="M50.0,344.8 V351.8 M48.1,344.8 H51.9 M48.1,351.8 H51.9" stroke="#ee6666" stroke-width="1.0" fill="none" opacity="1.00"/>
<path d="M60.6,335.0 V346.0 M58.7,335.0 H62.5 M58.7,346.0 H62.5" stroke="#ee6666" stroke-width="1.0" fill="none" opacity="1.00"/>
<path d="M65.8,333.0 V348.8 M63.9,333.0 H67.7 M63.9,348.8 H67.7" stroke="#ee6666" stroke-width="1.0" fill="none" opacity="1.00"/>
<path d="M75.0,325.5 V350.0 M73.1,325.5 H76.9 M73.1,350.0 H76.9" stroke="#ee6666" stroke-width="1.0" fill="none" opacity="1.00"/>
<path d="M135.5,302.5 V315.0 M133.6,302.5 H137.4 M133.6,315.0 H137.4" stroke="#ee6666" stroke-width="1.0" fill="none" opacity="1.00"/>
<path d="M224.5,288.0 V313.0 M222.6,288.0 H226.4 M222.6,313.0 H226.4" stroke="#ee6666" stroke-width="1.0" fill="none" opacity="1.00"/>
<rect x="47.6" y="363.4" width="4.8" height="4.8" fill="#1414d2"/>
<rect x="58.2" y="350.6" width="4.8" height="4.8" fill="#1414d2"/>
<rect x="63.4" y="345.9" width="4.8" height="4.8" fill="#1414d2"/>
<rect x="72.6" y="345.1" width="4.8" height="4.8" fill="#1414d2"/>
<rect x="133.1" y="317.6" width="4.8" height="4.8" fill="#1414d2"/>
<rect x="222.1" y="255.6" width="4.8" height="4.8" fill="#1414d2"/>
<circle cx="50.0" cy="348.2" r="2.6" fill="#e02c20"/>
<circle cx="60.6" cy="340.8" r="2.6" fill="#e02c20"/>
<circle cx="65.8" cy="342.0" r="2.6" fill="#e02c20"/>
<circle cx="75.0" cy="338.0" r="2.6" fill="#e02c20"/>
<circle cx="135.5" cy="308.8" r="2.6" fill="#e02c20"/>
<circle cx="224.5" cy="300.5" r="2.6" fill="#e02c20"/>
<rect x="133" y="356.3" width="93.2" height="25.8" fill="#fff" stroke="#666" stroke-width="0.9"/>
<rect x="139" y="360.2" width="4.6" height="4.6" fill="#1414d2"/>
<circle cx="141.3" cy="373.8" r="2.5" fill="#e0181c"/>
<text class="t10" x="148.6" y="366.3">Topographic res.</text>
<text class="t10" x="148.6" y="377.6">Optical res.</text>
</g>
<g id="panelE">
<path d="M317.0,388.7 v-5.0 M317.0,238.8 v5.0 M332.7,388.7 v-2.6 M332.7,238.8 v2.6 M348.4,388.7 v-5.0 M348.4,238.8 v5.0 M364.1,388.7 v-2.6 M364.1,238.8 v2.6 M379.8,388.7 v-5.0 M379.8,238.8 v5.0 M395.5,388.7 v-2.6 M395.5,238.8 v2.6 M411.2,388.7 v-5.0 M411.2,238.8 v5.0 M427.0,388.7 v-2.6 M427.0,238.8 v2.6 M442.7,388.7 v-5.0 M442.7,238.8 v5.0 M458.4,388.7 v-2.6 M458.4,238.8 v2.6 M474.1,388.7 v-5.0 M474.1,238.8 v5.0 M489.8,388.7 v-2.6 M489.8,238.8 v2.6 M505.5,388.7 v-5.0 M505.5,238.8 v5.0 M301.3,375.3 h5.0 M505.6,375.3 h-5.0 M301.3,357.0 h2.8 M505.6,357.0 h-2.8 M301.3,338.8 h5.0 M505.6,338.8 h-5.0 M301.3,320.5 h2.8 M505.6,320.5 h-2.8 M301.3,302.3 h5.0 M505.6,302.3 h-5.0 M301.3,284.0 h2.8 M505.6,284.0 h-2.8 M301.3,265.7 h5.0 M505.6,265.7 h-5.0 M301.3,247.5 h2.8 M505.6,247.5 h-2.8" stroke="#111" stroke-width="1.1" fill="none"/>
<rect x="301.3" y="238.8" width="204.3" height="149.9" fill="none" stroke="#111" stroke-width="1.5"/>
<text class="t10" x="298.2" y="379.6" text-anchor="end">80</text>
<text class="t10" x="298.2" y="343.1" text-anchor="end">100</text>
<text class="t10" x="298.2" y="306.6" text-anchor="end">120</text>
<text class="t10" x="298.2" y="270.0" text-anchor="end">140</text>
<text class="t10" x="317.0" y="402.2" text-anchor="middle">2.0</text>
<text class="t10" x="348.4" y="402.2" text-anchor="middle">2.5</text>
<text class="t10" x="379.8" y="402.2" text-anchor="middle">3.0</text>
<text class="t10" x="411.2" y="402.2" text-anchor="middle">3.5</text>
<text class="t10" x="442.7" y="402.2" text-anchor="middle">4.0</text>
<text class="t10" x="474.1" y="402.2" text-anchor="middle">4.5</text>
<text class="t10" x="505.5" y="402.2" text-anchor="middle">5.0</text>
<text class="t12" x="403.2" y="414.6" text-anchor="middle">Frequency (THz)</text>
<text class="t12" transform="translate(272.2 313.9) rotate(-90)" text-anchor="middle">Resolution (nm)</text>
<text class="pl" x="314" y="257.5">e</text>
<path d="M317.0,318.7 V382.6 M315.2,318.7 H318.8 M315.2,382.6 H318.8" stroke="#7890f0" stroke-width="1.0" fill="none" opacity="1.00"/>
<path d="M379.8,329.7 V366.2 M378.0,329.7 H381.6 M378.0,366.2 H381.6" stroke="#7890f0" stroke-width="1.0" fill="none" opacity="1.00"/>
<path d="M480.4,327.8 V356.1 M478.6,327.8 H482.2 M478.6,356.1 H482.2" stroke="#7890f0" stroke-width="1.0" fill="none" opacity="1.00"/>
<path d="M317.0,291.3 V375.3 M315.2,291.3 H318.8 M315.2,375.3 H318.8" stroke="#f0808c" stroke-width="1.2" fill="none" opacity="1.00"/>
<path d="M379.8,245.7 V329.7 M378.0,245.7 H381.6 M378.0,329.7 H381.6" stroke="#f0808c" stroke-width="1.2" fill="none" opacity="1.00"/>
<path d="M480.4,298.6 V351.6 M478.6,298.6 H482.2 M478.6,351.6 H482.2" stroke="#f0808c" stroke-width="1.2" fill="none" opacity="1.00"/>
<rect x="314.7" y="348.3" width="4.6" height="4.6" fill="#2a10b4"/>
<rect x="377.5" y="345.6" width="4.6" height="4.6" fill="#2a10b4"/>
<rect x="478.1" y="339.2" width="4.6" height="4.6" fill="#2a10b4"/>
<circle cx="317.0" cy="333.3" r="2.6" fill="#e0181c"/>
<circle cx="379.8" cy="297.7" r="2.6" fill="#e0181c"/>
<circle cx="480.4" cy="325.1" r="2.6" fill="#e0181c"/>
</g>
</svg></body></html>
